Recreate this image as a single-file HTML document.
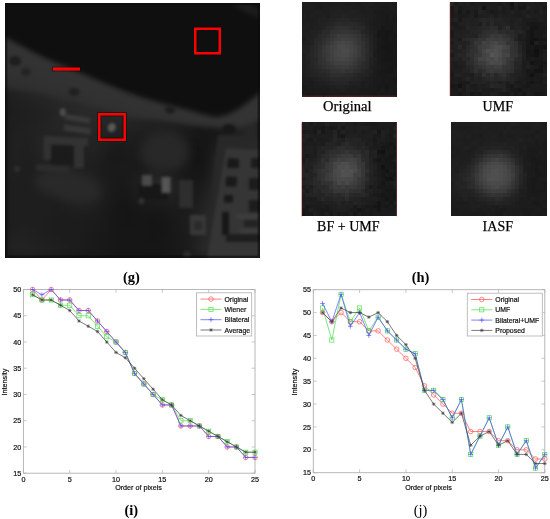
<!DOCTYPE html>
<html><head><meta charset="utf-8"><title>Figure</title>
<style>html,body{margin:0;padding:0;background:#fff;} svg{display:block;}</style></head>
<body><svg width="550" height="519" viewBox="0 0 550 519">
<rect width="550" height="519" fill="#fff"/>

<defs>
 <clipPath id="gclip"><rect x="5" y="3" width="255" height="255"/></clipPath>
 <filter id="gblur" color-interpolation-filters="sRGB" x="-10%" y="-10%" width="120%" height="120%"><feGaussianBlur stdDeviation="5"/></filter>
 <filter id="tankblur" color-interpolation-filters="sRGB" x="-50%" y="-50%" width="200%" height="200%"><feGaussianBlur stdDeviation="4"/></filter>
 <filter id="gblur3" color-interpolation-filters="sRGB" x="-20%" y="-20%" width="140%" height="140%"><feGaussianBlur stdDeviation="2.5"/></filter>
 <filter id="gblur2" color-interpolation-filters="sRGB" x="-20%" y="-20%" width="140%" height="140%"><feGaussianBlur stdDeviation="1.5"/></filter>
</defs>
<g clip-path="url(#gclip)">
 <rect x="5" y="3" width="255" height="255" fill="#141414"/>
 <g filter="url(#gblur)"><g transform="translate(5,3) scale(7.9688)"><rect x="0" y="0" width="1.1" height="1.1" fill="#111111"/><rect x="1" y="0" width="1.1" height="1.1" fill="#111111"/><rect x="2" y="0" width="1.1" height="1.1" fill="#111111"/><rect x="3" y="0" width="1.1" height="1.1" fill="#111111"/><rect x="4" y="0" width="1.1" height="1.1" fill="#111111"/><rect x="5" y="0" width="1.1" height="1.1" fill="#111111"/><rect x="6" y="0" width="1.1" height="1.1" fill="#111111"/><rect x="7" y="0" width="1.1" height="1.1" fill="#111111"/><rect x="8" y="0" width="1.1" height="1.1" fill="#111111"/><rect x="9" y="0" width="1.1" height="1.1" fill="#111111"/><rect x="10" y="0" width="1.1" height="1.1" fill="#111111"/><rect x="11" y="0" width="1.1" height="1.1" fill="#111111"/><rect x="12" y="0" width="1.1" height="1.1" fill="#111111"/><rect x="13" y="0" width="1.1" height="1.1" fill="#111111"/><rect x="14" y="0" width="1.1" height="1.1" fill="#111111"/><rect x="15" y="0" width="1.1" height="1.1" fill="#111111"/><rect x="16" y="0" width="1.1" height="1.1" fill="#111111"/><rect x="17" y="0" width="1.1" height="1.1" fill="#111111"/><rect x="18" y="0" width="1.1" height="1.1" fill="#111111"/><rect x="19" y="0" width="1.1" height="1.1" fill="#111111"/><rect x="20" y="0" width="1.1" height="1.1" fill="#111111"/><rect x="21" y="0" width="1.1" height="1.1" fill="#111111"/><rect x="22" y="0" width="1.1" height="1.1" fill="#111111"/><rect x="23" y="0" width="1.1" height="1.1" fill="#111111"/><rect x="24" y="0" width="1.1" height="1.1" fill="#111111"/><rect x="25" y="0" width="1.1" height="1.1" fill="#111111"/><rect x="26" y="0" width="1.1" height="1.1" fill="#121212"/><rect x="27" y="0" width="1.1" height="1.1" fill="#131313"/><rect x="28" y="0" width="1.1" height="1.1" fill="#141414"/><rect x="29" y="0" width="1.1" height="1.1" fill="#171717"/><rect x="30" y="0" width="1.1" height="1.1" fill="#1a1a1a"/><rect x="31" y="0" width="1.1" height="1.1" fill="#1b1b1b"/><rect x="0" y="1" width="1.1" height="1.1" fill="#111111"/><rect x="1" y="1" width="1.1" height="1.1" fill="#111111"/><rect x="2" y="1" width="1.1" height="1.1" fill="#111111"/><rect x="3" y="1" width="1.1" height="1.1" fill="#111111"/><rect x="4" y="1" width="1.1" height="1.1" fill="#111111"/><rect x="5" y="1" width="1.1" height="1.1" fill="#111111"/><rect x="6" y="1" width="1.1" height="1.1" fill="#111111"/><rect x="7" y="1" width="1.1" height="1.1" fill="#111111"/><rect x="8" y="1" width="1.1" height="1.1" fill="#111111"/><rect x="9" y="1" width="1.1" height="1.1" fill="#111111"/><rect x="10" y="1" width="1.1" height="1.1" fill="#111111"/><rect x="11" y="1" width="1.1" height="1.1" fill="#111111"/><rect x="12" y="1" width="1.1" height="1.1" fill="#111111"/><rect x="13" y="1" width="1.1" height="1.1" fill="#111111"/><rect x="14" y="1" width="1.1" height="1.1" fill="#111111"/><rect x="15" y="1" width="1.1" height="1.1" fill="#111111"/><rect x="16" y="1" width="1.1" height="1.1" fill="#111111"/><rect x="17" y="1" width="1.1" height="1.1" fill="#111111"/><rect x="18" y="1" width="1.1" height="1.1" fill="#111111"/><rect x="19" y="1" width="1.1" height="1.1" fill="#111111"/><rect x="20" y="1" width="1.1" height="1.1" fill="#111111"/><rect x="21" y="1" width="1.1" height="1.1" fill="#111111"/><rect x="22" y="1" width="1.1" height="1.1" fill="#111111"/><rect x="23" y="1" width="1.1" height="1.1" fill="#111111"/><rect x="24" y="1" width="1.1" height="1.1" fill="#111111"/><rect x="25" y="1" width="1.1" height="1.1" fill="#111111"/><rect x="26" y="1" width="1.1" height="1.1" fill="#111111"/><rect x="27" y="1" width="1.1" height="1.1" fill="#121212"/><rect x="28" y="1" width="1.1" height="1.1" fill="#141414"/><rect x="29" y="1" width="1.1" height="1.1" fill="#161616"/><rect x="30" y="1" width="1.1" height="1.1" fill="#181818"/><rect x="31" y="1" width="1.1" height="1.1" fill="#191919"/><rect x="0" y="2" width="1.1" height="1.1" fill="#111111"/><rect x="1" y="2" width="1.1" height="1.1" fill="#111111"/><rect x="2" y="2" width="1.1" height="1.1" fill="#111111"/><rect x="3" y="2" width="1.1" height="1.1" fill="#101010"/><rect x="4" y="2" width="1.1" height="1.1" fill="#111111"/><rect x="5" y="2" width="1.1" height="1.1" fill="#111111"/><rect x="6" y="2" width="1.1" height="1.1" fill="#111111"/><rect x="7" y="2" width="1.1" height="1.1" fill="#111111"/><rect x="8" y="2" width="1.1" height="1.1" fill="#111111"/><rect x="9" y="2" width="1.1" height="1.1" fill="#111111"/><rect x="10" y="2" width="1.1" height="1.1" fill="#111111"/><rect x="11" y="2" width="1.1" height="1.1" fill="#111111"/><rect x="12" y="2" width="1.1" height="1.1" fill="#111111"/><rect x="13" y="2" width="1.1" height="1.1" fill="#111111"/><rect x="14" y="2" width="1.1" height="1.1" fill="#111111"/><rect x="15" y="2" width="1.1" height="1.1" fill="#111111"/><rect x="16" y="2" width="1.1" height="1.1" fill="#111111"/><rect x="17" y="2" width="1.1" height="1.1" fill="#111111"/><rect x="18" y="2" width="1.1" height="1.1" fill="#111111"/><rect x="19" y="2" width="1.1" height="1.1" fill="#111111"/><rect x="20" y="2" width="1.1" height="1.1" fill="#111111"/><rect x="21" y="2" width="1.1" height="1.1" fill="#111111"/><rect x="22" y="2" width="1.1" height="1.1" fill="#111111"/><rect x="23" y="2" width="1.1" height="1.1" fill="#111111"/><rect x="24" y="2" width="1.1" height="1.1" fill="#111111"/><rect x="25" y="2" width="1.1" height="1.1" fill="#111111"/><rect x="26" y="2" width="1.1" height="1.1" fill="#111111"/><rect x="27" y="2" width="1.1" height="1.1" fill="#111111"/><rect x="28" y="2" width="1.1" height="1.1" fill="#121212"/><rect x="29" y="2" width="1.1" height="1.1" fill="#131313"/><rect x="30" y="2" width="1.1" height="1.1" fill="#151515"/><rect x="31" y="2" width="1.1" height="1.1" fill="#161616"/><rect x="0" y="3" width="1.1" height="1.1" fill="#171717"/><rect x="1" y="3" width="1.1" height="1.1" fill="#161616"/><rect x="2" y="3" width="1.1" height="1.1" fill="#131313"/><rect x="3" y="3" width="1.1" height="1.1" fill="#121212"/><rect x="4" y="3" width="1.1" height="1.1" fill="#111111"/><rect x="5" y="3" width="1.1" height="1.1" fill="#111111"/><rect x="6" y="3" width="1.1" height="1.1" fill="#111111"/><rect x="7" y="3" width="1.1" height="1.1" fill="#111111"/><rect x="8" y="3" width="1.1" height="1.1" fill="#111111"/><rect x="9" y="3" width="1.1" height="1.1" fill="#111111"/><rect x="10" y="3" width="1.1" height="1.1" fill="#111111"/><rect x="11" y="3" width="1.1" height="1.1" fill="#111111"/><rect x="12" y="3" width="1.1" height="1.1" fill="#111111"/><rect x="13" y="3" width="1.1" height="1.1" fill="#111111"/><rect x="14" y="3" width="1.1" height="1.1" fill="#111111"/><rect x="15" y="3" width="1.1" height="1.1" fill="#111111"/><rect x="16" y="3" width="1.1" height="1.1" fill="#111111"/><rect x="17" y="3" width="1.1" height="1.1" fill="#111111"/><rect x="18" y="3" width="1.1" height="1.1" fill="#111111"/><rect x="19" y="3" width="1.1" height="1.1" fill="#111111"/><rect x="20" y="3" width="1.1" height="1.1" fill="#111111"/><rect x="21" y="3" width="1.1" height="1.1" fill="#111111"/><rect x="22" y="3" width="1.1" height="1.1" fill="#111111"/><rect x="23" y="3" width="1.1" height="1.1" fill="#111111"/><rect x="24" y="3" width="1.1" height="1.1" fill="#111111"/><rect x="25" y="3" width="1.1" height="1.1" fill="#111111"/><rect x="26" y="3" width="1.1" height="1.1" fill="#111111"/><rect x="27" y="3" width="1.1" height="1.1" fill="#111111"/><rect x="28" y="3" width="1.1" height="1.1" fill="#111111"/><rect x="29" y="3" width="1.1" height="1.1" fill="#121212"/><rect x="30" y="3" width="1.1" height="1.1" fill="#131313"/><rect x="31" y="3" width="1.1" height="1.1" fill="#131313"/><rect x="0" y="4" width="1.1" height="1.1" fill="#232323"/><rect x="1" y="4" width="1.1" height="1.1" fill="#202020"/><rect x="2" y="4" width="1.1" height="1.1" fill="#1a1a1a"/><rect x="3" y="4" width="1.1" height="1.1" fill="#151515"/><rect x="4" y="4" width="1.1" height="1.1" fill="#121212"/><rect x="5" y="4" width="1.1" height="1.1" fill="#111111"/><rect x="6" y="4" width="1.1" height="1.1" fill="#101010"/><rect x="7" y="4" width="1.1" height="1.1" fill="#101010"/><rect x="8" y="4" width="1.1" height="1.1" fill="#111111"/><rect x="9" y="4" width="1.1" height="1.1" fill="#111111"/><rect x="10" y="4" width="1.1" height="1.1" fill="#111111"/><rect x="11" y="4" width="1.1" height="1.1" fill="#111111"/><rect x="12" y="4" width="1.1" height="1.1" fill="#111111"/><rect x="13" y="4" width="1.1" height="1.1" fill="#111111"/><rect x="14" y="4" width="1.1" height="1.1" fill="#111111"/><rect x="15" y="4" width="1.1" height="1.1" fill="#111111"/><rect x="16" y="4" width="1.1" height="1.1" fill="#111111"/><rect x="17" y="4" width="1.1" height="1.1" fill="#111111"/><rect x="18" y="4" width="1.1" height="1.1" fill="#111111"/><rect x="19" y="4" width="1.1" height="1.1" fill="#111111"/><rect x="20" y="4" width="1.1" height="1.1" fill="#111111"/><rect x="21" y="4" width="1.1" height="1.1" fill="#111111"/><rect x="22" y="4" width="1.1" height="1.1" fill="#111111"/><rect x="23" y="4" width="1.1" height="1.1" fill="#111111"/><rect x="24" y="4" width="1.1" height="1.1" fill="#111111"/><rect x="25" y="4" width="1.1" height="1.1" fill="#111111"/><rect x="26" y="4" width="1.1" height="1.1" fill="#111111"/><rect x="27" y="4" width="1.1" height="1.1" fill="#111111"/><rect x="28" y="4" width="1.1" height="1.1" fill="#111111"/><rect x="29" y="4" width="1.1" height="1.1" fill="#111111"/><rect x="30" y="4" width="1.1" height="1.1" fill="#121212"/><rect x="31" y="4" width="1.1" height="1.1" fill="#121212"/><rect x="0" y="5" width="1.1" height="1.1" fill="#2a2a2a"/><rect x="1" y="5" width="1.1" height="1.1" fill="#272727"/><rect x="2" y="5" width="1.1" height="1.1" fill="#212121"/><rect x="3" y="5" width="1.1" height="1.1" fill="#1c1c1c"/><rect x="4" y="5" width="1.1" height="1.1" fill="#181818"/><rect x="5" y="5" width="1.1" height="1.1" fill="#151515"/><rect x="6" y="5" width="1.1" height="1.1" fill="#131313"/><rect x="7" y="5" width="1.1" height="1.1" fill="#121212"/><rect x="8" y="5" width="1.1" height="1.1" fill="#111111"/><rect x="9" y="5" width="1.1" height="1.1" fill="#111111"/><rect x="10" y="5" width="1.1" height="1.1" fill="#111111"/><rect x="11" y="5" width="1.1" height="1.1" fill="#111111"/><rect x="12" y="5" width="1.1" height="1.1" fill="#111111"/><rect x="13" y="5" width="1.1" height="1.1" fill="#111111"/><rect x="14" y="5" width="1.1" height="1.1" fill="#111111"/><rect x="15" y="5" width="1.1" height="1.1" fill="#111111"/><rect x="16" y="5" width="1.1" height="1.1" fill="#111111"/><rect x="17" y="5" width="1.1" height="1.1" fill="#111111"/><rect x="18" y="5" width="1.1" height="1.1" fill="#111111"/><rect x="19" y="5" width="1.1" height="1.1" fill="#111111"/><rect x="20" y="5" width="1.1" height="1.1" fill="#111111"/><rect x="21" y="5" width="1.1" height="1.1" fill="#111111"/><rect x="22" y="5" width="1.1" height="1.1" fill="#111111"/><rect x="23" y="5" width="1.1" height="1.1" fill="#111111"/><rect x="24" y="5" width="1.1" height="1.1" fill="#111111"/><rect x="25" y="5" width="1.1" height="1.1" fill="#111111"/><rect x="26" y="5" width="1.1" height="1.1" fill="#111111"/><rect x="27" y="5" width="1.1" height="1.1" fill="#111111"/><rect x="28" y="5" width="1.1" height="1.1" fill="#111111"/><rect x="29" y="5" width="1.1" height="1.1" fill="#111111"/><rect x="30" y="5" width="1.1" height="1.1" fill="#121212"/><rect x="31" y="5" width="1.1" height="1.1" fill="#121212"/><rect x="0" y="6" width="1.1" height="1.1" fill="#2d2d2d"/><rect x="1" y="6" width="1.1" height="1.1" fill="#2d2d2d"/><rect x="2" y="6" width="1.1" height="1.1" fill="#2b2b2b"/><rect x="3" y="6" width="1.1" height="1.1" fill="#282828"/><rect x="4" y="6" width="1.1" height="1.1" fill="#242424"/><rect x="5" y="6" width="1.1" height="1.1" fill="#1f1f1f"/><rect x="6" y="6" width="1.1" height="1.1" fill="#191919"/><rect x="7" y="6" width="1.1" height="1.1" fill="#151515"/><rect x="8" y="6" width="1.1" height="1.1" fill="#121212"/><rect x="9" y="6" width="1.1" height="1.1" fill="#101010"/><rect x="10" y="6" width="1.1" height="1.1" fill="#101010"/><rect x="11" y="6" width="1.1" height="1.1" fill="#101010"/><rect x="12" y="6" width="1.1" height="1.1" fill="#101010"/><rect x="13" y="6" width="1.1" height="1.1" fill="#111111"/><rect x="14" y="6" width="1.1" height="1.1" fill="#111111"/><rect x="15" y="6" width="1.1" height="1.1" fill="#111111"/><rect x="16" y="6" width="1.1" height="1.1" fill="#111111"/><rect x="17" y="6" width="1.1" height="1.1" fill="#111111"/><rect x="18" y="6" width="1.1" height="1.1" fill="#111111"/><rect x="19" y="6" width="1.1" height="1.1" fill="#111111"/><rect x="20" y="6" width="1.1" height="1.1" fill="#111111"/><rect x="21" y="6" width="1.1" height="1.1" fill="#111111"/><rect x="22" y="6" width="1.1" height="1.1" fill="#111111"/><rect x="23" y="6" width="1.1" height="1.1" fill="#111111"/><rect x="24" y="6" width="1.1" height="1.1" fill="#111111"/><rect x="25" y="6" width="1.1" height="1.1" fill="#111111"/><rect x="26" y="6" width="1.1" height="1.1" fill="#111111"/><rect x="27" y="6" width="1.1" height="1.1" fill="#111111"/><rect x="28" y="6" width="1.1" height="1.1" fill="#111111"/><rect x="29" y="6" width="1.1" height="1.1" fill="#111111"/><rect x="30" y="6" width="1.1" height="1.1" fill="#121212"/><rect x="31" y="6" width="1.1" height="1.1" fill="#121212"/><rect x="0" y="7" width="1.1" height="1.1" fill="#2e2e2e"/><rect x="1" y="7" width="1.1" height="1.1" fill="#2f2f2f"/><rect x="2" y="7" width="1.1" height="1.1" fill="#303030"/><rect x="3" y="7" width="1.1" height="1.1" fill="#2f2f2f"/><rect x="4" y="7" width="1.1" height="1.1" fill="#2c2c2c"/><rect x="5" y="7" width="1.1" height="1.1" fill="#282828"/><rect x="6" y="7" width="1.1" height="1.1" fill="#222222"/><rect x="7" y="7" width="1.1" height="1.1" fill="#1e1e1e"/><rect x="8" y="7" width="1.1" height="1.1" fill="#1a1a1a"/><rect x="9" y="7" width="1.1" height="1.1" fill="#171717"/><rect x="10" y="7" width="1.1" height="1.1" fill="#151515"/><rect x="11" y="7" width="1.1" height="1.1" fill="#131313"/><rect x="12" y="7" width="1.1" height="1.1" fill="#121212"/><rect x="13" y="7" width="1.1" height="1.1" fill="#121212"/><rect x="14" y="7" width="1.1" height="1.1" fill="#111111"/><rect x="15" y="7" width="1.1" height="1.1" fill="#111111"/><rect x="16" y="7" width="1.1" height="1.1" fill="#111111"/><rect x="17" y="7" width="1.1" height="1.1" fill="#111111"/><rect x="18" y="7" width="1.1" height="1.1" fill="#111111"/><rect x="19" y="7" width="1.1" height="1.1" fill="#111111"/><rect x="20" y="7" width="1.1" height="1.1" fill="#111111"/><rect x="21" y="7" width="1.1" height="1.1" fill="#111111"/><rect x="22" y="7" width="1.1" height="1.1" fill="#111111"/><rect x="23" y="7" width="1.1" height="1.1" fill="#111111"/><rect x="24" y="7" width="1.1" height="1.1" fill="#111111"/><rect x="25" y="7" width="1.1" height="1.1" fill="#111111"/><rect x="26" y="7" width="1.1" height="1.1" fill="#111111"/><rect x="27" y="7" width="1.1" height="1.1" fill="#111111"/><rect x="28" y="7" width="1.1" height="1.1" fill="#111111"/><rect x="29" y="7" width="1.1" height="1.1" fill="#111111"/><rect x="30" y="7" width="1.1" height="1.1" fill="#121212"/><rect x="31" y="7" width="1.1" height="1.1" fill="#121212"/><rect x="0" y="8" width="1.1" height="1.1" fill="#2d2d2d"/><rect x="1" y="8" width="1.1" height="1.1" fill="#2e2e2e"/><rect x="2" y="8" width="1.1" height="1.1" fill="#303030"/><rect x="3" y="8" width="1.1" height="1.1" fill="#313131"/><rect x="4" y="8" width="1.1" height="1.1" fill="#313131"/><rect x="5" y="8" width="1.1" height="1.1" fill="#303030"/><rect x="6" y="8" width="1.1" height="1.1" fill="#2f2f2f"/><rect x="7" y="8" width="1.1" height="1.1" fill="#2d2d2d"/><rect x="8" y="8" width="1.1" height="1.1" fill="#2b2b2b"/><rect x="9" y="8" width="1.1" height="1.1" fill="#262626"/><rect x="10" y="8" width="1.1" height="1.1" fill="#202020"/><rect x="11" y="8" width="1.1" height="1.1" fill="#1b1b1b"/><rect x="12" y="8" width="1.1" height="1.1" fill="#171717"/><rect x="13" y="8" width="1.1" height="1.1" fill="#141414"/><rect x="14" y="8" width="1.1" height="1.1" fill="#121212"/><rect x="15" y="8" width="1.1" height="1.1" fill="#111111"/><rect x="16" y="8" width="1.1" height="1.1" fill="#101010"/><rect x="17" y="8" width="1.1" height="1.1" fill="#101010"/><rect x="18" y="8" width="1.1" height="1.1" fill="#101010"/><rect x="19" y="8" width="1.1" height="1.1" fill="#111111"/><rect x="20" y="8" width="1.1" height="1.1" fill="#111111"/><rect x="21" y="8" width="1.1" height="1.1" fill="#111111"/><rect x="22" y="8" width="1.1" height="1.1" fill="#111111"/><rect x="23" y="8" width="1.1" height="1.1" fill="#111111"/><rect x="24" y="8" width="1.1" height="1.1" fill="#111111"/><rect x="25" y="8" width="1.1" height="1.1" fill="#111111"/><rect x="26" y="8" width="1.1" height="1.1" fill="#111111"/><rect x="27" y="8" width="1.1" height="1.1" fill="#111111"/><rect x="28" y="8" width="1.1" height="1.1" fill="#111111"/><rect x="29" y="8" width="1.1" height="1.1" fill="#111111"/><rect x="30" y="8" width="1.1" height="1.1" fill="#121212"/><rect x="31" y="8" width="1.1" height="1.1" fill="#121212"/><rect x="0" y="9" width="1.1" height="1.1" fill="#2a2a2a"/><rect x="1" y="9" width="1.1" height="1.1" fill="#2b2b2b"/><rect x="2" y="9" width="1.1" height="1.1" fill="#2d2d2d"/><rect x="3" y="9" width="1.1" height="1.1" fill="#2f2f2f"/><rect x="4" y="9" width="1.1" height="1.1" fill="#313131"/><rect x="5" y="9" width="1.1" height="1.1" fill="#323232"/><rect x="6" y="9" width="1.1" height="1.1" fill="#343434"/><rect x="7" y="9" width="1.1" height="1.1" fill="#343434"/><rect x="8" y="9" width="1.1" height="1.1" fill="#323232"/><rect x="9" y="9" width="1.1" height="1.1" fill="#2e2e2e"/><rect x="10" y="9" width="1.1" height="1.1" fill="#292929"/><rect x="11" y="9" width="1.1" height="1.1" fill="#242424"/><rect x="12" y="9" width="1.1" height="1.1" fill="#202020"/><rect x="13" y="9" width="1.1" height="1.1" fill="#1c1c1c"/><rect x="14" y="9" width="1.1" height="1.1" fill="#191919"/><rect x="15" y="9" width="1.1" height="1.1" fill="#161616"/><rect x="16" y="9" width="1.1" height="1.1" fill="#141414"/><rect x="17" y="9" width="1.1" height="1.1" fill="#131313"/><rect x="18" y="9" width="1.1" height="1.1" fill="#121212"/><rect x="19" y="9" width="1.1" height="1.1" fill="#111111"/><rect x="20" y="9" width="1.1" height="1.1" fill="#111111"/><rect x="21" y="9" width="1.1" height="1.1" fill="#111111"/><rect x="22" y="9" width="1.1" height="1.1" fill="#111111"/><rect x="23" y="9" width="1.1" height="1.1" fill="#111111"/><rect x="24" y="9" width="1.1" height="1.1" fill="#111111"/><rect x="25" y="9" width="1.1" height="1.1" fill="#111111"/><rect x="26" y="9" width="1.1" height="1.1" fill="#111111"/><rect x="27" y="9" width="1.1" height="1.1" fill="#111111"/><rect x="28" y="9" width="1.1" height="1.1" fill="#111111"/><rect x="29" y="9" width="1.1" height="1.1" fill="#111111"/><rect x="30" y="9" width="1.1" height="1.1" fill="#121212"/><rect x="31" y="9" width="1.1" height="1.1" fill="#121212"/><rect x="0" y="10" width="1.1" height="1.1" fill="#262626"/><rect x="1" y="10" width="1.1" height="1.1" fill="#262626"/><rect x="2" y="10" width="1.1" height="1.1" fill="#282828"/><rect x="3" y="10" width="1.1" height="1.1" fill="#292929"/><rect x="4" y="10" width="1.1" height="1.1" fill="#2b2b2b"/><rect x="5" y="10" width="1.1" height="1.1" fill="#2e2e2e"/><rect x="6" y="10" width="1.1" height="1.1" fill="#303030"/><rect x="7" y="10" width="1.1" height="1.1" fill="#303030"/><rect x="8" y="10" width="1.1" height="1.1" fill="#2f2f2f"/><rect x="9" y="10" width="1.1" height="1.1" fill="#2f2f2f"/><rect x="10" y="10" width="1.1" height="1.1" fill="#313131"/><rect x="11" y="10" width="1.1" height="1.1" fill="#303030"/><rect x="12" y="10" width="1.1" height="1.1" fill="#2d2d2d"/><rect x="13" y="10" width="1.1" height="1.1" fill="#2a2a2a"/><rect x="14" y="10" width="1.1" height="1.1" fill="#262626"/><rect x="15" y="10" width="1.1" height="1.1" fill="#212121"/><rect x="16" y="10" width="1.1" height="1.1" fill="#1c1c1c"/><rect x="17" y="10" width="1.1" height="1.1" fill="#181818"/><rect x="18" y="10" width="1.1" height="1.1" fill="#151515"/><rect x="19" y="10" width="1.1" height="1.1" fill="#131313"/><rect x="20" y="10" width="1.1" height="1.1" fill="#111111"/><rect x="21" y="10" width="1.1" height="1.1" fill="#101010"/><rect x="22" y="10" width="1.1" height="1.1" fill="#101010"/><rect x="23" y="10" width="1.1" height="1.1" fill="#111111"/><rect x="24" y="10" width="1.1" height="1.1" fill="#111111"/><rect x="25" y="10" width="1.1" height="1.1" fill="#111111"/><rect x="26" y="10" width="1.1" height="1.1" fill="#111111"/><rect x="27" y="10" width="1.1" height="1.1" fill="#111111"/><rect x="28" y="10" width="1.1" height="1.1" fill="#101010"/><rect x="29" y="10" width="1.1" height="1.1" fill="#111111"/><rect x="30" y="10" width="1.1" height="1.1" fill="#121212"/><rect x="31" y="10" width="1.1" height="1.1" fill="#131313"/><rect x="0" y="11" width="1.1" height="1.1" fill="#222222"/><rect x="1" y="11" width="1.1" height="1.1" fill="#222222"/><rect x="2" y="11" width="1.1" height="1.1" fill="#232323"/><rect x="3" y="11" width="1.1" height="1.1" fill="#252525"/><rect x="4" y="11" width="1.1" height="1.1" fill="#272727"/><rect x="5" y="11" width="1.1" height="1.1" fill="#292929"/><rect x="6" y="11" width="1.1" height="1.1" fill="#2b2b2b"/><rect x="7" y="11" width="1.1" height="1.1" fill="#2c2c2c"/><rect x="8" y="11" width="1.1" height="1.1" fill="#2c2c2c"/><rect x="9" y="11" width="1.1" height="1.1" fill="#2e2e2e"/><rect x="10" y="11" width="1.1" height="1.1" fill="#313131"/><rect x="11" y="11" width="1.1" height="1.1" fill="#333333"/><rect x="12" y="11" width="1.1" height="1.1" fill="#323232"/><rect x="13" y="11" width="1.1" height="1.1" fill="#303030"/><rect x="14" y="11" width="1.1" height="1.1" fill="#2d2d2d"/><rect x="15" y="11" width="1.1" height="1.1" fill="#292929"/><rect x="16" y="11" width="1.1" height="1.1" fill="#242424"/><rect x="17" y="11" width="1.1" height="1.1" fill="#202020"/><rect x="18" y="11" width="1.1" height="1.1" fill="#1c1c1c"/><rect x="19" y="11" width="1.1" height="1.1" fill="#191919"/><rect x="20" y="11" width="1.1" height="1.1" fill="#161616"/><rect x="21" y="11" width="1.1" height="1.1" fill="#141414"/><rect x="22" y="11" width="1.1" height="1.1" fill="#131313"/><rect x="23" y="11" width="1.1" height="1.1" fill="#121212"/><rect x="24" y="11" width="1.1" height="1.1" fill="#111111"/><rect x="25" y="11" width="1.1" height="1.1" fill="#111111"/><rect x="26" y="11" width="1.1" height="1.1" fill="#111111"/><rect x="27" y="11" width="1.1" height="1.1" fill="#121212"/><rect x="28" y="11" width="1.1" height="1.1" fill="#121212"/><rect x="29" y="11" width="1.1" height="1.1" fill="#141414"/><rect x="30" y="11" width="1.1" height="1.1" fill="#161616"/><rect x="31" y="11" width="1.1" height="1.1" fill="#171717"/><rect x="0" y="12" width="1.1" height="1.1" fill="#1f1f1f"/><rect x="1" y="12" width="1.1" height="1.1" fill="#1f1f1f"/><rect x="2" y="12" width="1.1" height="1.1" fill="#202020"/><rect x="3" y="12" width="1.1" height="1.1" fill="#222222"/><rect x="4" y="12" width="1.1" height="1.1" fill="#232323"/><rect x="5" y="12" width="1.1" height="1.1" fill="#242424"/><rect x="6" y="12" width="1.1" height="1.1" fill="#272727"/><rect x="7" y="12" width="1.1" height="1.1" fill="#282828"/><rect x="8" y="12" width="1.1" height="1.1" fill="#292929"/><rect x="9" y="12" width="1.1" height="1.1" fill="#2a2a2a"/><rect x="10" y="12" width="1.1" height="1.1" fill="#2c2c2c"/><rect x="11" y="12" width="1.1" height="1.1" fill="#2d2d2d"/><rect x="12" y="12" width="1.1" height="1.1" fill="#2e2e2e"/><rect x="13" y="12" width="1.1" height="1.1" fill="#2e2e2e"/><rect x="14" y="12" width="1.1" height="1.1" fill="#2e2e2e"/><rect x="15" y="12" width="1.1" height="1.1" fill="#2d2d2d"/><rect x="16" y="12" width="1.1" height="1.1" fill="#2b2b2b"/><rect x="17" y="12" width="1.1" height="1.1" fill="#292929"/><rect x="18" y="12" width="1.1" height="1.1" fill="#262626"/><rect x="19" y="12" width="1.1" height="1.1" fill="#242424"/><rect x="20" y="12" width="1.1" height="1.1" fill="#212121"/><rect x="21" y="12" width="1.1" height="1.1" fill="#1d1d1d"/><rect x="22" y="12" width="1.1" height="1.1" fill="#181818"/><rect x="23" y="12" width="1.1" height="1.1" fill="#151515"/><rect x="24" y="12" width="1.1" height="1.1" fill="#131313"/><rect x="25" y="12" width="1.1" height="1.1" fill="#121212"/><rect x="26" y="12" width="1.1" height="1.1" fill="#121212"/><rect x="27" y="12" width="1.1" height="1.1" fill="#141414"/><rect x="28" y="12" width="1.1" height="1.1" fill="#161616"/><rect x="29" y="12" width="1.1" height="1.1" fill="#1a1a1a"/><rect x="30" y="12" width="1.1" height="1.1" fill="#1e1e1e"/><rect x="31" y="12" width="1.1" height="1.1" fill="#1f1f1f"/><rect x="0" y="13" width="1.1" height="1.1" fill="#1d1d1d"/><rect x="1" y="13" width="1.1" height="1.1" fill="#1e1e1e"/><rect x="2" y="13" width="1.1" height="1.1" fill="#1f1f1f"/><rect x="3" y="13" width="1.1" height="1.1" fill="#202020"/><rect x="4" y="13" width="1.1" height="1.1" fill="#212121"/><rect x="5" y="13" width="1.1" height="1.1" fill="#222222"/><rect x="6" y="13" width="1.1" height="1.1" fill="#252525"/><rect x="7" y="13" width="1.1" height="1.1" fill="#262626"/><rect x="8" y="13" width="1.1" height="1.1" fill="#272727"/><rect x="9" y="13" width="1.1" height="1.1" fill="#282828"/><rect x="10" y="13" width="1.1" height="1.1" fill="#292929"/><rect x="11" y="13" width="1.1" height="1.1" fill="#292929"/><rect x="12" y="13" width="1.1" height="1.1" fill="#2a2a2a"/><rect x="13" y="13" width="1.1" height="1.1" fill="#2b2b2b"/><rect x="14" y="13" width="1.1" height="1.1" fill="#2c2c2c"/><rect x="15" y="13" width="1.1" height="1.1" fill="#2c2c2c"/><rect x="16" y="13" width="1.1" height="1.1" fill="#2c2c2c"/><rect x="17" y="13" width="1.1" height="1.1" fill="#2a2a2a"/><rect x="18" y="13" width="1.1" height="1.1" fill="#292929"/><rect x="19" y="13" width="1.1" height="1.1" fill="#272727"/><rect x="20" y="13" width="1.1" height="1.1" fill="#242424"/><rect x="21" y="13" width="1.1" height="1.1" fill="#212121"/><rect x="22" y="13" width="1.1" height="1.1" fill="#1c1c1c"/><rect x="23" y="13" width="1.1" height="1.1" fill="#181818"/><rect x="24" y="13" width="1.1" height="1.1" fill="#151515"/><rect x="25" y="13" width="1.1" height="1.1" fill="#141414"/><rect x="26" y="13" width="1.1" height="1.1" fill="#151515"/><rect x="27" y="13" width="1.1" height="1.1" fill="#171717"/><rect x="28" y="13" width="1.1" height="1.1" fill="#1a1a1a"/><rect x="29" y="13" width="1.1" height="1.1" fill="#1e1e1e"/><rect x="30" y="13" width="1.1" height="1.1" fill="#232323"/><rect x="31" y="13" width="1.1" height="1.1" fill="#252525"/><rect x="0" y="14" width="1.1" height="1.1" fill="#1e1e1e"/><rect x="1" y="14" width="1.1" height="1.1" fill="#1e1e1e"/><rect x="2" y="14" width="1.1" height="1.1" fill="#1f1f1f"/><rect x="3" y="14" width="1.1" height="1.1" fill="#202020"/><rect x="4" y="14" width="1.1" height="1.1" fill="#212121"/><rect x="5" y="14" width="1.1" height="1.1" fill="#232323"/><rect x="6" y="14" width="1.1" height="1.1" fill="#252525"/><rect x="7" y="14" width="1.1" height="1.1" fill="#272727"/><rect x="8" y="14" width="1.1" height="1.1" fill="#282828"/><rect x="9" y="14" width="1.1" height="1.1" fill="#282828"/><rect x="10" y="14" width="1.1" height="1.1" fill="#292929"/><rect x="11" y="14" width="1.1" height="1.1" fill="#282828"/><rect x="12" y="14" width="1.1" height="1.1" fill="#262626"/><rect x="13" y="14" width="1.1" height="1.1" fill="#262626"/><rect x="14" y="14" width="1.1" height="1.1" fill="#272727"/><rect x="15" y="14" width="1.1" height="1.1" fill="#262626"/><rect x="16" y="14" width="1.1" height="1.1" fill="#252525"/><rect x="17" y="14" width="1.1" height="1.1" fill="#242424"/><rect x="18" y="14" width="1.1" height="1.1" fill="#222222"/><rect x="19" y="14" width="1.1" height="1.1" fill="#222222"/><rect x="20" y="14" width="1.1" height="1.1" fill="#212121"/><rect x="21" y="14" width="1.1" height="1.1" fill="#202020"/><rect x="22" y="14" width="1.1" height="1.1" fill="#1d1d1d"/><rect x="23" y="14" width="1.1" height="1.1" fill="#1a1a1a"/><rect x="24" y="14" width="1.1" height="1.1" fill="#181818"/><rect x="25" y="14" width="1.1" height="1.1" fill="#171717"/><rect x="26" y="14" width="1.1" height="1.1" fill="#181818"/><rect x="27" y="14" width="1.1" height="1.1" fill="#1a1a1a"/><rect x="28" y="14" width="1.1" height="1.1" fill="#1f1f1f"/><rect x="29" y="14" width="1.1" height="1.1" fill="#232323"/><rect x="30" y="14" width="1.1" height="1.1" fill="#262626"/><rect x="31" y="14" width="1.1" height="1.1" fill="#282828"/><rect x="0" y="15" width="1.1" height="1.1" fill="#1e1e1e"/><rect x="1" y="15" width="1.1" height="1.1" fill="#1f1f1f"/><rect x="2" y="15" width="1.1" height="1.1" fill="#202020"/><rect x="3" y="15" width="1.1" height="1.1" fill="#212121"/><rect x="4" y="15" width="1.1" height="1.1" fill="#222222"/><rect x="5" y="15" width="1.1" height="1.1" fill="#232323"/><rect x="6" y="15" width="1.1" height="1.1" fill="#252525"/><rect x="7" y="15" width="1.1" height="1.1" fill="#262626"/><rect x="8" y="15" width="1.1" height="1.1" fill="#272727"/><rect x="9" y="15" width="1.1" height="1.1" fill="#282828"/><rect x="10" y="15" width="1.1" height="1.1" fill="#282828"/><rect x="11" y="15" width="1.1" height="1.1" fill="#262626"/><rect x="12" y="15" width="1.1" height="1.1" fill="#242424"/><rect x="13" y="15" width="1.1" height="1.1" fill="#222222"/><rect x="14" y="15" width="1.1" height="1.1" fill="#222222"/><rect x="15" y="15" width="1.1" height="1.1" fill="#222222"/><rect x="16" y="15" width="1.1" height="1.1" fill="#212121"/><rect x="17" y="15" width="1.1" height="1.1" fill="#202020"/><rect x="18" y="15" width="1.1" height="1.1" fill="#202020"/><rect x="19" y="15" width="1.1" height="1.1" fill="#202020"/><rect x="20" y="15" width="1.1" height="1.1" fill="#202020"/><rect x="21" y="15" width="1.1" height="1.1" fill="#1f1f1f"/><rect x="22" y="15" width="1.1" height="1.1" fill="#1d1d1d"/><rect x="23" y="15" width="1.1" height="1.1" fill="#1b1b1b"/><rect x="24" y="15" width="1.1" height="1.1" fill="#181818"/><rect x="25" y="15" width="1.1" height="1.1" fill="#181818"/><rect x="26" y="15" width="1.1" height="1.1" fill="#191919"/><rect x="27" y="15" width="1.1" height="1.1" fill="#1c1c1c"/><rect x="28" y="15" width="1.1" height="1.1" fill="#202020"/><rect x="29" y="15" width="1.1" height="1.1" fill="#242424"/><rect x="30" y="15" width="1.1" height="1.1" fill="#272727"/><rect x="31" y="15" width="1.1" height="1.1" fill="#292929"/><rect x="0" y="16" width="1.1" height="1.1" fill="#202020"/><rect x="1" y="16" width="1.1" height="1.1" fill="#202020"/><rect x="2" y="16" width="1.1" height="1.1" fill="#202020"/><rect x="3" y="16" width="1.1" height="1.1" fill="#212121"/><rect x="4" y="16" width="1.1" height="1.1" fill="#232323"/><rect x="5" y="16" width="1.1" height="1.1" fill="#242424"/><rect x="6" y="16" width="1.1" height="1.1" fill="#232323"/><rect x="7" y="16" width="1.1" height="1.1" fill="#242424"/><rect x="8" y="16" width="1.1" height="1.1" fill="#252525"/><rect x="9" y="16" width="1.1" height="1.1" fill="#262626"/><rect x="10" y="16" width="1.1" height="1.1" fill="#252525"/><rect x="11" y="16" width="1.1" height="1.1" fill="#242424"/><rect x="12" y="16" width="1.1" height="1.1" fill="#222222"/><rect x="13" y="16" width="1.1" height="1.1" fill="#202020"/><rect x="14" y="16" width="1.1" height="1.1" fill="#202020"/><rect x="15" y="16" width="1.1" height="1.1" fill="#1f1f1f"/><rect x="16" y="16" width="1.1" height="1.1" fill="#1f1f1f"/><rect x="17" y="16" width="1.1" height="1.1" fill="#1f1f1f"/><rect x="18" y="16" width="1.1" height="1.1" fill="#212121"/><rect x="19" y="16" width="1.1" height="1.1" fill="#212121"/><rect x="20" y="16" width="1.1" height="1.1" fill="#212121"/><rect x="21" y="16" width="1.1" height="1.1" fill="#1f1f1f"/><rect x="22" y="16" width="1.1" height="1.1" fill="#1c1c1c"/><rect x="23" y="16" width="1.1" height="1.1" fill="#191919"/><rect x="24" y="16" width="1.1" height="1.1" fill="#161616"/><rect x="25" y="16" width="1.1" height="1.1" fill="#161616"/><rect x="26" y="16" width="1.1" height="1.1" fill="#181818"/><rect x="27" y="16" width="1.1" height="1.1" fill="#1b1b1b"/><rect x="28" y="16" width="1.1" height="1.1" fill="#1f1f1f"/><rect x="29" y="16" width="1.1" height="1.1" fill="#232323"/><rect x="30" y="16" width="1.1" height="1.1" fill="#272727"/><rect x="31" y="16" width="1.1" height="1.1" fill="#292929"/><rect x="0" y="17" width="1.1" height="1.1" fill="#202020"/><rect x="1" y="17" width="1.1" height="1.1" fill="#202020"/><rect x="2" y="17" width="1.1" height="1.1" fill="#1f1f1f"/><rect x="3" y="17" width="1.1" height="1.1" fill="#212121"/><rect x="4" y="17" width="1.1" height="1.1" fill="#242424"/><rect x="5" y="17" width="1.1" height="1.1" fill="#242424"/><rect x="6" y="17" width="1.1" height="1.1" fill="#212121"/><rect x="7" y="17" width="1.1" height="1.1" fill="#202020"/><rect x="8" y="17" width="1.1" height="1.1" fill="#212121"/><rect x="9" y="17" width="1.1" height="1.1" fill="#232323"/><rect x="10" y="17" width="1.1" height="1.1" fill="#242424"/><rect x="11" y="17" width="1.1" height="1.1" fill="#232323"/><rect x="12" y="17" width="1.1" height="1.1" fill="#202020"/><rect x="13" y="17" width="1.1" height="1.1" fill="#1e1e1e"/><rect x="14" y="17" width="1.1" height="1.1" fill="#1d1d1d"/><rect x="15" y="17" width="1.1" height="1.1" fill="#1d1d1d"/><rect x="16" y="17" width="1.1" height="1.1" fill="#1d1d1d"/><rect x="17" y="17" width="1.1" height="1.1" fill="#1e1e1e"/><rect x="18" y="17" width="1.1" height="1.1" fill="#212121"/><rect x="19" y="17" width="1.1" height="1.1" fill="#222222"/><rect x="20" y="17" width="1.1" height="1.1" fill="#212121"/><rect x="21" y="17" width="1.1" height="1.1" fill="#1f1f1f"/><rect x="22" y="17" width="1.1" height="1.1" fill="#1b1b1b"/><rect x="23" y="17" width="1.1" height="1.1" fill="#181818"/><rect x="24" y="17" width="1.1" height="1.1" fill="#151515"/><rect x="25" y="17" width="1.1" height="1.1" fill="#161616"/><rect x="26" y="17" width="1.1" height="1.1" fill="#1a1a1a"/><rect x="27" y="17" width="1.1" height="1.1" fill="#1e1e1e"/><rect x="28" y="17" width="1.1" height="1.1" fill="#222222"/><rect x="29" y="17" width="1.1" height="1.1" fill="#262626"/><rect x="30" y="17" width="1.1" height="1.1" fill="#282828"/><rect x="31" y="17" width="1.1" height="1.1" fill="#292929"/><rect x="0" y="18" width="1.1" height="1.1" fill="#202020"/><rect x="1" y="18" width="1.1" height="1.1" fill="#202020"/><rect x="2" y="18" width="1.1" height="1.1" fill="#1e1e1e"/><rect x="3" y="18" width="1.1" height="1.1" fill="#202020"/><rect x="4" y="18" width="1.1" height="1.1" fill="#242424"/><rect x="5" y="18" width="1.1" height="1.1" fill="#232323"/><rect x="6" y="18" width="1.1" height="1.1" fill="#1d1d1d"/><rect x="7" y="18" width="1.1" height="1.1" fill="#1b1b1b"/><rect x="8" y="18" width="1.1" height="1.1" fill="#1c1c1c"/><rect x="9" y="18" width="1.1" height="1.1" fill="#1f1f1f"/><rect x="10" y="18" width="1.1" height="1.1" fill="#222222"/><rect x="11" y="18" width="1.1" height="1.1" fill="#212121"/><rect x="12" y="18" width="1.1" height="1.1" fill="#1d1d1d"/><rect x="13" y="18" width="1.1" height="1.1" fill="#1a1a1a"/><rect x="14" y="18" width="1.1" height="1.1" fill="#1a1a1a"/><rect x="15" y="18" width="1.1" height="1.1" fill="#1b1b1b"/><rect x="16" y="18" width="1.1" height="1.1" fill="#1c1c1c"/><rect x="17" y="18" width="1.1" height="1.1" fill="#1e1e1e"/><rect x="18" y="18" width="1.1" height="1.1" fill="#212121"/><rect x="19" y="18" width="1.1" height="1.1" fill="#232323"/><rect x="20" y="18" width="1.1" height="1.1" fill="#212121"/><rect x="21" y="18" width="1.1" height="1.1" fill="#1f1f1f"/><rect x="22" y="18" width="1.1" height="1.1" fill="#1a1a1a"/><rect x="23" y="18" width="1.1" height="1.1" fill="#171717"/><rect x="24" y="18" width="1.1" height="1.1" fill="#141414"/><rect x="25" y="18" width="1.1" height="1.1" fill="#171717"/><rect x="26" y="18" width="1.1" height="1.1" fill="#202020"/><rect x="27" y="18" width="1.1" height="1.1" fill="#262626"/><rect x="28" y="18" width="1.1" height="1.1" fill="#292929"/><rect x="29" y="18" width="1.1" height="1.1" fill="#2b2b2b"/><rect x="30" y="18" width="1.1" height="1.1" fill="#2a2a2a"/><rect x="31" y="18" width="1.1" height="1.1" fill="#2a2a2a"/><rect x="0" y="19" width="1.1" height="1.1" fill="#202020"/><rect x="1" y="19" width="1.1" height="1.1" fill="#202020"/><rect x="2" y="19" width="1.1" height="1.1" fill="#1e1e1e"/><rect x="3" y="19" width="1.1" height="1.1" fill="#1f1f1f"/><rect x="4" y="19" width="1.1" height="1.1" fill="#232323"/><rect x="5" y="19" width="1.1" height="1.1" fill="#222222"/><rect x="6" y="19" width="1.1" height="1.1" fill="#1d1d1d"/><rect x="7" y="19" width="1.1" height="1.1" fill="#1b1b1b"/><rect x="8" y="19" width="1.1" height="1.1" fill="#1c1c1c"/><rect x="9" y="19" width="1.1" height="1.1" fill="#1e1e1e"/><rect x="10" y="19" width="1.1" height="1.1" fill="#212121"/><rect x="11" y="19" width="1.1" height="1.1" fill="#202020"/><rect x="12" y="19" width="1.1" height="1.1" fill="#1b1b1b"/><rect x="13" y="19" width="1.1" height="1.1" fill="#191919"/><rect x="14" y="19" width="1.1" height="1.1" fill="#191919"/><rect x="15" y="19" width="1.1" height="1.1" fill="#1a1a1a"/><rect x="16" y="19" width="1.1" height="1.1" fill="#1b1b1b"/><rect x="17" y="19" width="1.1" height="1.1" fill="#1d1d1d"/><rect x="18" y="19" width="1.1" height="1.1" fill="#202020"/><rect x="19" y="19" width="1.1" height="1.1" fill="#212121"/><rect x="20" y="19" width="1.1" height="1.1" fill="#202020"/><rect x="21" y="19" width="1.1" height="1.1" fill="#1e1e1e"/><rect x="22" y="19" width="1.1" height="1.1" fill="#1a1a1a"/><rect x="23" y="19" width="1.1" height="1.1" fill="#161616"/><rect x="24" y="19" width="1.1" height="1.1" fill="#131313"/><rect x="25" y="19" width="1.1" height="1.1" fill="#181818"/><rect x="26" y="19" width="1.1" height="1.1" fill="#232323"/><rect x="27" y="19" width="1.1" height="1.1" fill="#2a2a2a"/><rect x="28" y="19" width="1.1" height="1.1" fill="#2c2c2c"/><rect x="29" y="19" width="1.1" height="1.1" fill="#2c2c2c"/><rect x="30" y="19" width="1.1" height="1.1" fill="#2a2a2a"/><rect x="31" y="19" width="1.1" height="1.1" fill="#2a2a2a"/><rect x="0" y="20" width="1.1" height="1.1" fill="#202020"/><rect x="1" y="20" width="1.1" height="1.1" fill="#202020"/><rect x="2" y="20" width="1.1" height="1.1" fill="#1e1e1e"/><rect x="3" y="20" width="1.1" height="1.1" fill="#1e1e1e"/><rect x="4" y="20" width="1.1" height="1.1" fill="#202020"/><rect x="5" y="20" width="1.1" height="1.1" fill="#212121"/><rect x="6" y="20" width="1.1" height="1.1" fill="#202020"/><rect x="7" y="20" width="1.1" height="1.1" fill="#202020"/><rect x="8" y="20" width="1.1" height="1.1" fill="#212121"/><rect x="9" y="20" width="1.1" height="1.1" fill="#202020"/><rect x="10" y="20" width="1.1" height="1.1" fill="#1f1f1f"/><rect x="11" y="20" width="1.1" height="1.1" fill="#1d1d1d"/><rect x="12" y="20" width="1.1" height="1.1" fill="#1b1b1b"/><rect x="13" y="20" width="1.1" height="1.1" fill="#191919"/><rect x="14" y="20" width="1.1" height="1.1" fill="#1a1a1a"/><rect x="15" y="20" width="1.1" height="1.1" fill="#1a1a1a"/><rect x="16" y="20" width="1.1" height="1.1" fill="#1a1a1a"/><rect x="17" y="20" width="1.1" height="1.1" fill="#1b1b1b"/><rect x="18" y="20" width="1.1" height="1.1" fill="#1d1d1d"/><rect x="19" y="20" width="1.1" height="1.1" fill="#1e1e1e"/><rect x="20" y="20" width="1.1" height="1.1" fill="#1d1d1d"/><rect x="21" y="20" width="1.1" height="1.1" fill="#1b1b1b"/><rect x="22" y="20" width="1.1" height="1.1" fill="#191919"/><rect x="23" y="20" width="1.1" height="1.1" fill="#171717"/><rect x="24" y="20" width="1.1" height="1.1" fill="#141414"/><rect x="25" y="20" width="1.1" height="1.1" fill="#191919"/><rect x="26" y="20" width="1.1" height="1.1" fill="#252525"/><rect x="27" y="20" width="1.1" height="1.1" fill="#2b2b2b"/><rect x="28" y="20" width="1.1" height="1.1" fill="#292929"/><rect x="29" y="20" width="1.1" height="1.1" fill="#292929"/><rect x="30" y="20" width="1.1" height="1.1" fill="#2a2a2a"/><rect x="31" y="20" width="1.1" height="1.1" fill="#2a2a2a"/><rect x="0" y="21" width="1.1" height="1.1" fill="#202020"/><rect x="1" y="21" width="1.1" height="1.1" fill="#1f1f1f"/><rect x="2" y="21" width="1.1" height="1.1" fill="#1e1e1e"/><rect x="3" y="21" width="1.1" height="1.1" fill="#1e1e1e"/><rect x="4" y="21" width="1.1" height="1.1" fill="#1f1f1f"/><rect x="5" y="21" width="1.1" height="1.1" fill="#202020"/><rect x="6" y="21" width="1.1" height="1.1" fill="#222222"/><rect x="7" y="21" width="1.1" height="1.1" fill="#232323"/><rect x="8" y="21" width="1.1" height="1.1" fill="#232323"/><rect x="9" y="21" width="1.1" height="1.1" fill="#222222"/><rect x="10" y="21" width="1.1" height="1.1" fill="#202020"/><rect x="11" y="21" width="1.1" height="1.1" fill="#1d1d1d"/><rect x="12" y="21" width="1.1" height="1.1" fill="#1b1b1b"/><rect x="13" y="21" width="1.1" height="1.1" fill="#1a1a1a"/><rect x="14" y="21" width="1.1" height="1.1" fill="#1a1a1a"/><rect x="15" y="21" width="1.1" height="1.1" fill="#1a1a1a"/><rect x="16" y="21" width="1.1" height="1.1" fill="#1b1b1b"/><rect x="17" y="21" width="1.1" height="1.1" fill="#1d1d1d"/><rect x="18" y="21" width="1.1" height="1.1" fill="#202020"/><rect x="19" y="21" width="1.1" height="1.1" fill="#202020"/><rect x="20" y="21" width="1.1" height="1.1" fill="#1f1f1f"/><rect x="21" y="21" width="1.1" height="1.1" fill="#1c1c1c"/><rect x="22" y="21" width="1.1" height="1.1" fill="#191919"/><rect x="23" y="21" width="1.1" height="1.1" fill="#171717"/><rect x="24" y="21" width="1.1" height="1.1" fill="#161616"/><rect x="25" y="21" width="1.1" height="1.1" fill="#1b1b1b"/><rect x="26" y="21" width="1.1" height="1.1" fill="#272727"/><rect x="27" y="21" width="1.1" height="1.1" fill="#2b2b2b"/><rect x="28" y="21" width="1.1" height="1.1" fill="#292929"/><rect x="29" y="21" width="1.1" height="1.1" fill="#282828"/><rect x="30" y="21" width="1.1" height="1.1" fill="#2a2a2a"/><rect x="31" y="21" width="1.1" height="1.1" fill="#2b2b2b"/><rect x="0" y="22" width="1.1" height="1.1" fill="#1e1e1e"/><rect x="1" y="22" width="1.1" height="1.1" fill="#1e1e1e"/><rect x="2" y="22" width="1.1" height="1.1" fill="#1e1e1e"/><rect x="3" y="22" width="1.1" height="1.1" fill="#1e1e1e"/><rect x="4" y="22" width="1.1" height="1.1" fill="#1e1e1e"/><rect x="5" y="22" width="1.1" height="1.1" fill="#1f1f1f"/><rect x="6" y="22" width="1.1" height="1.1" fill="#222222"/><rect x="7" y="22" width="1.1" height="1.1" fill="#232323"/><rect x="8" y="22" width="1.1" height="1.1" fill="#242424"/><rect x="9" y="22" width="1.1" height="1.1" fill="#242424"/><rect x="10" y="22" width="1.1" height="1.1" fill="#222222"/><rect x="11" y="22" width="1.1" height="1.1" fill="#202020"/><rect x="12" y="22" width="1.1" height="1.1" fill="#1d1d1d"/><rect x="13" y="22" width="1.1" height="1.1" fill="#1b1b1b"/><rect x="14" y="22" width="1.1" height="1.1" fill="#181818"/><rect x="15" y="22" width="1.1" height="1.1" fill="#1a1a1a"/><rect x="16" y="22" width="1.1" height="1.1" fill="#1f1f1f"/><rect x="17" y="22" width="1.1" height="1.1" fill="#232323"/><rect x="18" y="22" width="1.1" height="1.1" fill="#282828"/><rect x="19" y="22" width="1.1" height="1.1" fill="#282828"/><rect x="20" y="22" width="1.1" height="1.1" fill="#252525"/><rect x="21" y="22" width="1.1" height="1.1" fill="#202020"/><rect x="22" y="22" width="1.1" height="1.1" fill="#1a1a1a"/><rect x="23" y="22" width="1.1" height="1.1" fill="#171717"/><rect x="24" y="22" width="1.1" height="1.1" fill="#181818"/><rect x="25" y="22" width="1.1" height="1.1" fill="#1e1e1e"/><rect x="26" y="22" width="1.1" height="1.1" fill="#282828"/><rect x="27" y="22" width="1.1" height="1.1" fill="#2c2c2c"/><rect x="28" y="22" width="1.1" height="1.1" fill="#2a2a2a"/><rect x="29" y="22" width="1.1" height="1.1" fill="#2a2a2a"/><rect x="30" y="22" width="1.1" height="1.1" fill="#2d2d2d"/><rect x="31" y="22" width="1.1" height="1.1" fill="#2e2e2e"/><rect x="0" y="23" width="1.1" height="1.1" fill="#1e1e1e"/><rect x="1" y="23" width="1.1" height="1.1" fill="#1e1e1e"/><rect x="2" y="23" width="1.1" height="1.1" fill="#1e1e1e"/><rect x="3" y="23" width="1.1" height="1.1" fill="#1e1e1e"/><rect x="4" y="23" width="1.1" height="1.1" fill="#1e1e1e"/><rect x="5" y="23" width="1.1" height="1.1" fill="#1e1e1e"/><rect x="6" y="23" width="1.1" height="1.1" fill="#202020"/><rect x="7" y="23" width="1.1" height="1.1" fill="#222222"/><rect x="8" y="23" width="1.1" height="1.1" fill="#242424"/><rect x="9" y="23" width="1.1" height="1.1" fill="#242424"/><rect x="10" y="23" width="1.1" height="1.1" fill="#232323"/><rect x="11" y="23" width="1.1" height="1.1" fill="#212121"/><rect x="12" y="23" width="1.1" height="1.1" fill="#1d1d1d"/><rect x="13" y="23" width="1.1" height="1.1" fill="#1a1a1a"/><rect x="14" y="23" width="1.1" height="1.1" fill="#181818"/><rect x="15" y="23" width="1.1" height="1.1" fill="#191919"/><rect x="16" y="23" width="1.1" height="1.1" fill="#1e1e1e"/><rect x="17" y="23" width="1.1" height="1.1" fill="#232323"/><rect x="18" y="23" width="1.1" height="1.1" fill="#272727"/><rect x="19" y="23" width="1.1" height="1.1" fill="#282828"/><rect x="20" y="23" width="1.1" height="1.1" fill="#252525"/><rect x="21" y="23" width="1.1" height="1.1" fill="#212121"/><rect x="22" y="23" width="1.1" height="1.1" fill="#1a1a1a"/><rect x="23" y="23" width="1.1" height="1.1" fill="#181818"/><rect x="24" y="23" width="1.1" height="1.1" fill="#1b1b1b"/><rect x="25" y="23" width="1.1" height="1.1" fill="#212121"/><rect x="26" y="23" width="1.1" height="1.1" fill="#292929"/><rect x="27" y="23" width="1.1" height="1.1" fill="#2d2d2d"/><rect x="28" y="23" width="1.1" height="1.1" fill="#2b2b2b"/><rect x="29" y="23" width="1.1" height="1.1" fill="#2b2b2b"/><rect x="30" y="23" width="1.1" height="1.1" fill="#2d2d2d"/><rect x="31" y="23" width="1.1" height="1.1" fill="#2e2e2e"/><rect x="0" y="24" width="1.1" height="1.1" fill="#1e1e1e"/><rect x="1" y="24" width="1.1" height="1.1" fill="#1e1e1e"/><rect x="2" y="24" width="1.1" height="1.1" fill="#1e1e1e"/><rect x="3" y="24" width="1.1" height="1.1" fill="#1e1e1e"/><rect x="4" y="24" width="1.1" height="1.1" fill="#1e1e1e"/><rect x="5" y="24" width="1.1" height="1.1" fill="#1e1e1e"/><rect x="6" y="24" width="1.1" height="1.1" fill="#1e1e1e"/><rect x="7" y="24" width="1.1" height="1.1" fill="#202020"/><rect x="8" y="24" width="1.1" height="1.1" fill="#222222"/><rect x="9" y="24" width="1.1" height="1.1" fill="#232323"/><rect x="10" y="24" width="1.1" height="1.1" fill="#232323"/><rect x="11" y="24" width="1.1" height="1.1" fill="#212121"/><rect x="12" y="24" width="1.1" height="1.1" fill="#1c1c1c"/><rect x="13" y="24" width="1.1" height="1.1" fill="#191919"/><rect x="14" y="24" width="1.1" height="1.1" fill="#171717"/><rect x="15" y="24" width="1.1" height="1.1" fill="#171717"/><rect x="16" y="24" width="1.1" height="1.1" fill="#1b1b1b"/><rect x="17" y="24" width="1.1" height="1.1" fill="#1d1d1d"/><rect x="18" y="24" width="1.1" height="1.1" fill="#1f1f1f"/><rect x="19" y="24" width="1.1" height="1.1" fill="#202020"/><rect x="20" y="24" width="1.1" height="1.1" fill="#202020"/><rect x="21" y="24" width="1.1" height="1.1" fill="#1e1e1e"/><rect x="22" y="24" width="1.1" height="1.1" fill="#191919"/><rect x="23" y="24" width="1.1" height="1.1" fill="#191919"/><rect x="24" y="24" width="1.1" height="1.1" fill="#1e1e1e"/><rect x="25" y="24" width="1.1" height="1.1" fill="#242424"/><rect x="26" y="24" width="1.1" height="1.1" fill="#2a2a2a"/><rect x="27" y="24" width="1.1" height="1.1" fill="#2d2d2d"/><rect x="28" y="24" width="1.1" height="1.1" fill="#2e2e2e"/><rect x="29" y="24" width="1.1" height="1.1" fill="#2d2d2d"/><rect x="30" y="24" width="1.1" height="1.1" fill="#2b2b2b"/><rect x="31" y="24" width="1.1" height="1.1" fill="#2a2a2a"/><rect x="0" y="25" width="1.1" height="1.1" fill="#1e1e1e"/><rect x="1" y="25" width="1.1" height="1.1" fill="#1e1e1e"/><rect x="2" y="25" width="1.1" height="1.1" fill="#1e1e1e"/><rect x="3" y="25" width="1.1" height="1.1" fill="#1e1e1e"/><rect x="4" y="25" width="1.1" height="1.1" fill="#1e1e1e"/><rect x="5" y="25" width="1.1" height="1.1" fill="#1e1e1e"/><rect x="6" y="25" width="1.1" height="1.1" fill="#1d1d1d"/><rect x="7" y="25" width="1.1" height="1.1" fill="#1e1e1e"/><rect x="8" y="25" width="1.1" height="1.1" fill="#202020"/><rect x="9" y="25" width="1.1" height="1.1" fill="#212121"/><rect x="10" y="25" width="1.1" height="1.1" fill="#212121"/><rect x="11" y="25" width="1.1" height="1.1" fill="#1f1f1f"/><rect x="12" y="25" width="1.1" height="1.1" fill="#1b1b1b"/><rect x="13" y="25" width="1.1" height="1.1" fill="#181818"/><rect x="14" y="25" width="1.1" height="1.1" fill="#161616"/><rect x="15" y="25" width="1.1" height="1.1" fill="#161616"/><rect x="16" y="25" width="1.1" height="1.1" fill="#181818"/><rect x="17" y="25" width="1.1" height="1.1" fill="#191919"/><rect x="18" y="25" width="1.1" height="1.1" fill="#191919"/><rect x="19" y="25" width="1.1" height="1.1" fill="#1a1a1a"/><rect x="20" y="25" width="1.1" height="1.1" fill="#1c1c1c"/><rect x="21" y="25" width="1.1" height="1.1" fill="#1c1c1c"/><rect x="22" y="25" width="1.1" height="1.1" fill="#191919"/><rect x="23" y="25" width="1.1" height="1.1" fill="#1b1b1b"/><rect x="24" y="25" width="1.1" height="1.1" fill="#212121"/><rect x="25" y="25" width="1.1" height="1.1" fill="#262626"/><rect x="26" y="25" width="1.1" height="1.1" fill="#2a2a2a"/><rect x="27" y="25" width="1.1" height="1.1" fill="#2d2d2d"/><rect x="28" y="25" width="1.1" height="1.1" fill="#2e2e2e"/><rect x="29" y="25" width="1.1" height="1.1" fill="#2d2d2d"/><rect x="30" y="25" width="1.1" height="1.1" fill="#2b2b2b"/><rect x="31" y="25" width="1.1" height="1.1" fill="#2a2a2a"/><rect x="0" y="26" width="1.1" height="1.1" fill="#1e1e1e"/><rect x="1" y="26" width="1.1" height="1.1" fill="#1e1e1e"/><rect x="2" y="26" width="1.1" height="1.1" fill="#1e1e1e"/><rect x="3" y="26" width="1.1" height="1.1" fill="#1e1e1e"/><rect x="4" y="26" width="1.1" height="1.1" fill="#1e1e1e"/><rect x="5" y="26" width="1.1" height="1.1" fill="#1e1e1e"/><rect x="6" y="26" width="1.1" height="1.1" fill="#1d1d1d"/><rect x="7" y="26" width="1.1" height="1.1" fill="#1c1c1c"/><rect x="8" y="26" width="1.1" height="1.1" fill="#1d1d1d"/><rect x="9" y="26" width="1.1" height="1.1" fill="#1d1d1d"/><rect x="10" y="26" width="1.1" height="1.1" fill="#1e1e1e"/><rect x="11" y="26" width="1.1" height="1.1" fill="#1c1c1c"/><rect x="12" y="26" width="1.1" height="1.1" fill="#1a1a1a"/><rect x="13" y="26" width="1.1" height="1.1" fill="#171717"/><rect x="14" y="26" width="1.1" height="1.1" fill="#161616"/><rect x="15" y="26" width="1.1" height="1.1" fill="#151515"/><rect x="16" y="26" width="1.1" height="1.1" fill="#161616"/><rect x="17" y="26" width="1.1" height="1.1" fill="#171717"/><rect x="18" y="26" width="1.1" height="1.1" fill="#171717"/><rect x="19" y="26" width="1.1" height="1.1" fill="#171717"/><rect x="20" y="26" width="1.1" height="1.1" fill="#181818"/><rect x="21" y="26" width="1.1" height="1.1" fill="#1a1a1a"/><rect x="22" y="26" width="1.1" height="1.1" fill="#1c1c1c"/><rect x="23" y="26" width="1.1" height="1.1" fill="#1f1f1f"/><rect x="24" y="26" width="1.1" height="1.1" fill="#232323"/><rect x="25" y="26" width="1.1" height="1.1" fill="#272727"/><rect x="26" y="26" width="1.1" height="1.1" fill="#2b2b2b"/><rect x="27" y="26" width="1.1" height="1.1" fill="#2d2d2d"/><rect x="28" y="26" width="1.1" height="1.1" fill="#2c2c2c"/><rect x="29" y="26" width="1.1" height="1.1" fill="#2d2d2d"/><rect x="30" y="26" width="1.1" height="1.1" fill="#2d2d2d"/><rect x="31" y="26" width="1.1" height="1.1" fill="#2d2d2d"/><rect x="0" y="27" width="1.1" height="1.1" fill="#1e1e1e"/><rect x="1" y="27" width="1.1" height="1.1" fill="#1e1e1e"/><rect x="2" y="27" width="1.1" height="1.1" fill="#1e1e1e"/><rect x="3" y="27" width="1.1" height="1.1" fill="#1e1e1e"/><rect x="4" y="27" width="1.1" height="1.1" fill="#1e1e1e"/><rect x="5" y="27" width="1.1" height="1.1" fill="#1d1d1d"/><rect x="6" y="27" width="1.1" height="1.1" fill="#1c1c1c"/><rect x="7" y="27" width="1.1" height="1.1" fill="#1c1c1c"/><rect x="8" y="27" width="1.1" height="1.1" fill="#1c1c1c"/><rect x="9" y="27" width="1.1" height="1.1" fill="#1c1c1c"/><rect x="10" y="27" width="1.1" height="1.1" fill="#1b1b1b"/><rect x="11" y="27" width="1.1" height="1.1" fill="#1b1b1b"/><rect x="12" y="27" width="1.1" height="1.1" fill="#191919"/><rect x="13" y="27" width="1.1" height="1.1" fill="#171717"/><rect x="14" y="27" width="1.1" height="1.1" fill="#161616"/><rect x="15" y="27" width="1.1" height="1.1" fill="#151515"/><rect x="16" y="27" width="1.1" height="1.1" fill="#161616"/><rect x="17" y="27" width="1.1" height="1.1" fill="#161616"/><rect x="18" y="27" width="1.1" height="1.1" fill="#151515"/><rect x="19" y="27" width="1.1" height="1.1" fill="#161616"/><rect x="20" y="27" width="1.1" height="1.1" fill="#171717"/><rect x="21" y="27" width="1.1" height="1.1" fill="#191919"/><rect x="22" y="27" width="1.1" height="1.1" fill="#1c1c1c"/><rect x="23" y="27" width="1.1" height="1.1" fill="#202020"/><rect x="24" y="27" width="1.1" height="1.1" fill="#242424"/><rect x="25" y="27" width="1.1" height="1.1" fill="#282828"/><rect x="26" y="27" width="1.1" height="1.1" fill="#2b2b2b"/><rect x="27" y="27" width="1.1" height="1.1" fill="#2c2c2c"/><rect x="28" y="27" width="1.1" height="1.1" fill="#2c2c2c"/><rect x="29" y="27" width="1.1" height="1.1" fill="#2d2d2d"/><rect x="30" y="27" width="1.1" height="1.1" fill="#2e2e2e"/><rect x="31" y="27" width="1.1" height="1.1" fill="#2e2e2e"/><rect x="0" y="28" width="1.1" height="1.1" fill="#1f1f1f"/><rect x="1" y="28" width="1.1" height="1.1" fill="#1f1f1f"/><rect x="2" y="28" width="1.1" height="1.1" fill="#202020"/><rect x="3" y="28" width="1.1" height="1.1" fill="#1f1f1f"/><rect x="4" y="28" width="1.1" height="1.1" fill="#1e1e1e"/><rect x="5" y="28" width="1.1" height="1.1" fill="#1d1d1d"/><rect x="6" y="28" width="1.1" height="1.1" fill="#1c1c1c"/><rect x="7" y="28" width="1.1" height="1.1" fill="#1c1c1c"/><rect x="8" y="28" width="1.1" height="1.1" fill="#1c1c1c"/><rect x="9" y="28" width="1.1" height="1.1" fill="#1c1c1c"/><rect x="10" y="28" width="1.1" height="1.1" fill="#1b1b1b"/><rect x="11" y="28" width="1.1" height="1.1" fill="#1a1a1a"/><rect x="12" y="28" width="1.1" height="1.1" fill="#191919"/><rect x="13" y="28" width="1.1" height="1.1" fill="#171717"/><rect x="14" y="28" width="1.1" height="1.1" fill="#161616"/><rect x="15" y="28" width="1.1" height="1.1" fill="#161616"/><rect x="16" y="28" width="1.1" height="1.1" fill="#161616"/><rect x="17" y="28" width="1.1" height="1.1" fill="#161616"/><rect x="18" y="28" width="1.1" height="1.1" fill="#151515"/><rect x="19" y="28" width="1.1" height="1.1" fill="#151515"/><rect x="20" y="28" width="1.1" height="1.1" fill="#171717"/><rect x="21" y="28" width="1.1" height="1.1" fill="#191919"/><rect x="22" y="28" width="1.1" height="1.1" fill="#1b1b1b"/><rect x="23" y="28" width="1.1" height="1.1" fill="#1f1f1f"/><rect x="24" y="28" width="1.1" height="1.1" fill="#242424"/><rect x="25" y="28" width="1.1" height="1.1" fill="#282828"/><rect x="26" y="28" width="1.1" height="1.1" fill="#2b2b2b"/><rect x="27" y="28" width="1.1" height="1.1" fill="#2d2d2d"/><rect x="28" y="28" width="1.1" height="1.1" fill="#2d2d2d"/><rect x="29" y="28" width="1.1" height="1.1" fill="#2d2d2d"/><rect x="30" y="28" width="1.1" height="1.1" fill="#2d2d2d"/><rect x="31" y="28" width="1.1" height="1.1" fill="#2d2d2d"/><rect x="0" y="29" width="1.1" height="1.1" fill="#212121"/><rect x="1" y="29" width="1.1" height="1.1" fill="#212121"/><rect x="2" y="29" width="1.1" height="1.1" fill="#212121"/><rect x="3" y="29" width="1.1" height="1.1" fill="#202020"/><rect x="4" y="29" width="1.1" height="1.1" fill="#1f1f1f"/><rect x="5" y="29" width="1.1" height="1.1" fill="#1e1e1e"/><rect x="6" y="29" width="1.1" height="1.1" fill="#1d1d1d"/><rect x="7" y="29" width="1.1" height="1.1" fill="#1c1c1c"/><rect x="8" y="29" width="1.1" height="1.1" fill="#1c1c1c"/><rect x="9" y="29" width="1.1" height="1.1" fill="#1c1c1c"/><rect x="10" y="29" width="1.1" height="1.1" fill="#1a1a1a"/><rect x="11" y="29" width="1.1" height="1.1" fill="#191919"/><rect x="12" y="29" width="1.1" height="1.1" fill="#181818"/><rect x="13" y="29" width="1.1" height="1.1" fill="#171717"/><rect x="14" y="29" width="1.1" height="1.1" fill="#161616"/><rect x="15" y="29" width="1.1" height="1.1" fill="#161616"/><rect x="16" y="29" width="1.1" height="1.1" fill="#161616"/><rect x="17" y="29" width="1.1" height="1.1" fill="#161616"/><rect x="18" y="29" width="1.1" height="1.1" fill="#151515"/><rect x="19" y="29" width="1.1" height="1.1" fill="#161616"/><rect x="20" y="29" width="1.1" height="1.1" fill="#171717"/><rect x="21" y="29" width="1.1" height="1.1" fill="#191919"/><rect x="22" y="29" width="1.1" height="1.1" fill="#1a1a1a"/><rect x="23" y="29" width="1.1" height="1.1" fill="#1e1e1e"/><rect x="24" y="29" width="1.1" height="1.1" fill="#242424"/><rect x="25" y="29" width="1.1" height="1.1" fill="#282828"/><rect x="26" y="29" width="1.1" height="1.1" fill="#2b2b2b"/><rect x="27" y="29" width="1.1" height="1.1" fill="#2d2d2d"/><rect x="28" y="29" width="1.1" height="1.1" fill="#2e2e2e"/><rect x="29" y="29" width="1.1" height="1.1" fill="#2e2e2e"/><rect x="30" y="29" width="1.1" height="1.1" fill="#2c2c2c"/><rect x="31" y="29" width="1.1" height="1.1" fill="#2b2b2b"/><rect x="0" y="30" width="1.1" height="1.1" fill="#222222"/><rect x="1" y="30" width="1.1" height="1.1" fill="#222222"/><rect x="2" y="30" width="1.1" height="1.1" fill="#222222"/><rect x="3" y="30" width="1.1" height="1.1" fill="#212121"/><rect x="4" y="30" width="1.1" height="1.1" fill="#202020"/><rect x="5" y="30" width="1.1" height="1.1" fill="#1f1f1f"/><rect x="6" y="30" width="1.1" height="1.1" fill="#1e1e1e"/><rect x="7" y="30" width="1.1" height="1.1" fill="#1d1d1d"/><rect x="8" y="30" width="1.1" height="1.1" fill="#1c1c1c"/><rect x="9" y="30" width="1.1" height="1.1" fill="#1c1c1c"/><rect x="10" y="30" width="1.1" height="1.1" fill="#1a1a1a"/><rect x="11" y="30" width="1.1" height="1.1" fill="#191919"/><rect x="12" y="30" width="1.1" height="1.1" fill="#181818"/><rect x="13" y="30" width="1.1" height="1.1" fill="#171717"/><rect x="14" y="30" width="1.1" height="1.1" fill="#161616"/><rect x="15" y="30" width="1.1" height="1.1" fill="#161616"/><rect x="16" y="30" width="1.1" height="1.1" fill="#161616"/><rect x="17" y="30" width="1.1" height="1.1" fill="#161616"/><rect x="18" y="30" width="1.1" height="1.1" fill="#161616"/><rect x="19" y="30" width="1.1" height="1.1" fill="#161616"/><rect x="20" y="30" width="1.1" height="1.1" fill="#171717"/><rect x="21" y="30" width="1.1" height="1.1" fill="#191919"/><rect x="22" y="30" width="1.1" height="1.1" fill="#1a1a1a"/><rect x="23" y="30" width="1.1" height="1.1" fill="#1e1e1e"/><rect x="24" y="30" width="1.1" height="1.1" fill="#252525"/><rect x="25" y="30" width="1.1" height="1.1" fill="#2a2a2a"/><rect x="26" y="30" width="1.1" height="1.1" fill="#2d2d2d"/><rect x="27" y="30" width="1.1" height="1.1" fill="#2e2e2e"/><rect x="28" y="30" width="1.1" height="1.1" fill="#2e2e2e"/><rect x="29" y="30" width="1.1" height="1.1" fill="#2d2d2d"/><rect x="30" y="30" width="1.1" height="1.1" fill="#2b2b2b"/><rect x="31" y="30" width="1.1" height="1.1" fill="#2a2a2a"/><rect x="0" y="31" width="1.1" height="1.1" fill="#222222"/><rect x="1" y="31" width="1.1" height="1.1" fill="#222222"/><rect x="2" y="31" width="1.1" height="1.1" fill="#222222"/><rect x="3" y="31" width="1.1" height="1.1" fill="#222222"/><rect x="4" y="31" width="1.1" height="1.1" fill="#212121"/><rect x="5" y="31" width="1.1" height="1.1" fill="#202020"/><rect x="6" y="31" width="1.1" height="1.1" fill="#1f1f1f"/><rect x="7" y="31" width="1.1" height="1.1" fill="#1e1e1e"/><rect x="8" y="31" width="1.1" height="1.1" fill="#1d1d1d"/><rect x="9" y="31" width="1.1" height="1.1" fill="#1b1b1b"/><rect x="10" y="31" width="1.1" height="1.1" fill="#1a1a1a"/><rect x="11" y="31" width="1.1" height="1.1" fill="#1a1a1a"/><rect x="12" y="31" width="1.1" height="1.1" fill="#181818"/><rect x="13" y="31" width="1.1" height="1.1" fill="#171717"/><rect x="14" y="31" width="1.1" height="1.1" fill="#161616"/><rect x="15" y="31" width="1.1" height="1.1" fill="#161616"/><rect x="16" y="31" width="1.1" height="1.1" fill="#161616"/><rect x="17" y="31" width="1.1" height="1.1" fill="#161616"/><rect x="18" y="31" width="1.1" height="1.1" fill="#161616"/><rect x="19" y="31" width="1.1" height="1.1" fill="#161616"/><rect x="20" y="31" width="1.1" height="1.1" fill="#171717"/><rect x="21" y="31" width="1.1" height="1.1" fill="#191919"/><rect x="22" y="31" width="1.1" height="1.1" fill="#1a1a1a"/><rect x="23" y="31" width="1.1" height="1.1" fill="#1f1f1f"/><rect x="24" y="31" width="1.1" height="1.1" fill="#252525"/><rect x="25" y="31" width="1.1" height="1.1" fill="#2a2a2a"/><rect x="26" y="31" width="1.1" height="1.1" fill="#2d2d2d"/><rect x="27" y="31" width="1.1" height="1.1" fill="#2f2f2f"/><rect x="28" y="31" width="1.1" height="1.1" fill="#2e2e2e"/><rect x="29" y="31" width="1.1" height="1.1" fill="#2d2d2d"/><rect x="30" y="31" width="1.1" height="1.1" fill="#2b2b2b"/><rect x="31" y="31" width="1.1" height="1.1" fill="#292929"/></g></g>
 <g filter="url(#gblur3)"><defs>
<linearGradient id="bandg" gradientUnits="userSpaceOnUse" x1="120" y1="86" x2="108" y2="125">
<stop offset="0" stop-color="#333"/><stop offset="0.5" stop-color="#313131"/><stop offset="1" stop-color="#2b2b2b"/>
</linearGradient>
</defs>
<path d="M0 34 C0.8 34.5 1.2 34.9 5.0 37.0 C8.8 39.1 17.0 43.3 23.0 46.5 C29.0 49.7 34.8 53.1 41.0 56.0 C47.2 58.9 53.5 61.2 60.0 64.0 C66.5 66.8 74.2 70.0 80.0 72.5 C85.8 75.0 90.2 76.9 95.0 79.0 C99.8 81.1 104.2 83.0 109.0 85.0 C113.8 87.0 119.2 89.2 124.0 91.0 C128.8 92.8 133.2 94.4 138.0 96.0 C142.8 97.6 147.7 99.0 153.0 100.5 C158.3 102.0 164.2 103.5 170.0 105.0 C175.8 106.5 182.5 108.0 188.0 109.5 C193.5 111.0 197.8 112.8 203.0 114.0 C208.2 115.2 213.5 117.2 219.0 116.5 C224.5 115.8 230.3 113.1 236.0 110.0 C241.7 106.9 248.0 101.8 253.0 98.0 C258.0 94.2 263.8 88.8 266.0 87.0 L266 118 C263.3 119.0 255.2 122.3 250.0 124.0 C244.8 125.7 240.2 127.3 235.0 128.0 C229.8 128.7 226.5 128.5 219.0 128.0 C211.5 127.5 199.8 126.3 190.0 125.0 C180.2 123.7 169.5 121.3 160.0 120.0 C150.5 118.7 143.0 119.0 133.0 117.0 C123.0 115.0 110.5 110.8 100.0 108.0 C89.5 105.2 80.0 102.5 70.0 100.0 C60.0 97.5 50.8 95.0 40.0 93.0 C29.2 91.0 11.7 89.0 5.0 88.0 C-1.7 87.0 0.8 87.2 0.0 87.0 Z" fill="url(#bandg)"/>
<path d="M0 34 C0.8 34.5 1.2 34.9 5.0 37.0 C8.8 39.1 17.0 43.3 23.0 46.5 C29.0 49.7 34.8 53.1 41.0 56.0 C47.2 58.9 53.5 61.2 60.0 64.0 C66.5 66.8 74.2 70.0 80.0 72.5 C85.8 75.0 90.2 76.9 95.0 79.0 C99.8 81.1 104.2 83.0 109.0 85.0 C113.8 87.0 119.2 89.2 124.0 91.0 C128.8 92.8 133.2 94.4 138.0 96.0 C142.8 97.6 147.7 99.0 153.0 100.5 C158.3 102.0 164.2 103.5 170.0 105.0 C175.8 106.5 182.5 108.0 188.0 109.5 C193.5 111.0 197.8 112.8 203.0 114.0 C208.2 115.2 213.5 117.2 219.0 116.5 C224.5 115.8 230.3 113.1 236.0 110.0 C241.7 106.9 248.0 101.8 253.0 98.0 C258.0 94.2 263.8 88.8 266.0 87.0 L266 0 L0 0 Z" fill="#0f0f0f"/>
<ellipse cx="250" cy="9" rx="20" ry="5" fill="#1c1c1c" transform="rotate(25 250 9)"/>
</g>
 <ellipse cx="165" cy="152" rx="24" ry="19" fill="#282828" filter="url(#tankblur)"/>
 <ellipse cx="68" cy="186" rx="34" ry="14" fill="#292929" transform="rotate(12 68 186)" filter="url(#tankblur)"/>
 <g filter="url(#gblur2)"><ellipse cx="15" cy="61" rx="6" ry="5" fill="#1e1e1e"/>
<ellipse cx="26" cy="72" rx="5" ry="4" fill="#242424"/>
<ellipse cx="74" cy="92" rx="5.5" ry="4" fill="#202020"/>
<ellipse cx="170" cy="110" rx="5" ry="4" fill="#1e1e1e"/>
<ellipse cx="229" cy="129" rx="7" ry="5" fill="#181818"/>
<polygon points="65,114 90,118 90,123.5 65,119.5" fill="#3a3a3a"/>
<polygon points="64,124.5 91,128.5 91,134.5 64,130.5" fill="#383838"/>
<polygon points="44,136 88,138 88,146 44,144" fill="#333"/>
<rect x="43.5" y="136" width="7.5" height="24" fill="#323232"/>
<rect x="74" y="145" width="10" height="23" fill="#323232"/>
<polygon points="36,164 69,166 69,173 36,171" fill="#2c2c2c"/>
<rect x="51" y="146" width="23" height="19" fill="#1b1b1b"/>
<circle cx="17" cy="169" r="3" fill="#2e2e2e"/>
<ellipse cx="62.8" cy="112.3" rx="3" ry="4" fill="#4e4e4e"/>
<ellipse cx="111.7" cy="127.5" rx="4" ry="4.5" fill="#5a5a5a" transform="rotate(30 111.7 127.5)"/>
<rect x="138" y="184" width="30" height="16" fill="#171717"/>
<rect x="142" y="175" width="10" height="11" fill="#4a4a4a"/>
<rect x="161.5" y="177" width="9" height="16" fill="#555"/>
<rect x="179" y="180" width="14" height="28" fill="#2e2e2e"/>
<circle cx="141.5" cy="201" r="3" fill="#333"/>
<polygon points="218,135 258,137 261,150 261,196 212,196 214,170" fill="#282828"/>
<polygon points="226,148 261,150 261,259 207,259" fill="#353535"/>
<polygon points="228,158 239,159 239,168 227,168" fill="#191919"/>
<polygon points="226,176.5 237,177 236.5,186.5 225.5,186.5" fill="#191919"/>
<polygon points="224,195 233,195 233,202.5 224,202.5" fill="#191919"/>
<rect x="222" y="212" width="7" height="23" fill="#171717"/>
<rect x="251" y="158" width="10" height="10" fill="#1c1c1c"/>
<rect x="249" y="178" width="12" height="12" fill="#1c1c1c"/>
<rect x="249" y="200" width="12" height="12" fill="#1c1c1c"/>
<rect x="236" y="214" width="25" height="5" fill="#3c3c3c"/>
<rect x="240" y="229" width="21" height="5" fill="#3c3c3c"/>
<rect x="244" y="220" width="14" height="7" fill="#222"/>
<rect x="226" y="234" width="35" height="8" fill="#1e1e1e"/>
<circle cx="187" cy="255" r="4" fill="#2c2c2c"/>
<rect x="190" y="215" width="16" height="20" fill="#383838"/>
<rect x="194" y="221" width="8" height="9" fill="#2a2a2a"/>
</g>
</g>
<rect x="6.2" y="4.2" width="252.6" height="252.6" fill="none" stroke="#0c0c0c" stroke-width="2.4" opacity="0.6"/>
<rect x="52.5" y="67" width="28" height="4" fill="none" stroke="#0a0a0a" stroke-width="1.2" opacity="0.5"/>
<rect x="99.25" y="114.25" width="25.5" height="25.5" fill="none" stroke="#0a0a0a" stroke-width="4.5" opacity="0.5"/>
<rect x="195.25" y="28.75" width="24.5" height="24.5" fill="none" stroke="#0a0a0a" stroke-width="4.5" opacity="0.5"/>
<rect x="53" y="67.5" width="27" height="3" fill="#ff0000"/>
<rect x="99.25" y="114.25" width="25.5" height="25.5" fill="none" stroke="#ff0000" stroke-width="2.5"/>
<rect x="195.25" y="28.75" width="24.5" height="24.5" fill="none" stroke="#ff0000" stroke-width="2.5"/>
<g transform="translate(302,2.2) scale(3.9375,3.9250)" shape-rendering="crispEdges"><rect width="24" height="24" fill="#1b1b1b"/><rect x="0" y="0" width="1.05" height="1.05" fill="#1e1e1e"/><rect x="1" y="0" width="1.05" height="1.05" fill="#1e1e1e"/><rect x="2" y="0" width="1.05" height="1.05" fill="#1d1d1d"/><rect x="3" y="0" width="1.05" height="1.05" fill="#1c1c1c"/><rect x="4" y="0" width="1.05" height="1.05" fill="#1c1c1c"/><rect x="5" y="0" width="1.05" height="1.05" fill="#1e1e1e"/><rect x="6" y="0" width="1.05" height="1.05" fill="#1d1d1d"/><rect x="7" y="0" width="1.05" height="1.05" fill="#1d1d1d"/><rect x="8" y="0" width="1.05" height="1.05" fill="#1e1e1e"/><rect x="9" y="0" width="1.05" height="1.05" fill="#1e1e1e"/><rect x="10" y="0" width="1.05" height="1.05" fill="#1f1f1f"/><rect x="11" y="0" width="1.05" height="1.05" fill="#1d1d1d"/><rect x="12" y="0" width="1.05" height="1.05" fill="#1e1e1e"/><rect x="13" y="0" width="1.05" height="1.05" fill="#1e1e1e"/><rect x="14" y="0" width="1.05" height="1.05" fill="#1c1c1c"/><rect x="15" y="0" width="1.05" height="1.05" fill="#1e1e1e"/><rect x="16" y="0" width="1.05" height="1.05" fill="#1e1e1e"/><rect x="17" y="0" width="1.05" height="1.05" fill="#1f1f1f"/><rect x="18" y="0" width="1.05" height="1.05" fill="#1d1d1d"/><rect x="19" y="0" width="1.05" height="1.05" fill="#1c1c1c"/><rect x="20" y="0" width="1.05" height="1.05" fill="#1d1d1d"/><rect x="21" y="0" width="1.05" height="1.05" fill="#1c1c1c"/><rect x="22" y="0" width="1.05" height="1.05" fill="#1d1d1d"/><rect x="23" y="0" width="1.05" height="1.05" fill="#1c1c1c"/><rect x="0" y="1" width="1.05" height="1.05" fill="#1d1d1d"/><rect x="1" y="1" width="1.05" height="1.05" fill="#1e1e1e"/><rect x="2" y="1" width="1.05" height="1.05" fill="#1e1e1e"/><rect x="3" y="1" width="1.05" height="1.05" fill="#1d1d1d"/><rect x="4" y="1" width="1.05" height="1.05" fill="#1c1c1c"/><rect x="5" y="1" width="1.05" height="1.05" fill="#1e1e1e"/><rect x="6" y="1" width="1.05" height="1.05" fill="#1e1e1e"/><rect x="7" y="1" width="1.05" height="1.05" fill="#1f1f1f"/><rect x="8" y="1" width="1.05" height="1.05" fill="#1f1f1f"/><rect x="9" y="1" width="1.05" height="1.05" fill="#202020"/><rect x="10" y="1" width="1.05" height="1.05" fill="#1f1f1f"/><rect x="11" y="1" width="1.05" height="1.05" fill="#1f1f1f"/><rect x="12" y="1" width="1.05" height="1.05" fill="#202020"/><rect x="13" y="1" width="1.05" height="1.05" fill="#1e1e1e"/><rect x="14" y="1" width="1.05" height="1.05" fill="#1e1e1e"/><rect x="15" y="1" width="1.05" height="1.05" fill="#1d1d1d"/><rect x="16" y="1" width="1.05" height="1.05" fill="#1f1f1f"/><rect x="17" y="1" width="1.05" height="1.05" fill="#1d1d1d"/><rect x="18" y="1" width="1.05" height="1.05" fill="#1d1d1d"/><rect x="19" y="1" width="1.05" height="1.05" fill="#1c1c1c"/><rect x="20" y="1" width="1.05" height="1.05" fill="#1b1b1b"/><rect x="21" y="1" width="1.05" height="1.05" fill="#1a1a1a"/><rect x="22" y="1" width="1.05" height="1.05" fill="#1d1d1d"/><rect x="23" y="1" width="1.05" height="1.05" fill="#1c1c1c"/><rect x="0" y="2" width="1.05" height="1.05" fill="#1d1d1d"/><rect x="1" y="2" width="1.05" height="1.05" fill="#1c1c1c"/><rect x="2" y="2" width="1.05" height="1.05" fill="#1d1d1d"/><rect x="3" y="2" width="1.05" height="1.05" fill="#1f1f1f"/><rect x="4" y="2" width="1.05" height="1.05" fill="#1f1f1f"/><rect x="5" y="2" width="1.05" height="1.05" fill="#1d1d1d"/><rect x="6" y="2" width="1.05" height="1.05" fill="#1e1e1e"/><rect x="7" y="2" width="1.05" height="1.05" fill="#202020"/><rect x="8" y="2" width="1.05" height="1.05" fill="#212121"/><rect x="9" y="2" width="1.05" height="1.05" fill="#212121"/><rect x="10" y="2" width="1.05" height="1.05" fill="#212121"/><rect x="11" y="2" width="1.05" height="1.05" fill="#202020"/><rect x="12" y="2" width="1.05" height="1.05" fill="#212121"/><rect x="13" y="2" width="1.05" height="1.05" fill="#212121"/><rect x="14" y="2" width="1.05" height="1.05" fill="#1f1f1f"/><rect x="15" y="2" width="1.05" height="1.05" fill="#1d1d1d"/><rect x="16" y="2" width="1.05" height="1.05" fill="#1d1d1d"/><rect x="17" y="2" width="1.05" height="1.05" fill="#1e1e1e"/><rect x="18" y="2" width="1.05" height="1.05" fill="#1a1a1a"/><rect x="19" y="2" width="1.05" height="1.05" fill="#1b1b1b"/><rect x="20" y="2" width="1.05" height="1.05" fill="#1a1a1a"/><rect x="21" y="2" width="1.05" height="1.05" fill="#1b1b1b"/><rect x="22" y="2" width="1.05" height="1.05" fill="#1b1b1b"/><rect x="23" y="2" width="1.05" height="1.05" fill="#1c1c1c"/><rect x="0" y="3" width="1.05" height="1.05" fill="#1e1e1e"/><rect x="1" y="3" width="1.05" height="1.05" fill="#1d1d1d"/><rect x="2" y="3" width="1.05" height="1.05" fill="#1f1f1f"/><rect x="3" y="3" width="1.05" height="1.05" fill="#1e1e1e"/><rect x="4" y="3" width="1.05" height="1.05" fill="#1e1e1e"/><rect x="5" y="3" width="1.05" height="1.05" fill="#202020"/><rect x="6" y="3" width="1.05" height="1.05" fill="#1d1d1d"/><rect x="7" y="3" width="1.05" height="1.05" fill="#212121"/><rect x="8" y="3" width="1.05" height="1.05" fill="#222222"/><rect x="9" y="3" width="1.05" height="1.05" fill="#212121"/><rect x="10" y="3" width="1.05" height="1.05" fill="#232323"/><rect x="11" y="3" width="1.05" height="1.05" fill="#222222"/><rect x="12" y="3" width="1.05" height="1.05" fill="#202020"/><rect x="13" y="3" width="1.05" height="1.05" fill="#212121"/><rect x="14" y="3" width="1.05" height="1.05" fill="#202020"/><rect x="15" y="3" width="1.05" height="1.05" fill="#1f1f1f"/><rect x="16" y="3" width="1.05" height="1.05" fill="#1e1e1e"/><rect x="17" y="3" width="1.05" height="1.05" fill="#1e1e1e"/><rect x="18" y="3" width="1.05" height="1.05" fill="#1c1c1c"/><rect x="19" y="3" width="1.05" height="1.05" fill="#1b1b1b"/><rect x="20" y="3" width="1.05" height="1.05" fill="#1b1b1b"/><rect x="21" y="3" width="1.05" height="1.05" fill="#181818"/><rect x="22" y="3" width="1.05" height="1.05" fill="#1c1c1c"/><rect x="23" y="3" width="1.05" height="1.05" fill="#1a1a1a"/><rect x="0" y="4" width="1.05" height="1.05" fill="#1d1d1d"/><rect x="1" y="4" width="1.05" height="1.05" fill="#1c1c1c"/><rect x="2" y="4" width="1.05" height="1.05" fill="#1d1d1d"/><rect x="3" y="4" width="1.05" height="1.05" fill="#1e1e1e"/><rect x="4" y="4" width="1.05" height="1.05" fill="#212121"/><rect x="5" y="4" width="1.05" height="1.05" fill="#212121"/><rect x="6" y="4" width="1.05" height="1.05" fill="#212121"/><rect x="7" y="4" width="1.05" height="1.05" fill="#232323"/><rect x="8" y="4" width="1.05" height="1.05" fill="#242424"/><rect x="9" y="4" width="1.05" height="1.05" fill="#262626"/><rect x="10" y="4" width="1.05" height="1.05" fill="#262626"/><rect x="11" y="4" width="1.05" height="1.05" fill="#272727"/><rect x="12" y="4" width="1.05" height="1.05" fill="#242424"/><rect x="13" y="4" width="1.05" height="1.05" fill="#242424"/><rect x="14" y="4" width="1.05" height="1.05" fill="#222222"/><rect x="15" y="4" width="1.05" height="1.05" fill="#202020"/><rect x="16" y="4" width="1.05" height="1.05" fill="#202020"/><rect x="17" y="4" width="1.05" height="1.05" fill="#1d1d1d"/><rect x="18" y="4" width="1.05" height="1.05" fill="#1c1c1c"/><rect x="19" y="4" width="1.05" height="1.05" fill="#1b1b1b"/><rect x="20" y="4" width="1.05" height="1.05" fill="#1b1b1b"/><rect x="21" y="4" width="1.05" height="1.05" fill="#181818"/><rect x="22" y="4" width="1.05" height="1.05" fill="#1a1a1a"/><rect x="23" y="4" width="1.05" height="1.05" fill="#191919"/><rect x="0" y="5" width="1.05" height="1.05" fill="#1d1d1d"/><rect x="1" y="5" width="1.05" height="1.05" fill="#1f1f1f"/><rect x="2" y="5" width="1.05" height="1.05" fill="#1e1e1e"/><rect x="3" y="5" width="1.05" height="1.05" fill="#1f1f1f"/><rect x="4" y="5" width="1.05" height="1.05" fill="#212121"/><rect x="5" y="5" width="1.05" height="1.05" fill="#222222"/><rect x="6" y="5" width="1.05" height="1.05" fill="#242424"/><rect x="7" y="5" width="1.05" height="1.05" fill="#262626"/><rect x="8" y="5" width="1.05" height="1.05" fill="#292929"/><rect x="9" y="5" width="1.05" height="1.05" fill="#2b2b2b"/><rect x="10" y="5" width="1.05" height="1.05" fill="#2a2a2a"/><rect x="11" y="5" width="1.05" height="1.05" fill="#2a2a2a"/><rect x="12" y="5" width="1.05" height="1.05" fill="#2a2a2a"/><rect x="13" y="5" width="1.05" height="1.05" fill="#292929"/><rect x="14" y="5" width="1.05" height="1.05" fill="#262626"/><rect x="15" y="5" width="1.05" height="1.05" fill="#242424"/><rect x="16" y="5" width="1.05" height="1.05" fill="#202020"/><rect x="17" y="5" width="1.05" height="1.05" fill="#1d1d1d"/><rect x="18" y="5" width="1.05" height="1.05" fill="#1b1b1b"/><rect x="19" y="5" width="1.05" height="1.05" fill="#1b1b1b"/><rect x="20" y="5" width="1.05" height="1.05" fill="#1a1a1a"/><rect x="21" y="5" width="1.05" height="1.05" fill="#191919"/><rect x="22" y="5" width="1.05" height="1.05" fill="#191919"/><rect x="23" y="5" width="1.05" height="1.05" fill="#1a1a1a"/><rect x="0" y="6" width="1.05" height="1.05" fill="#1f1f1f"/><rect x="1" y="6" width="1.05" height="1.05" fill="#1f1f1f"/><rect x="2" y="6" width="1.05" height="1.05" fill="#1e1e1e"/><rect x="3" y="6" width="1.05" height="1.05" fill="#202020"/><rect x="4" y="6" width="1.05" height="1.05" fill="#212121"/><rect x="5" y="6" width="1.05" height="1.05" fill="#232323"/><rect x="6" y="6" width="1.05" height="1.05" fill="#282828"/><rect x="7" y="6" width="1.05" height="1.05" fill="#2a2a2a"/><rect x="8" y="6" width="1.05" height="1.05" fill="#2e2e2e"/><rect x="9" y="6" width="1.05" height="1.05" fill="#303030"/><rect x="10" y="6" width="1.05" height="1.05" fill="#303030"/><rect x="11" y="6" width="1.05" height="1.05" fill="#303030"/><rect x="12" y="6" width="1.05" height="1.05" fill="#2d2d2d"/><rect x="13" y="6" width="1.05" height="1.05" fill="#2a2a2a"/><rect x="14" y="6" width="1.05" height="1.05" fill="#292929"/><rect x="15" y="6" width="1.05" height="1.05" fill="#282828"/><rect x="16" y="6" width="1.05" height="1.05" fill="#222222"/><rect x="17" y="6" width="1.05" height="1.05" fill="#1e1e1e"/><rect x="18" y="6" width="1.05" height="1.05" fill="#1c1c1c"/><rect x="19" y="6" width="1.05" height="1.05" fill="#1b1b1b"/><rect x="20" y="6" width="1.05" height="1.05" fill="#171717"/><rect x="21" y="6" width="1.05" height="1.05" fill="#191919"/><rect x="22" y="6" width="1.05" height="1.05" fill="#181818"/><rect x="23" y="6" width="1.05" height="1.05" fill="#1b1b1b"/><rect x="0" y="7" width="1.05" height="1.05" fill="#1e1e1e"/><rect x="1" y="7" width="1.05" height="1.05" fill="#1e1e1e"/><rect x="2" y="7" width="1.05" height="1.05" fill="#212121"/><rect x="3" y="7" width="1.05" height="1.05" fill="#212121"/><rect x="4" y="7" width="1.05" height="1.05" fill="#232323"/><rect x="5" y="7" width="1.05" height="1.05" fill="#292929"/><rect x="6" y="7" width="1.05" height="1.05" fill="#2a2a2a"/><rect x="7" y="7" width="1.05" height="1.05" fill="#313131"/><rect x="8" y="7" width="1.05" height="1.05" fill="#323232"/><rect x="9" y="7" width="1.05" height="1.05" fill="#333333"/><rect x="10" y="7" width="1.05" height="1.05" fill="#353535"/><rect x="11" y="7" width="1.05" height="1.05" fill="#353535"/><rect x="12" y="7" width="1.05" height="1.05" fill="#333333"/><rect x="13" y="7" width="1.05" height="1.05" fill="#303030"/><rect x="14" y="7" width="1.05" height="1.05" fill="#2d2d2d"/><rect x="15" y="7" width="1.05" height="1.05" fill="#262626"/><rect x="16" y="7" width="1.05" height="1.05" fill="#232323"/><rect x="17" y="7" width="1.05" height="1.05" fill="#202020"/><rect x="18" y="7" width="1.05" height="1.05" fill="#1e1e1e"/><rect x="19" y="7" width="1.05" height="1.05" fill="#171717"/><rect x="20" y="7" width="1.05" height="1.05" fill="#171717"/><rect x="21" y="7" width="1.05" height="1.05" fill="#161616"/><rect x="22" y="7" width="1.05" height="1.05" fill="#171717"/><rect x="23" y="7" width="1.05" height="1.05" fill="#1a1a1a"/><rect x="0" y="8" width="1.05" height="1.05" fill="#1e1e1e"/><rect x="1" y="8" width="1.05" height="1.05" fill="#202020"/><rect x="2" y="8" width="1.05" height="1.05" fill="#202020"/><rect x="3" y="8" width="1.05" height="1.05" fill="#232323"/><rect x="4" y="8" width="1.05" height="1.05" fill="#282828"/><rect x="5" y="8" width="1.05" height="1.05" fill="#2b2b2b"/><rect x="6" y="8" width="1.05" height="1.05" fill="#2e2e2e"/><rect x="7" y="8" width="1.05" height="1.05" fill="#343434"/><rect x="8" y="8" width="1.05" height="1.05" fill="#363636"/><rect x="9" y="8" width="1.05" height="1.05" fill="#3c3c3c"/><rect x="10" y="8" width="1.05" height="1.05" fill="#3b3b3b"/><rect x="11" y="8" width="1.05" height="1.05" fill="#3b3b3b"/><rect x="12" y="8" width="1.05" height="1.05" fill="#393939"/><rect x="13" y="8" width="1.05" height="1.05" fill="#363636"/><rect x="14" y="8" width="1.05" height="1.05" fill="#323232"/><rect x="15" y="8" width="1.05" height="1.05" fill="#2b2b2b"/><rect x="16" y="8" width="1.05" height="1.05" fill="#262626"/><rect x="17" y="8" width="1.05" height="1.05" fill="#222222"/><rect x="18" y="8" width="1.05" height="1.05" fill="#1c1c1c"/><rect x="19" y="8" width="1.05" height="1.05" fill="#171717"/><rect x="20" y="8" width="1.05" height="1.05" fill="#181818"/><rect x="21" y="8" width="1.05" height="1.05" fill="#161616"/><rect x="22" y="8" width="1.05" height="1.05" fill="#191919"/><rect x="23" y="8" width="1.05" height="1.05" fill="#181818"/><rect x="0" y="9" width="1.05" height="1.05" fill="#1b1b1b"/><rect x="1" y="9" width="1.05" height="1.05" fill="#202020"/><rect x="2" y="9" width="1.05" height="1.05" fill="#222222"/><rect x="3" y="9" width="1.05" height="1.05" fill="#272727"/><rect x="4" y="9" width="1.05" height="1.05" fill="#292929"/><rect x="5" y="9" width="1.05" height="1.05" fill="#2e2e2e"/><rect x="6" y="9" width="1.05" height="1.05" fill="#333333"/><rect x="7" y="9" width="1.05" height="1.05" fill="#373737"/><rect x="8" y="9" width="1.05" height="1.05" fill="#3c3c3c"/><rect x="9" y="9" width="1.05" height="1.05" fill="#3e3e3e"/><rect x="10" y="9" width="1.05" height="1.05" fill="#414141"/><rect x="11" y="9" width="1.05" height="1.05" fill="#3f3f3f"/><rect x="12" y="9" width="1.05" height="1.05" fill="#3d3d3d"/><rect x="13" y="9" width="1.05" height="1.05" fill="#3a3a3a"/><rect x="14" y="9" width="1.05" height="1.05" fill="#353535"/><rect x="15" y="9" width="1.05" height="1.05" fill="#2d2d2d"/><rect x="16" y="9" width="1.05" height="1.05" fill="#2a2a2a"/><rect x="17" y="9" width="1.05" height="1.05" fill="#222222"/><rect x="18" y="9" width="1.05" height="1.05" fill="#1e1e1e"/><rect x="19" y="9" width="1.05" height="1.05" fill="#1a1a1a"/><rect x="20" y="9" width="1.05" height="1.05" fill="#171717"/><rect x="21" y="9" width="1.05" height="1.05" fill="#161616"/><rect x="22" y="9" width="1.05" height="1.05" fill="#191919"/><rect x="23" y="9" width="1.05" height="1.05" fill="#191919"/><rect x="0" y="10" width="1.05" height="1.05" fill="#1f1f1f"/><rect x="1" y="10" width="1.05" height="1.05" fill="#1f1f1f"/><rect x="2" y="10" width="1.05" height="1.05" fill="#222222"/><rect x="3" y="10" width="1.05" height="1.05" fill="#282828"/><rect x="4" y="10" width="1.05" height="1.05" fill="#2c2c2c"/><rect x="5" y="10" width="1.05" height="1.05" fill="#303030"/><rect x="6" y="10" width="1.05" height="1.05" fill="#363636"/><rect x="7" y="10" width="1.05" height="1.05" fill="#3c3c3c"/><rect x="8" y="10" width="1.05" height="1.05" fill="#414141"/><rect x="9" y="10" width="1.05" height="1.05" fill="#454545"/><rect x="10" y="10" width="1.05" height="1.05" fill="#474747"/><rect x="11" y="10" width="1.05" height="1.05" fill="#444444"/><rect x="12" y="10" width="1.05" height="1.05" fill="#434343"/><rect x="13" y="10" width="1.05" height="1.05" fill="#3c3c3c"/><rect x="14" y="10" width="1.05" height="1.05" fill="#363636"/><rect x="15" y="10" width="1.05" height="1.05" fill="#323232"/><rect x="16" y="10" width="1.05" height="1.05" fill="#2a2a2a"/><rect x="17" y="10" width="1.05" height="1.05" fill="#232323"/><rect x="18" y="10" width="1.05" height="1.05" fill="#1d1d1d"/><rect x="19" y="10" width="1.05" height="1.05" fill="#191919"/><rect x="20" y="10" width="1.05" height="1.05" fill="#181818"/><rect x="21" y="10" width="1.05" height="1.05" fill="#171717"/><rect x="22" y="10" width="1.05" height="1.05" fill="#171717"/><rect x="23" y="10" width="1.05" height="1.05" fill="#181818"/><rect x="0" y="11" width="1.05" height="1.05" fill="#202020"/><rect x="1" y="11" width="1.05" height="1.05" fill="#212121"/><rect x="2" y="11" width="1.05" height="1.05" fill="#252525"/><rect x="3" y="11" width="1.05" height="1.05" fill="#292929"/><rect x="4" y="11" width="1.05" height="1.05" fill="#2e2e2e"/><rect x="5" y="11" width="1.05" height="1.05" fill="#353535"/><rect x="6" y="11" width="1.05" height="1.05" fill="#3b3b3b"/><rect x="7" y="11" width="1.05" height="1.05" fill="#404040"/><rect x="8" y="11" width="1.05" height="1.05" fill="#424242"/><rect x="9" y="11" width="1.05" height="1.05" fill="#494949"/><rect x="10" y="11" width="1.05" height="1.05" fill="#4a4a4a"/><rect x="11" y="11" width="1.05" height="1.05" fill="#474747"/><rect x="12" y="11" width="1.05" height="1.05" fill="#444444"/><rect x="13" y="11" width="1.05" height="1.05" fill="#404040"/><rect x="14" y="11" width="1.05" height="1.05" fill="#3a3a3a"/><rect x="15" y="11" width="1.05" height="1.05" fill="#323232"/><rect x="16" y="11" width="1.05" height="1.05" fill="#2b2b2b"/><rect x="17" y="11" width="1.05" height="1.05" fill="#242424"/><rect x="18" y="11" width="1.05" height="1.05" fill="#1f1f1f"/><rect x="19" y="11" width="1.05" height="1.05" fill="#191919"/><rect x="20" y="11" width="1.05" height="1.05" fill="#161616"/><rect x="21" y="11" width="1.05" height="1.05" fill="#151515"/><rect x="22" y="11" width="1.05" height="1.05" fill="#171717"/><rect x="23" y="11" width="1.05" height="1.05" fill="#181818"/><rect x="0" y="12" width="1.05" height="1.05" fill="#222222"/><rect x="1" y="12" width="1.05" height="1.05" fill="#212121"/><rect x="2" y="12" width="1.05" height="1.05" fill="#262626"/><rect x="3" y="12" width="1.05" height="1.05" fill="#2a2a2a"/><rect x="4" y="12" width="1.05" height="1.05" fill="#303030"/><rect x="5" y="12" width="1.05" height="1.05" fill="#373737"/><rect x="6" y="12" width="1.05" height="1.05" fill="#3c3c3c"/><rect x="7" y="12" width="1.05" height="1.05" fill="#404040"/><rect x="8" y="12" width="1.05" height="1.05" fill="#454545"/><rect x="9" y="12" width="1.05" height="1.05" fill="#474747"/><rect x="10" y="12" width="1.05" height="1.05" fill="#4a4a4a"/><rect x="11" y="12" width="1.05" height="1.05" fill="#4a4a4a"/><rect x="12" y="12" width="1.05" height="1.05" fill="#454545"/><rect x="13" y="12" width="1.05" height="1.05" fill="#414141"/><rect x="14" y="12" width="1.05" height="1.05" fill="#3a3a3a"/><rect x="15" y="12" width="1.05" height="1.05" fill="#323232"/><rect x="16" y="12" width="1.05" height="1.05" fill="#2c2c2c"/><rect x="17" y="12" width="1.05" height="1.05" fill="#242424"/><rect x="18" y="12" width="1.05" height="1.05" fill="#1d1d1d"/><rect x="19" y="12" width="1.05" height="1.05" fill="#191919"/><rect x="20" y="12" width="1.05" height="1.05" fill="#181818"/><rect x="21" y="12" width="1.05" height="1.05" fill="#161616"/><rect x="22" y="12" width="1.05" height="1.05" fill="#161616"/><rect x="23" y="12" width="1.05" height="1.05" fill="#191919"/><rect x="0" y="13" width="1.05" height="1.05" fill="#1f1f1f"/><rect x="1" y="13" width="1.05" height="1.05" fill="#242424"/><rect x="2" y="13" width="1.05" height="1.05" fill="#272727"/><rect x="3" y="13" width="1.05" height="1.05" fill="#2b2b2b"/><rect x="4" y="13" width="1.05" height="1.05" fill="#303030"/><rect x="5" y="13" width="1.05" height="1.05" fill="#373737"/><rect x="6" y="13" width="1.05" height="1.05" fill="#3a3a3a"/><rect x="7" y="13" width="1.05" height="1.05" fill="#404040"/><rect x="8" y="13" width="1.05" height="1.05" fill="#454545"/><rect x="9" y="13" width="1.05" height="1.05" fill="#484848"/><rect x="10" y="13" width="1.05" height="1.05" fill="#494949"/><rect x="11" y="13" width="1.05" height="1.05" fill="#484848"/><rect x="12" y="13" width="1.05" height="1.05" fill="#444444"/><rect x="13" y="13" width="1.05" height="1.05" fill="#3f3f3f"/><rect x="14" y="13" width="1.05" height="1.05" fill="#3a3a3a"/><rect x="15" y="13" width="1.05" height="1.05" fill="#323232"/><rect x="16" y="13" width="1.05" height="1.05" fill="#2a2a2a"/><rect x="17" y="13" width="1.05" height="1.05" fill="#262626"/><rect x="18" y="13" width="1.05" height="1.05" fill="#1c1c1c"/><rect x="19" y="13" width="1.05" height="1.05" fill="#1a1a1a"/><rect x="20" y="13" width="1.05" height="1.05" fill="#181818"/><rect x="21" y="13" width="1.05" height="1.05" fill="#171717"/><rect x="22" y="13" width="1.05" height="1.05" fill="#171717"/><rect x="23" y="13" width="1.05" height="1.05" fill="#181818"/><rect x="0" y="14" width="1.05" height="1.05" fill="#202020"/><rect x="1" y="14" width="1.05" height="1.05" fill="#232323"/><rect x="2" y="14" width="1.05" height="1.05" fill="#272727"/><rect x="3" y="14" width="1.05" height="1.05" fill="#282828"/><rect x="4" y="14" width="1.05" height="1.05" fill="#303030"/><rect x="5" y="14" width="1.05" height="1.05" fill="#343434"/><rect x="6" y="14" width="1.05" height="1.05" fill="#3b3b3b"/><rect x="7" y="14" width="1.05" height="1.05" fill="#3f3f3f"/><rect x="8" y="14" width="1.05" height="1.05" fill="#434343"/><rect x="9" y="14" width="1.05" height="1.05" fill="#454545"/><rect x="10" y="14" width="1.05" height="1.05" fill="#464646"/><rect x="11" y="14" width="1.05" height="1.05" fill="#444444"/><rect x="12" y="14" width="1.05" height="1.05" fill="#414141"/><rect x="13" y="14" width="1.05" height="1.05" fill="#3c3c3c"/><rect x="14" y="14" width="1.05" height="1.05" fill="#353535"/><rect x="15" y="14" width="1.05" height="1.05" fill="#323232"/><rect x="16" y="14" width="1.05" height="1.05" fill="#2a2a2a"/><rect x="17" y="14" width="1.05" height="1.05" fill="#212121"/><rect x="18" y="14" width="1.05" height="1.05" fill="#1f1f1f"/><rect x="19" y="14" width="1.05" height="1.05" fill="#191919"/><rect x="20" y="14" width="1.05" height="1.05" fill="#171717"/><rect x="21" y="14" width="1.05" height="1.05" fill="#161616"/><rect x="22" y="14" width="1.05" height="1.05" fill="#171717"/><rect x="23" y="14" width="1.05" height="1.05" fill="#181818"/><rect x="0" y="15" width="1.05" height="1.05" fill="#1f1f1f"/><rect x="1" y="15" width="1.05" height="1.05" fill="#212121"/><rect x="2" y="15" width="1.05" height="1.05" fill="#262626"/><rect x="3" y="15" width="1.05" height="1.05" fill="#2a2a2a"/><rect x="4" y="15" width="1.05" height="1.05" fill="#303030"/><rect x="5" y="15" width="1.05" height="1.05" fill="#333333"/><rect x="6" y="15" width="1.05" height="1.05" fill="#363636"/><rect x="7" y="15" width="1.05" height="1.05" fill="#3b3b3b"/><rect x="8" y="15" width="1.05" height="1.05" fill="#3f3f3f"/><rect x="9" y="15" width="1.05" height="1.05" fill="#404040"/><rect x="10" y="15" width="1.05" height="1.05" fill="#404040"/><rect x="11" y="15" width="1.05" height="1.05" fill="#404040"/><rect x="12" y="15" width="1.05" height="1.05" fill="#3d3d3d"/><rect x="13" y="15" width="1.05" height="1.05" fill="#383838"/><rect x="14" y="15" width="1.05" height="1.05" fill="#323232"/><rect x="15" y="15" width="1.05" height="1.05" fill="#2c2c2c"/><rect x="16" y="15" width="1.05" height="1.05" fill="#272727"/><rect x="17" y="15" width="1.05" height="1.05" fill="#222222"/><rect x="18" y="15" width="1.05" height="1.05" fill="#1d1d1d"/><rect x="19" y="15" width="1.05" height="1.05" fill="#1a1a1a"/><rect x="20" y="15" width="1.05" height="1.05" fill="#181818"/><rect x="21" y="15" width="1.05" height="1.05" fill="#181818"/><rect x="22" y="15" width="1.05" height="1.05" fill="#181818"/><rect x="23" y="15" width="1.05" height="1.05" fill="#181818"/><rect x="0" y="16" width="1.05" height="1.05" fill="#1e1e1e"/><rect x="1" y="16" width="1.05" height="1.05" fill="#222222"/><rect x="2" y="16" width="1.05" height="1.05" fill="#252525"/><rect x="3" y="16" width="1.05" height="1.05" fill="#282828"/><rect x="4" y="16" width="1.05" height="1.05" fill="#2b2b2b"/><rect x="5" y="16" width="1.05" height="1.05" fill="#303030"/><rect x="6" y="16" width="1.05" height="1.05" fill="#333333"/><rect x="7" y="16" width="1.05" height="1.05" fill="#363636"/><rect x="8" y="16" width="1.05" height="1.05" fill="#383838"/><rect x="9" y="16" width="1.05" height="1.05" fill="#393939"/><rect x="10" y="16" width="1.05" height="1.05" fill="#3b3b3b"/><rect x="11" y="16" width="1.05" height="1.05" fill="#3b3b3b"/><rect x="12" y="16" width="1.05" height="1.05" fill="#373737"/><rect x="13" y="16" width="1.05" height="1.05" fill="#343434"/><rect x="14" y="16" width="1.05" height="1.05" fill="#2e2e2e"/><rect x="15" y="16" width="1.05" height="1.05" fill="#2b2b2b"/><rect x="16" y="16" width="1.05" height="1.05" fill="#272727"/><rect x="17" y="16" width="1.05" height="1.05" fill="#1f1f1f"/><rect x="18" y="16" width="1.05" height="1.05" fill="#1d1d1d"/><rect x="19" y="16" width="1.05" height="1.05" fill="#1b1b1b"/><rect x="20" y="16" width="1.05" height="1.05" fill="#191919"/><rect x="21" y="16" width="1.05" height="1.05" fill="#181818"/><rect x="22" y="16" width="1.05" height="1.05" fill="#161616"/><rect x="23" y="16" width="1.05" height="1.05" fill="#181818"/><rect x="0" y="17" width="1.05" height="1.05" fill="#1f1f1f"/><rect x="1" y="17" width="1.05" height="1.05" fill="#212121"/><rect x="2" y="17" width="1.05" height="1.05" fill="#232323"/><rect x="3" y="17" width="1.05" height="1.05" fill="#252525"/><rect x="4" y="17" width="1.05" height="1.05" fill="#282828"/><rect x="5" y="17" width="1.05" height="1.05" fill="#2a2a2a"/><rect x="6" y="17" width="1.05" height="1.05" fill="#2d2d2d"/><rect x="7" y="17" width="1.05" height="1.05" fill="#323232"/><rect x="8" y="17" width="1.05" height="1.05" fill="#333333"/><rect x="9" y="17" width="1.05" height="1.05" fill="#333333"/><rect x="10" y="17" width="1.05" height="1.05" fill="#363636"/><rect x="11" y="17" width="1.05" height="1.05" fill="#323232"/><rect x="12" y="17" width="1.05" height="1.05" fill="#333333"/><rect x="13" y="17" width="1.05" height="1.05" fill="#2e2e2e"/><rect x="14" y="17" width="1.05" height="1.05" fill="#2b2b2b"/><rect x="15" y="17" width="1.05" height="1.05" fill="#272727"/><rect x="16" y="17" width="1.05" height="1.05" fill="#232323"/><rect x="17" y="17" width="1.05" height="1.05" fill="#212121"/><rect x="18" y="17" width="1.05" height="1.05" fill="#1c1c1c"/><rect x="19" y="17" width="1.05" height="1.05" fill="#1a1a1a"/><rect x="20" y="17" width="1.05" height="1.05" fill="#181818"/><rect x="21" y="17" width="1.05" height="1.05" fill="#171717"/><rect x="22" y="17" width="1.05" height="1.05" fill="#171717"/><rect x="23" y="17" width="1.05" height="1.05" fill="#1a1a1a"/><rect x="0" y="18" width="1.05" height="1.05" fill="#1e1e1e"/><rect x="1" y="18" width="1.05" height="1.05" fill="#202020"/><rect x="2" y="18" width="1.05" height="1.05" fill="#232323"/><rect x="3" y="18" width="1.05" height="1.05" fill="#232323"/><rect x="4" y="18" width="1.05" height="1.05" fill="#262626"/><rect x="5" y="18" width="1.05" height="1.05" fill="#262626"/><rect x="6" y="18" width="1.05" height="1.05" fill="#292929"/><rect x="7" y="18" width="1.05" height="1.05" fill="#2e2e2e"/><rect x="8" y="18" width="1.05" height="1.05" fill="#2e2e2e"/><rect x="9" y="18" width="1.05" height="1.05" fill="#2e2e2e"/><rect x="10" y="18" width="1.05" height="1.05" fill="#2e2e2e"/><rect x="11" y="18" width="1.05" height="1.05" fill="#2c2c2c"/><rect x="12" y="18" width="1.05" height="1.05" fill="#2b2b2b"/><rect x="13" y="18" width="1.05" height="1.05" fill="#282828"/><rect x="14" y="18" width="1.05" height="1.05" fill="#242424"/><rect x="15" y="18" width="1.05" height="1.05" fill="#242424"/><rect x="16" y="18" width="1.05" height="1.05" fill="#222222"/><rect x="17" y="18" width="1.05" height="1.05" fill="#1e1e1e"/><rect x="18" y="18" width="1.05" height="1.05" fill="#1c1c1c"/><rect x="19" y="18" width="1.05" height="1.05" fill="#191919"/><rect x="20" y="18" width="1.05" height="1.05" fill="#191919"/><rect x="21" y="18" width="1.05" height="1.05" fill="#191919"/><rect x="22" y="18" width="1.05" height="1.05" fill="#1a1a1a"/><rect x="23" y="18" width="1.05" height="1.05" fill="#1a1a1a"/><rect x="0" y="19" width="1.05" height="1.05" fill="#1c1c1c"/><rect x="1" y="19" width="1.05" height="1.05" fill="#1d1d1d"/><rect x="2" y="19" width="1.05" height="1.05" fill="#1e1e1e"/><rect x="3" y="19" width="1.05" height="1.05" fill="#202020"/><rect x="4" y="19" width="1.05" height="1.05" fill="#222222"/><rect x="5" y="19" width="1.05" height="1.05" fill="#242424"/><rect x="6" y="19" width="1.05" height="1.05" fill="#252525"/><rect x="7" y="19" width="1.05" height="1.05" fill="#282828"/><rect x="8" y="19" width="1.05" height="1.05" fill="#282828"/><rect x="9" y="19" width="1.05" height="1.05" fill="#282828"/><rect x="10" y="19" width="1.05" height="1.05" fill="#282828"/><rect x="11" y="19" width="1.05" height="1.05" fill="#282828"/><rect x="12" y="19" width="1.05" height="1.05" fill="#262626"/><rect x="13" y="19" width="1.05" height="1.05" fill="#242424"/><rect x="14" y="19" width="1.05" height="1.05" fill="#232323"/><rect x="15" y="19" width="1.05" height="1.05" fill="#202020"/><rect x="16" y="19" width="1.05" height="1.05" fill="#1e1e1e"/><rect x="17" y="19" width="1.05" height="1.05" fill="#1e1e1e"/><rect x="18" y="19" width="1.05" height="1.05" fill="#1b1b1b"/><rect x="19" y="19" width="1.05" height="1.05" fill="#1b1b1b"/><rect x="20" y="19" width="1.05" height="1.05" fill="#191919"/><rect x="21" y="19" width="1.05" height="1.05" fill="#1a1a1a"/><rect x="22" y="19" width="1.05" height="1.05" fill="#191919"/><rect x="23" y="19" width="1.05" height="1.05" fill="#171717"/><rect x="0" y="20" width="1.05" height="1.05" fill="#1c1c1c"/><rect x="1" y="20" width="1.05" height="1.05" fill="#1c1c1c"/><rect x="2" y="20" width="1.05" height="1.05" fill="#1b1b1b"/><rect x="3" y="20" width="1.05" height="1.05" fill="#1e1e1e"/><rect x="4" y="20" width="1.05" height="1.05" fill="#1f1f1f"/><rect x="5" y="20" width="1.05" height="1.05" fill="#1f1f1f"/><rect x="6" y="20" width="1.05" height="1.05" fill="#212121"/><rect x="7" y="20" width="1.05" height="1.05" fill="#232323"/><rect x="8" y="20" width="1.05" height="1.05" fill="#252525"/><rect x="9" y="20" width="1.05" height="1.05" fill="#252525"/><rect x="10" y="20" width="1.05" height="1.05" fill="#252525"/><rect x="11" y="20" width="1.05" height="1.05" fill="#252525"/><rect x="12" y="20" width="1.05" height="1.05" fill="#202020"/><rect x="13" y="20" width="1.05" height="1.05" fill="#212121"/><rect x="14" y="20" width="1.05" height="1.05" fill="#202020"/><rect x="15" y="20" width="1.05" height="1.05" fill="#1c1c1c"/><rect x="16" y="20" width="1.05" height="1.05" fill="#1e1e1e"/><rect x="17" y="20" width="1.05" height="1.05" fill="#1c1c1c"/><rect x="18" y="20" width="1.05" height="1.05" fill="#1a1a1a"/><rect x="19" y="20" width="1.05" height="1.05" fill="#191919"/><rect x="20" y="20" width="1.05" height="1.05" fill="#181818"/><rect x="21" y="20" width="1.05" height="1.05" fill="#191919"/><rect x="22" y="20" width="1.05" height="1.05" fill="#191919"/><rect x="23" y="20" width="1.05" height="1.05" fill="#191919"/><rect x="0" y="21" width="1.05" height="1.05" fill="#191919"/><rect x="1" y="21" width="1.05" height="1.05" fill="#1b1b1b"/><rect x="2" y="21" width="1.05" height="1.05" fill="#1b1b1b"/><rect x="3" y="21" width="1.05" height="1.05" fill="#1d1d1d"/><rect x="4" y="21" width="1.05" height="1.05" fill="#1d1d1d"/><rect x="5" y="21" width="1.05" height="1.05" fill="#1c1c1c"/><rect x="6" y="21" width="1.05" height="1.05" fill="#1d1d1d"/><rect x="7" y="21" width="1.05" height="1.05" fill="#1f1f1f"/><rect x="8" y="21" width="1.05" height="1.05" fill="#1f1f1f"/><rect x="9" y="21" width="1.05" height="1.05" fill="#212121"/><rect x="10" y="21" width="1.05" height="1.05" fill="#212121"/><rect x="11" y="21" width="1.05" height="1.05" fill="#202020"/><rect x="12" y="21" width="1.05" height="1.05" fill="#1e1e1e"/><rect x="13" y="21" width="1.05" height="1.05" fill="#1d1d1d"/><rect x="14" y="21" width="1.05" height="1.05" fill="#1e1e1e"/><rect x="15" y="21" width="1.05" height="1.05" fill="#1c1c1c"/><rect x="16" y="21" width="1.05" height="1.05" fill="#1d1d1d"/><rect x="17" y="21" width="1.05" height="1.05" fill="#1b1b1b"/><rect x="18" y="21" width="1.05" height="1.05" fill="#1a1a1a"/><rect x="19" y="21" width="1.05" height="1.05" fill="#181818"/><rect x="20" y="21" width="1.05" height="1.05" fill="#191919"/><rect x="21" y="21" width="1.05" height="1.05" fill="#161616"/><rect x="22" y="21" width="1.05" height="1.05" fill="#191919"/><rect x="23" y="21" width="1.05" height="1.05" fill="#1a1a1a"/><rect x="0" y="22" width="1.05" height="1.05" fill="#191919"/><rect x="1" y="22" width="1.05" height="1.05" fill="#191919"/><rect x="2" y="22" width="1.05" height="1.05" fill="#1a1a1a"/><rect x="3" y="22" width="1.05" height="1.05" fill="#1b1b1b"/><rect x="4" y="22" width="1.05" height="1.05" fill="#1a1a1a"/><rect x="5" y="22" width="1.05" height="1.05" fill="#1c1c1c"/><rect x="6" y="22" width="1.05" height="1.05" fill="#1b1b1b"/><rect x="7" y="22" width="1.05" height="1.05" fill="#1e1e1e"/><rect x="8" y="22" width="1.05" height="1.05" fill="#1c1c1c"/><rect x="9" y="22" width="1.05" height="1.05" fill="#1d1d1d"/><rect x="10" y="22" width="1.05" height="1.05" fill="#1f1f1f"/><rect x="11" y="22" width="1.05" height="1.05" fill="#1c1c1c"/><rect x="12" y="22" width="1.05" height="1.05" fill="#1b1b1b"/><rect x="13" y="22" width="1.05" height="1.05" fill="#1d1d1d"/><rect x="14" y="22" width="1.05" height="1.05" fill="#1b1b1b"/><rect x="15" y="22" width="1.05" height="1.05" fill="#1a1a1a"/><rect x="16" y="22" width="1.05" height="1.05" fill="#1a1a1a"/><rect x="17" y="22" width="1.05" height="1.05" fill="#191919"/><rect x="18" y="22" width="1.05" height="1.05" fill="#191919"/><rect x="19" y="22" width="1.05" height="1.05" fill="#181818"/><rect x="20" y="22" width="1.05" height="1.05" fill="#1b1b1b"/><rect x="21" y="22" width="1.05" height="1.05" fill="#181818"/><rect x="22" y="22" width="1.05" height="1.05" fill="#1a1a1a"/><rect x="23" y="22" width="1.05" height="1.05" fill="#181818"/><rect x="0" y="23" width="1.05" height="1.05" fill="#1a1a1a"/><rect x="1" y="23" width="1.05" height="1.05" fill="#181818"/><rect x="2" y="23" width="1.05" height="1.05" fill="#191919"/><rect x="3" y="23" width="1.05" height="1.05" fill="#1b1b1b"/><rect x="4" y="23" width="1.05" height="1.05" fill="#1a1a1a"/><rect x="5" y="23" width="1.05" height="1.05" fill="#191919"/><rect x="6" y="23" width="1.05" height="1.05" fill="#1a1a1a"/><rect x="7" y="23" width="1.05" height="1.05" fill="#1b1b1b"/><rect x="8" y="23" width="1.05" height="1.05" fill="#1c1c1c"/><rect x="9" y="23" width="1.05" height="1.05" fill="#1b1b1b"/><rect x="10" y="23" width="1.05" height="1.05" fill="#1b1b1b"/><rect x="11" y="23" width="1.05" height="1.05" fill="#1c1c1c"/><rect x="12" y="23" width="1.05" height="1.05" fill="#1a1a1a"/><rect x="13" y="23" width="1.05" height="1.05" fill="#1b1b1b"/><rect x="14" y="23" width="1.05" height="1.05" fill="#1a1a1a"/><rect x="15" y="23" width="1.05" height="1.05" fill="#1b1b1b"/><rect x="16" y="23" width="1.05" height="1.05" fill="#1a1a1a"/><rect x="17" y="23" width="1.05" height="1.05" fill="#191919"/><rect x="18" y="23" width="1.05" height="1.05" fill="#171717"/><rect x="19" y="23" width="1.05" height="1.05" fill="#191919"/><rect x="20" y="23" width="1.05" height="1.05" fill="#181818"/><rect x="21" y="23" width="1.05" height="1.05" fill="#181818"/><rect x="22" y="23" width="1.05" height="1.05" fill="#181818"/><rect x="23" y="23" width="1.05" height="1.05" fill="#181818"/></g><g transform="translate(449.8,2.4) scale(4.0333,3.9083)" shape-rendering="crispEdges"><rect width="24" height="24" fill="#1c1c1c"/><rect x="0" y="0" width="1.05" height="1.05" fill="#252525"/><rect x="1" y="0" width="1.05" height="1.05" fill="#1c1c1c"/><rect x="2" y="0" width="1.05" height="1.05" fill="#1f1f1f"/><rect x="3" y="0" width="1.05" height="1.05" fill="#1e1e1e"/><rect x="4" y="0" width="1.05" height="1.05" fill="#202020"/><rect x="5" y="0" width="1.05" height="1.05" fill="#1a1a1a"/><rect x="6" y="0" width="1.05" height="1.05" fill="#1d1d1d"/><rect x="7" y="0" width="1.05" height="1.05" fill="#1c1c1c"/><rect x="8" y="0" width="1.05" height="1.05" fill="#1b1b1b"/><rect x="9" y="0" width="1.05" height="1.05" fill="#1c1c1c"/><rect x="10" y="0" width="1.05" height="1.05" fill="#1d1d1d"/><rect x="11" y="0" width="1.05" height="1.05" fill="#1d1d1d"/><rect x="12" y="0" width="1.05" height="1.05" fill="#1b1b1b"/><rect x="13" y="0" width="1.05" height="1.05" fill="#1f1f1f"/><rect x="14" y="0" width="1.05" height="1.05" fill="#1c1c1c"/><rect x="15" y="0" width="1.05" height="1.05" fill="#141414"/><rect x="16" y="0" width="1.05" height="1.05" fill="#212121"/><rect x="17" y="0" width="1.05" height="1.05" fill="#1c1c1c"/><rect x="18" y="0" width="1.05" height="1.05" fill="#1b1b1b"/><rect x="19" y="0" width="1.05" height="1.05" fill="#1e1e1e"/><rect x="20" y="0" width="1.05" height="1.05" fill="#1e1e1e"/><rect x="21" y="0" width="1.05" height="1.05" fill="#1d1d1d"/><rect x="22" y="0" width="1.05" height="1.05" fill="#1b1b1b"/><rect x="23" y="0" width="1.05" height="1.05" fill="#1e1e1e"/><rect x="0" y="1" width="1.05" height="1.05" fill="#191919"/><rect x="1" y="1" width="1.05" height="1.05" fill="#222222"/><rect x="2" y="1" width="1.05" height="1.05" fill="#1a1a1a"/><rect x="3" y="1" width="1.05" height="1.05" fill="#1d1d1d"/><rect x="4" y="1" width="1.05" height="1.05" fill="#1e1e1e"/><rect x="5" y="1" width="1.05" height="1.05" fill="#1f1f1f"/><rect x="6" y="1" width="1.05" height="1.05" fill="#1d1d1d"/><rect x="7" y="1" width="1.05" height="1.05" fill="#202020"/><rect x="8" y="1" width="1.05" height="1.05" fill="#131313"/><rect x="9" y="1" width="1.05" height="1.05" fill="#1e1e1e"/><rect x="10" y="1" width="1.05" height="1.05" fill="#1e1e1e"/><rect x="11" y="1" width="1.05" height="1.05" fill="#1d1d1d"/><rect x="12" y="1" width="1.05" height="1.05" fill="#232323"/><rect x="13" y="1" width="1.05" height="1.05" fill="#1b1b1b"/><rect x="14" y="1" width="1.05" height="1.05" fill="#1e1e1e"/><rect x="15" y="1" width="1.05" height="1.05" fill="#171717"/><rect x="16" y="1" width="1.05" height="1.05" fill="#1e1e1e"/><rect x="17" y="1" width="1.05" height="1.05" fill="#181818"/><rect x="18" y="1" width="1.05" height="1.05" fill="#181818"/><rect x="19" y="1" width="1.05" height="1.05" fill="#242424"/><rect x="20" y="1" width="1.05" height="1.05" fill="#1e1e1e"/><rect x="21" y="1" width="1.05" height="1.05" fill="#1c1c1c"/><rect x="22" y="1" width="1.05" height="1.05" fill="#1d1d1d"/><rect x="23" y="1" width="1.05" height="1.05" fill="#181818"/><rect x="0" y="2" width="1.05" height="1.05" fill="#1a1a1a"/><rect x="1" y="2" width="1.05" height="1.05" fill="#1f1f1f"/><rect x="2" y="2" width="1.05" height="1.05" fill="#171717"/><rect x="3" y="2" width="1.05" height="1.05" fill="#1e1e1e"/><rect x="4" y="2" width="1.05" height="1.05" fill="#181818"/><rect x="5" y="2" width="1.05" height="1.05" fill="#1e1e1e"/><rect x="6" y="2" width="1.05" height="1.05" fill="#1a1a1a"/><rect x="7" y="2" width="1.05" height="1.05" fill="#232323"/><rect x="8" y="2" width="1.05" height="1.05" fill="#212121"/><rect x="9" y="2" width="1.05" height="1.05" fill="#1d1d1d"/><rect x="10" y="2" width="1.05" height="1.05" fill="#191919"/><rect x="11" y="2" width="1.05" height="1.05" fill="#1c1c1c"/><rect x="12" y="2" width="1.05" height="1.05" fill="#1e1e1e"/><rect x="13" y="2" width="1.05" height="1.05" fill="#1b1b1b"/><rect x="14" y="2" width="1.05" height="1.05" fill="#1f1f1f"/><rect x="15" y="2" width="1.05" height="1.05" fill="#212121"/><rect x="16" y="2" width="1.05" height="1.05" fill="#1d1d1d"/><rect x="17" y="2" width="1.05" height="1.05" fill="#1c1c1c"/><rect x="18" y="2" width="1.05" height="1.05" fill="#1f1f1f"/><rect x="19" y="2" width="1.05" height="1.05" fill="#1b1b1b"/><rect x="20" y="2" width="1.05" height="1.05" fill="#1e1e1e"/><rect x="21" y="2" width="1.05" height="1.05" fill="#1b1b1b"/><rect x="22" y="2" width="1.05" height="1.05" fill="#212121"/><rect x="23" y="2" width="1.05" height="1.05" fill="#1c1c1c"/><rect x="0" y="3" width="1.05" height="1.05" fill="#1a1a1a"/><rect x="1" y="3" width="1.05" height="1.05" fill="#1d1d1d"/><rect x="2" y="3" width="1.05" height="1.05" fill="#1b1b1b"/><rect x="3" y="3" width="1.05" height="1.05" fill="#1b1b1b"/><rect x="4" y="3" width="1.05" height="1.05" fill="#1d1d1d"/><rect x="5" y="3" width="1.05" height="1.05" fill="#202020"/><rect x="6" y="3" width="1.05" height="1.05" fill="#181818"/><rect x="7" y="3" width="1.05" height="1.05" fill="#1e1e1e"/><rect x="8" y="3" width="1.05" height="1.05" fill="#1f1f1f"/><rect x="9" y="3" width="1.05" height="1.05" fill="#1f1f1f"/><rect x="10" y="3" width="1.05" height="1.05" fill="#222222"/><rect x="11" y="3" width="1.05" height="1.05" fill="#1c1c1c"/><rect x="12" y="3" width="1.05" height="1.05" fill="#212121"/><rect x="13" y="3" width="1.05" height="1.05" fill="#1e1e1e"/><rect x="14" y="3" width="1.05" height="1.05" fill="#1f1f1f"/><rect x="15" y="3" width="1.05" height="1.05" fill="#1e1e1e"/><rect x="16" y="3" width="1.05" height="1.05" fill="#1d1d1d"/><rect x="17" y="3" width="1.05" height="1.05" fill="#1b1b1b"/><rect x="18" y="3" width="1.05" height="1.05" fill="#1d1d1d"/><rect x="19" y="3" width="1.05" height="1.05" fill="#222222"/><rect x="20" y="3" width="1.05" height="1.05" fill="#1e1e1e"/><rect x="21" y="3" width="1.05" height="1.05" fill="#1e1e1e"/><rect x="22" y="3" width="1.05" height="1.05" fill="#1d1d1d"/><rect x="23" y="3" width="1.05" height="1.05" fill="#1b1b1b"/><rect x="0" y="4" width="1.05" height="1.05" fill="#1f1f1f"/><rect x="1" y="4" width="1.05" height="1.05" fill="#232323"/><rect x="2" y="4" width="1.05" height="1.05" fill="#191919"/><rect x="3" y="4" width="1.05" height="1.05" fill="#202020"/><rect x="4" y="4" width="1.05" height="1.05" fill="#212121"/><rect x="5" y="4" width="1.05" height="1.05" fill="#1f1f1f"/><rect x="6" y="4" width="1.05" height="1.05" fill="#212121"/><rect x="7" y="4" width="1.05" height="1.05" fill="#242424"/><rect x="8" y="4" width="1.05" height="1.05" fill="#272727"/><rect x="9" y="4" width="1.05" height="1.05" fill="#252525"/><rect x="10" y="4" width="1.05" height="1.05" fill="#272727"/><rect x="11" y="4" width="1.05" height="1.05" fill="#232323"/><rect x="12" y="4" width="1.05" height="1.05" fill="#242424"/><rect x="13" y="4" width="1.05" height="1.05" fill="#212121"/><rect x="14" y="4" width="1.05" height="1.05" fill="#212121"/><rect x="15" y="4" width="1.05" height="1.05" fill="#1e1e1e"/><rect x="16" y="4" width="1.05" height="1.05" fill="#202020"/><rect x="17" y="4" width="1.05" height="1.05" fill="#212121"/><rect x="18" y="4" width="1.05" height="1.05" fill="#1b1b1b"/><rect x="19" y="4" width="1.05" height="1.05" fill="#1c1c1c"/><rect x="20" y="4" width="1.05" height="1.05" fill="#1c1c1c"/><rect x="21" y="4" width="1.05" height="1.05" fill="#1b1b1b"/><rect x="22" y="4" width="1.05" height="1.05" fill="#1e1e1e"/><rect x="23" y="4" width="1.05" height="1.05" fill="#1c1c1c"/><rect x="0" y="5" width="1.05" height="1.05" fill="#1a1a1a"/><rect x="1" y="5" width="1.05" height="1.05" fill="#1a1a1a"/><rect x="2" y="5" width="1.05" height="1.05" fill="#202020"/><rect x="3" y="5" width="1.05" height="1.05" fill="#202020"/><rect x="4" y="5" width="1.05" height="1.05" fill="#222222"/><rect x="5" y="5" width="1.05" height="1.05" fill="#202020"/><rect x="6" y="5" width="1.05" height="1.05" fill="#212121"/><rect x="7" y="5" width="1.05" height="1.05" fill="#1d1d1d"/><rect x="8" y="5" width="1.05" height="1.05" fill="#272727"/><rect x="9" y="5" width="1.05" height="1.05" fill="#212121"/><rect x="10" y="5" width="1.05" height="1.05" fill="#282828"/><rect x="11" y="5" width="1.05" height="1.05" fill="#212121"/><rect x="12" y="5" width="1.05" height="1.05" fill="#222222"/><rect x="13" y="5" width="1.05" height="1.05" fill="#242424"/><rect x="14" y="5" width="1.05" height="1.05" fill="#212121"/><rect x="15" y="5" width="1.05" height="1.05" fill="#1f1f1f"/><rect x="16" y="5" width="1.05" height="1.05" fill="#222222"/><rect x="17" y="5" width="1.05" height="1.05" fill="#1f1f1f"/><rect x="18" y="5" width="1.05" height="1.05" fill="#1d1d1d"/><rect x="19" y="5" width="1.05" height="1.05" fill="#191919"/><rect x="20" y="5" width="1.05" height="1.05" fill="#171717"/><rect x="21" y="5" width="1.05" height="1.05" fill="#181818"/><rect x="22" y="5" width="1.05" height="1.05" fill="#191919"/><rect x="23" y="5" width="1.05" height="1.05" fill="#1b1b1b"/><rect x="0" y="6" width="1.05" height="1.05" fill="#202020"/><rect x="1" y="6" width="1.05" height="1.05" fill="#1d1d1d"/><rect x="2" y="6" width="1.05" height="1.05" fill="#1c1c1c"/><rect x="3" y="6" width="1.05" height="1.05" fill="#1d1d1d"/><rect x="4" y="6" width="1.05" height="1.05" fill="#242424"/><rect x="5" y="6" width="1.05" height="1.05" fill="#222222"/><rect x="6" y="6" width="1.05" height="1.05" fill="#232323"/><rect x="7" y="6" width="1.05" height="1.05" fill="#252525"/><rect x="8" y="6" width="1.05" height="1.05" fill="#282828"/><rect x="9" y="6" width="1.05" height="1.05" fill="#282828"/><rect x="10" y="6" width="1.05" height="1.05" fill="#2d2d2d"/><rect x="11" y="6" width="1.05" height="1.05" fill="#2c2c2c"/><rect x="12" y="6" width="1.05" height="1.05" fill="#202020"/><rect x="13" y="6" width="1.05" height="1.05" fill="#272727"/><rect x="14" y="6" width="1.05" height="1.05" fill="#2e2e2e"/><rect x="15" y="6" width="1.05" height="1.05" fill="#1f1f1f"/><rect x="16" y="6" width="1.05" height="1.05" fill="#212121"/><rect x="17" y="6" width="1.05" height="1.05" fill="#212121"/><rect x="18" y="6" width="1.05" height="1.05" fill="#1c1c1c"/><rect x="19" y="6" width="1.05" height="1.05" fill="#1e1e1e"/><rect x="20" y="6" width="1.05" height="1.05" fill="#151515"/><rect x="21" y="6" width="1.05" height="1.05" fill="#151515"/><rect x="22" y="6" width="1.05" height="1.05" fill="#191919"/><rect x="23" y="6" width="1.05" height="1.05" fill="#181818"/><rect x="0" y="7" width="1.05" height="1.05" fill="#1a1a1a"/><rect x="1" y="7" width="1.05" height="1.05" fill="#1f1f1f"/><rect x="2" y="7" width="1.05" height="1.05" fill="#1f1f1f"/><rect x="3" y="7" width="1.05" height="1.05" fill="#202020"/><rect x="4" y="7" width="1.05" height="1.05" fill="#202020"/><rect x="5" y="7" width="1.05" height="1.05" fill="#242424"/><rect x="6" y="7" width="1.05" height="1.05" fill="#252525"/><rect x="7" y="7" width="1.05" height="1.05" fill="#262626"/><rect x="8" y="7" width="1.05" height="1.05" fill="#2d2d2d"/><rect x="9" y="7" width="1.05" height="1.05" fill="#2f2f2f"/><rect x="10" y="7" width="1.05" height="1.05" fill="#2f2f2f"/><rect x="11" y="7" width="1.05" height="1.05" fill="#313131"/><rect x="12" y="7" width="1.05" height="1.05" fill="#2b2b2b"/><rect x="13" y="7" width="1.05" height="1.05" fill="#2c2c2c"/><rect x="14" y="7" width="1.05" height="1.05" fill="#282828"/><rect x="15" y="7" width="1.05" height="1.05" fill="#2a2a2a"/><rect x="16" y="7" width="1.05" height="1.05" fill="#242424"/><rect x="17" y="7" width="1.05" height="1.05" fill="#252525"/><rect x="18" y="7" width="1.05" height="1.05" fill="#212121"/><rect x="19" y="7" width="1.05" height="1.05" fill="#181818"/><rect x="20" y="7" width="1.05" height="1.05" fill="#151515"/><rect x="21" y="7" width="1.05" height="1.05" fill="#191919"/><rect x="22" y="7" width="1.05" height="1.05" fill="#181818"/><rect x="23" y="7" width="1.05" height="1.05" fill="#1a1a1a"/><rect x="0" y="8" width="1.05" height="1.05" fill="#1a1a1a"/><rect x="1" y="8" width="1.05" height="1.05" fill="#202020"/><rect x="2" y="8" width="1.05" height="1.05" fill="#202020"/><rect x="3" y="8" width="1.05" height="1.05" fill="#222222"/><rect x="4" y="8" width="1.05" height="1.05" fill="#242424"/><rect x="5" y="8" width="1.05" height="1.05" fill="#232323"/><rect x="6" y="8" width="1.05" height="1.05" fill="#222222"/><rect x="7" y="8" width="1.05" height="1.05" fill="#2c2c2c"/><rect x="8" y="8" width="1.05" height="1.05" fill="#2f2f2f"/><rect x="9" y="8" width="1.05" height="1.05" fill="#323232"/><rect x="10" y="8" width="1.05" height="1.05" fill="#393939"/><rect x="11" y="8" width="1.05" height="1.05" fill="#363636"/><rect x="12" y="8" width="1.05" height="1.05" fill="#393939"/><rect x="13" y="8" width="1.05" height="1.05" fill="#333333"/><rect x="14" y="8" width="1.05" height="1.05" fill="#303030"/><rect x="15" y="8" width="1.05" height="1.05" fill="#2b2b2b"/><rect x="16" y="8" width="1.05" height="1.05" fill="#272727"/><rect x="17" y="8" width="1.05" height="1.05" fill="#1c1c1c"/><rect x="18" y="8" width="1.05" height="1.05" fill="#1f1f1f"/><rect x="19" y="8" width="1.05" height="1.05" fill="#191919"/><rect x="20" y="8" width="1.05" height="1.05" fill="#141414"/><rect x="21" y="8" width="1.05" height="1.05" fill="#191919"/><rect x="22" y="8" width="1.05" height="1.05" fill="#191919"/><rect x="23" y="8" width="1.05" height="1.05" fill="#1d1d1d"/><rect x="0" y="9" width="1.05" height="1.05" fill="#202020"/><rect x="1" y="9" width="1.05" height="1.05" fill="#202020"/><rect x="2" y="9" width="1.05" height="1.05" fill="#1b1b1b"/><rect x="3" y="9" width="1.05" height="1.05" fill="#272727"/><rect x="4" y="9" width="1.05" height="1.05" fill="#292929"/><rect x="5" y="9" width="1.05" height="1.05" fill="#2b2b2b"/><rect x="6" y="9" width="1.05" height="1.05" fill="#2e2e2e"/><rect x="7" y="9" width="1.05" height="1.05" fill="#353535"/><rect x="8" y="9" width="1.05" height="1.05" fill="#343434"/><rect x="9" y="9" width="1.05" height="1.05" fill="#3d3d3d"/><rect x="10" y="9" width="1.05" height="1.05" fill="#3e3e3e"/><rect x="11" y="9" width="1.05" height="1.05" fill="#3b3b3b"/><rect x="12" y="9" width="1.05" height="1.05" fill="#3d3d3d"/><rect x="13" y="9" width="1.05" height="1.05" fill="#3a3a3a"/><rect x="14" y="9" width="1.05" height="1.05" fill="#383838"/><rect x="15" y="9" width="1.05" height="1.05" fill="#303030"/><rect x="16" y="9" width="1.05" height="1.05" fill="#232323"/><rect x="17" y="9" width="1.05" height="1.05" fill="#1c1c1c"/><rect x="18" y="9" width="1.05" height="1.05" fill="#1c1c1c"/><rect x="19" y="9" width="1.05" height="1.05" fill="#181818"/><rect x="20" y="9" width="1.05" height="1.05" fill="#141414"/><rect x="21" y="9" width="1.05" height="1.05" fill="#121212"/><rect x="22" y="9" width="1.05" height="1.05" fill="#171717"/><rect x="23" y="9" width="1.05" height="1.05" fill="#161616"/><rect x="0" y="10" width="1.05" height="1.05" fill="#1c1c1c"/><rect x="1" y="10" width="1.05" height="1.05" fill="#222222"/><rect x="2" y="10" width="1.05" height="1.05" fill="#222222"/><rect x="3" y="10" width="1.05" height="1.05" fill="#212121"/><rect x="4" y="10" width="1.05" height="1.05" fill="#232323"/><rect x="5" y="10" width="1.05" height="1.05" fill="#2b2b2b"/><rect x="6" y="10" width="1.05" height="1.05" fill="#363636"/><rect x="7" y="10" width="1.05" height="1.05" fill="#353535"/><rect x="8" y="10" width="1.05" height="1.05" fill="#424242"/><rect x="9" y="10" width="1.05" height="1.05" fill="#3f3f3f"/><rect x="10" y="10" width="1.05" height="1.05" fill="#444444"/><rect x="11" y="10" width="1.05" height="1.05" fill="#484848"/><rect x="12" y="10" width="1.05" height="1.05" fill="#414141"/><rect x="13" y="10" width="1.05" height="1.05" fill="#3f3f3f"/><rect x="14" y="10" width="1.05" height="1.05" fill="#343434"/><rect x="15" y="10" width="1.05" height="1.05" fill="#333333"/><rect x="16" y="10" width="1.05" height="1.05" fill="#2d2d2d"/><rect x="17" y="10" width="1.05" height="1.05" fill="#212121"/><rect x="18" y="10" width="1.05" height="1.05" fill="#1e1e1e"/><rect x="19" y="10" width="1.05" height="1.05" fill="#181818"/><rect x="20" y="10" width="1.05" height="1.05" fill="#101010"/><rect x="21" y="10" width="1.05" height="1.05" fill="#1e1e1e"/><rect x="22" y="10" width="1.05" height="1.05" fill="#191919"/><rect x="23" y="10" width="1.05" height="1.05" fill="#1b1b1b"/><rect x="0" y="11" width="1.05" height="1.05" fill="#1f1f1f"/><rect x="1" y="11" width="1.05" height="1.05" fill="#202020"/><rect x="2" y="11" width="1.05" height="1.05" fill="#292929"/><rect x="3" y="11" width="1.05" height="1.05" fill="#1f1f1f"/><rect x="4" y="11" width="1.05" height="1.05" fill="#282828"/><rect x="5" y="11" width="1.05" height="1.05" fill="#2d2d2d"/><rect x="6" y="11" width="1.05" height="1.05" fill="#333333"/><rect x="7" y="11" width="1.05" height="1.05" fill="#3d3d3d"/><rect x="8" y="11" width="1.05" height="1.05" fill="#3f3f3f"/><rect x="9" y="11" width="1.05" height="1.05" fill="#434343"/><rect x="10" y="11" width="1.05" height="1.05" fill="#484848"/><rect x="11" y="11" width="1.05" height="1.05" fill="#4d4d4d"/><rect x="12" y="11" width="1.05" height="1.05" fill="#4c4c4c"/><rect x="13" y="11" width="1.05" height="1.05" fill="#464646"/><rect x="14" y="11" width="1.05" height="1.05" fill="#414141"/><rect x="15" y="11" width="1.05" height="1.05" fill="#333333"/><rect x="16" y="11" width="1.05" height="1.05" fill="#2f2f2f"/><rect x="17" y="11" width="1.05" height="1.05" fill="#262626"/><rect x="18" y="11" width="1.05" height="1.05" fill="#1d1d1d"/><rect x="19" y="11" width="1.05" height="1.05" fill="#171717"/><rect x="20" y="11" width="1.05" height="1.05" fill="#191919"/><rect x="21" y="11" width="1.05" height="1.05" fill="#141414"/><rect x="22" y="11" width="1.05" height="1.05" fill="#161616"/><rect x="23" y="11" width="1.05" height="1.05" fill="#151515"/><rect x="0" y="12" width="1.05" height="1.05" fill="#232323"/><rect x="1" y="12" width="1.05" height="1.05" fill="#202020"/><rect x="2" y="12" width="1.05" height="1.05" fill="#212121"/><rect x="3" y="12" width="1.05" height="1.05" fill="#252525"/><rect x="4" y="12" width="1.05" height="1.05" fill="#292929"/><rect x="5" y="12" width="1.05" height="1.05" fill="#303030"/><rect x="6" y="12" width="1.05" height="1.05" fill="#313131"/><rect x="7" y="12" width="1.05" height="1.05" fill="#3a3a3a"/><rect x="8" y="12" width="1.05" height="1.05" fill="#464646"/><rect x="9" y="12" width="1.05" height="1.05" fill="#4e4e4e"/><rect x="10" y="12" width="1.05" height="1.05" fill="#4c4c4c"/><rect x="11" y="12" width="1.05" height="1.05" fill="#505050"/><rect x="12" y="12" width="1.05" height="1.05" fill="#4b4b4b"/><rect x="13" y="12" width="1.05" height="1.05" fill="#404040"/><rect x="14" y="12" width="1.05" height="1.05" fill="#3e3e3e"/><rect x="15" y="12" width="1.05" height="1.05" fill="#333333"/><rect x="16" y="12" width="1.05" height="1.05" fill="#303030"/><rect x="17" y="12" width="1.05" height="1.05" fill="#252525"/><rect x="18" y="12" width="1.05" height="1.05" fill="#1e1e1e"/><rect x="19" y="12" width="1.05" height="1.05" fill="#151515"/><rect x="20" y="12" width="1.05" height="1.05" fill="#171717"/><rect x="21" y="12" width="1.05" height="1.05" fill="#101010"/><rect x="22" y="12" width="1.05" height="1.05" fill="#171717"/><rect x="23" y="12" width="1.05" height="1.05" fill="#1c1c1c"/><rect x="0" y="13" width="1.05" height="1.05" fill="#1a1a1a"/><rect x="1" y="13" width="1.05" height="1.05" fill="#222222"/><rect x="2" y="13" width="1.05" height="1.05" fill="#272727"/><rect x="3" y="13" width="1.05" height="1.05" fill="#252525"/><rect x="4" y="13" width="1.05" height="1.05" fill="#2e2e2e"/><rect x="5" y="13" width="1.05" height="1.05" fill="#303030"/><rect x="6" y="13" width="1.05" height="1.05" fill="#353535"/><rect x="7" y="13" width="1.05" height="1.05" fill="#383838"/><rect x="8" y="13" width="1.05" height="1.05" fill="#424242"/><rect x="9" y="13" width="1.05" height="1.05" fill="#474747"/><rect x="10" y="13" width="1.05" height="1.05" fill="#565656"/><rect x="11" y="13" width="1.05" height="1.05" fill="#515151"/><rect x="12" y="13" width="1.05" height="1.05" fill="#4c4c4c"/><rect x="13" y="13" width="1.05" height="1.05" fill="#434343"/><rect x="14" y="13" width="1.05" height="1.05" fill="#444444"/><rect x="15" y="13" width="1.05" height="1.05" fill="#333333"/><rect x="16" y="13" width="1.05" height="1.05" fill="#323232"/><rect x="17" y="13" width="1.05" height="1.05" fill="#292929"/><rect x="18" y="13" width="1.05" height="1.05" fill="#1f1f1f"/><rect x="19" y="13" width="1.05" height="1.05" fill="#171717"/><rect x="20" y="13" width="1.05" height="1.05" fill="#161616"/><rect x="21" y="13" width="1.05" height="1.05" fill="#121212"/><rect x="22" y="13" width="1.05" height="1.05" fill="#191919"/><rect x="23" y="13" width="1.05" height="1.05" fill="#1d1d1d"/><rect x="0" y="14" width="1.05" height="1.05" fill="#212121"/><rect x="1" y="14" width="1.05" height="1.05" fill="#232323"/><rect x="2" y="14" width="1.05" height="1.05" fill="#202020"/><rect x="3" y="14" width="1.05" height="1.05" fill="#272727"/><rect x="4" y="14" width="1.05" height="1.05" fill="#272727"/><rect x="5" y="14" width="1.05" height="1.05" fill="#2e2e2e"/><rect x="6" y="14" width="1.05" height="1.05" fill="#383838"/><rect x="7" y="14" width="1.05" height="1.05" fill="#444444"/><rect x="8" y="14" width="1.05" height="1.05" fill="#434343"/><rect x="9" y="14" width="1.05" height="1.05" fill="#494949"/><rect x="10" y="14" width="1.05" height="1.05" fill="#474747"/><rect x="11" y="14" width="1.05" height="1.05" fill="#4e4e4e"/><rect x="12" y="14" width="1.05" height="1.05" fill="#484848"/><rect x="13" y="14" width="1.05" height="1.05" fill="#414141"/><rect x="14" y="14" width="1.05" height="1.05" fill="#393939"/><rect x="15" y="14" width="1.05" height="1.05" fill="#353535"/><rect x="16" y="14" width="1.05" height="1.05" fill="#2b2b2b"/><rect x="17" y="14" width="1.05" height="1.05" fill="#272727"/><rect x="18" y="14" width="1.05" height="1.05" fill="#1e1e1e"/><rect x="19" y="14" width="1.05" height="1.05" fill="#191919"/><rect x="20" y="14" width="1.05" height="1.05" fill="#1b1b1b"/><rect x="21" y="14" width="1.05" height="1.05" fill="#181818"/><rect x="22" y="14" width="1.05" height="1.05" fill="#191919"/><rect x="23" y="14" width="1.05" height="1.05" fill="#1d1d1d"/><rect x="0" y="15" width="1.05" height="1.05" fill="#1e1e1e"/><rect x="1" y="15" width="1.05" height="1.05" fill="#1c1c1c"/><rect x="2" y="15" width="1.05" height="1.05" fill="#1f1f1f"/><rect x="3" y="15" width="1.05" height="1.05" fill="#202020"/><rect x="4" y="15" width="1.05" height="1.05" fill="#2a2a2a"/><rect x="5" y="15" width="1.05" height="1.05" fill="#2c2c2c"/><rect x="6" y="15" width="1.05" height="1.05" fill="#343434"/><rect x="7" y="15" width="1.05" height="1.05" fill="#3b3b3b"/><rect x="8" y="15" width="1.05" height="1.05" fill="#3c3c3c"/><rect x="9" y="15" width="1.05" height="1.05" fill="#444444"/><rect x="10" y="15" width="1.05" height="1.05" fill="#4b4b4b"/><rect x="11" y="15" width="1.05" height="1.05" fill="#484848"/><rect x="12" y="15" width="1.05" height="1.05" fill="#484848"/><rect x="13" y="15" width="1.05" height="1.05" fill="#404040"/><rect x="14" y="15" width="1.05" height="1.05" fill="#373737"/><rect x="15" y="15" width="1.05" height="1.05" fill="#313131"/><rect x="16" y="15" width="1.05" height="1.05" fill="#252525"/><rect x="17" y="15" width="1.05" height="1.05" fill="#262626"/><rect x="18" y="15" width="1.05" height="1.05" fill="#1c1c1c"/><rect x="19" y="15" width="1.05" height="1.05" fill="#1e1e1e"/><rect x="20" y="15" width="1.05" height="1.05" fill="#131313"/><rect x="21" y="15" width="1.05" height="1.05" fill="#171717"/><rect x="22" y="15" width="1.05" height="1.05" fill="#181818"/><rect x="23" y="15" width="1.05" height="1.05" fill="#181818"/><rect x="0" y="16" width="1.05" height="1.05" fill="#1e1e1e"/><rect x="1" y="16" width="1.05" height="1.05" fill="#1c1c1c"/><rect x="2" y="16" width="1.05" height="1.05" fill="#1d1d1d"/><rect x="3" y="16" width="1.05" height="1.05" fill="#1f1f1f"/><rect x="4" y="16" width="1.05" height="1.05" fill="#252525"/><rect x="5" y="16" width="1.05" height="1.05" fill="#282828"/><rect x="6" y="16" width="1.05" height="1.05" fill="#303030"/><rect x="7" y="16" width="1.05" height="1.05" fill="#333333"/><rect x="8" y="16" width="1.05" height="1.05" fill="#373737"/><rect x="9" y="16" width="1.05" height="1.05" fill="#3b3b3b"/><rect x="10" y="16" width="1.05" height="1.05" fill="#3a3a3a"/><rect x="11" y="16" width="1.05" height="1.05" fill="#3f3f3f"/><rect x="12" y="16" width="1.05" height="1.05" fill="#3f3f3f"/><rect x="13" y="16" width="1.05" height="1.05" fill="#363636"/><rect x="14" y="16" width="1.05" height="1.05" fill="#343434"/><rect x="15" y="16" width="1.05" height="1.05" fill="#303030"/><rect x="16" y="16" width="1.05" height="1.05" fill="#262626"/><rect x="17" y="16" width="1.05" height="1.05" fill="#232323"/><rect x="18" y="16" width="1.05" height="1.05" fill="#1c1c1c"/><rect x="19" y="16" width="1.05" height="1.05" fill="#212121"/><rect x="20" y="16" width="1.05" height="1.05" fill="#1c1c1c"/><rect x="21" y="16" width="1.05" height="1.05" fill="#1a1a1a"/><rect x="22" y="16" width="1.05" height="1.05" fill="#151515"/><rect x="23" y="16" width="1.05" height="1.05" fill="#1b1b1b"/><rect x="0" y="17" width="1.05" height="1.05" fill="#1c1c1c"/><rect x="1" y="17" width="1.05" height="1.05" fill="#1f1f1f"/><rect x="2" y="17" width="1.05" height="1.05" fill="#1e1e1e"/><rect x="3" y="17" width="1.05" height="1.05" fill="#222222"/><rect x="4" y="17" width="1.05" height="1.05" fill="#222222"/><rect x="5" y="17" width="1.05" height="1.05" fill="#282828"/><rect x="6" y="17" width="1.05" height="1.05" fill="#303030"/><rect x="7" y="17" width="1.05" height="1.05" fill="#2a2a2a"/><rect x="8" y="17" width="1.05" height="1.05" fill="#2e2e2e"/><rect x="9" y="17" width="1.05" height="1.05" fill="#373737"/><rect x="10" y="17" width="1.05" height="1.05" fill="#3a3a3a"/><rect x="11" y="17" width="1.05" height="1.05" fill="#373737"/><rect x="12" y="17" width="1.05" height="1.05" fill="#383838"/><rect x="13" y="17" width="1.05" height="1.05" fill="#343434"/><rect x="14" y="17" width="1.05" height="1.05" fill="#303030"/><rect x="15" y="17" width="1.05" height="1.05" fill="#2e2e2e"/><rect x="16" y="17" width="1.05" height="1.05" fill="#232323"/><rect x="17" y="17" width="1.05" height="1.05" fill="#222222"/><rect x="18" y="17" width="1.05" height="1.05" fill="#1d1d1d"/><rect x="19" y="17" width="1.05" height="1.05" fill="#171717"/><rect x="20" y="17" width="1.05" height="1.05" fill="#191919"/><rect x="21" y="17" width="1.05" height="1.05" fill="#131313"/><rect x="22" y="17" width="1.05" height="1.05" fill="#131313"/><rect x="23" y="17" width="1.05" height="1.05" fill="#1c1c1c"/><rect x="0" y="18" width="1.05" height="1.05" fill="#191919"/><rect x="1" y="18" width="1.05" height="1.05" fill="#222222"/><rect x="2" y="18" width="1.05" height="1.05" fill="#212121"/><rect x="3" y="18" width="1.05" height="1.05" fill="#1e1e1e"/><rect x="4" y="18" width="1.05" height="1.05" fill="#1f1f1f"/><rect x="5" y="18" width="1.05" height="1.05" fill="#1d1d1d"/><rect x="6" y="18" width="1.05" height="1.05" fill="#262626"/><rect x="7" y="18" width="1.05" height="1.05" fill="#242424"/><rect x="8" y="18" width="1.05" height="1.05" fill="#313131"/><rect x="9" y="18" width="1.05" height="1.05" fill="#292929"/><rect x="10" y="18" width="1.05" height="1.05" fill="#303030"/><rect x="11" y="18" width="1.05" height="1.05" fill="#282828"/><rect x="12" y="18" width="1.05" height="1.05" fill="#2e2e2e"/><rect x="13" y="18" width="1.05" height="1.05" fill="#313131"/><rect x="14" y="18" width="1.05" height="1.05" fill="#282828"/><rect x="15" y="18" width="1.05" height="1.05" fill="#232323"/><rect x="16" y="18" width="1.05" height="1.05" fill="#212121"/><rect x="17" y="18" width="1.05" height="1.05" fill="#202020"/><rect x="18" y="18" width="1.05" height="1.05" fill="#1e1e1e"/><rect x="19" y="18" width="1.05" height="1.05" fill="#191919"/><rect x="20" y="18" width="1.05" height="1.05" fill="#121212"/><rect x="21" y="18" width="1.05" height="1.05" fill="#191919"/><rect x="22" y="18" width="1.05" height="1.05" fill="#1b1b1b"/><rect x="23" y="18" width="1.05" height="1.05" fill="#202020"/><rect x="0" y="19" width="1.05" height="1.05" fill="#1c1c1c"/><rect x="1" y="19" width="1.05" height="1.05" fill="#1d1d1d"/><rect x="2" y="19" width="1.05" height="1.05" fill="#1b1b1b"/><rect x="3" y="19" width="1.05" height="1.05" fill="#202020"/><rect x="4" y="19" width="1.05" height="1.05" fill="#252525"/><rect x="5" y="19" width="1.05" height="1.05" fill="#1e1e1e"/><rect x="6" y="19" width="1.05" height="1.05" fill="#232323"/><rect x="7" y="19" width="1.05" height="1.05" fill="#212121"/><rect x="8" y="19" width="1.05" height="1.05" fill="#252525"/><rect x="9" y="19" width="1.05" height="1.05" fill="#282828"/><rect x="10" y="19" width="1.05" height="1.05" fill="#2b2b2b"/><rect x="11" y="19" width="1.05" height="1.05" fill="#272727"/><rect x="12" y="19" width="1.05" height="1.05" fill="#282828"/><rect x="13" y="19" width="1.05" height="1.05" fill="#2b2b2b"/><rect x="14" y="19" width="1.05" height="1.05" fill="#262626"/><rect x="15" y="19" width="1.05" height="1.05" fill="#242424"/><rect x="16" y="19" width="1.05" height="1.05" fill="#212121"/><rect x="17" y="19" width="1.05" height="1.05" fill="#1d1d1d"/><rect x="18" y="19" width="1.05" height="1.05" fill="#1c1c1c"/><rect x="19" y="19" width="1.05" height="1.05" fill="#1b1b1b"/><rect x="20" y="19" width="1.05" height="1.05" fill="#181818"/><rect x="21" y="19" width="1.05" height="1.05" fill="#1b1b1b"/><rect x="22" y="19" width="1.05" height="1.05" fill="#191919"/><rect x="23" y="19" width="1.05" height="1.05" fill="#1c1c1c"/><rect x="0" y="20" width="1.05" height="1.05" fill="#1b1b1b"/><rect x="1" y="20" width="1.05" height="1.05" fill="#1e1e1e"/><rect x="2" y="20" width="1.05" height="1.05" fill="#1a1a1a"/><rect x="3" y="20" width="1.05" height="1.05" fill="#1b1b1b"/><rect x="4" y="20" width="1.05" height="1.05" fill="#1a1a1a"/><rect x="5" y="20" width="1.05" height="1.05" fill="#222222"/><rect x="6" y="20" width="1.05" height="1.05" fill="#212121"/><rect x="7" y="20" width="1.05" height="1.05" fill="#222222"/><rect x="8" y="20" width="1.05" height="1.05" fill="#242424"/><rect x="9" y="20" width="1.05" height="1.05" fill="#212121"/><rect x="10" y="20" width="1.05" height="1.05" fill="#242424"/><rect x="11" y="20" width="1.05" height="1.05" fill="#232323"/><rect x="12" y="20" width="1.05" height="1.05" fill="#1e1e1e"/><rect x="13" y="20" width="1.05" height="1.05" fill="#222222"/><rect x="14" y="20" width="1.05" height="1.05" fill="#1e1e1e"/><rect x="15" y="20" width="1.05" height="1.05" fill="#242424"/><rect x="16" y="20" width="1.05" height="1.05" fill="#1b1b1b"/><rect x="17" y="20" width="1.05" height="1.05" fill="#1a1a1a"/><rect x="18" y="20" width="1.05" height="1.05" fill="#1e1e1e"/><rect x="19" y="20" width="1.05" height="1.05" fill="#191919"/><rect x="20" y="20" width="1.05" height="1.05" fill="#151515"/><rect x="21" y="20" width="1.05" height="1.05" fill="#191919"/><rect x="22" y="20" width="1.05" height="1.05" fill="#171717"/><rect x="23" y="20" width="1.05" height="1.05" fill="#1f1f1f"/><rect x="0" y="21" width="1.05" height="1.05" fill="#171717"/><rect x="1" y="21" width="1.05" height="1.05" fill="#191919"/><rect x="2" y="21" width="1.05" height="1.05" fill="#131313"/><rect x="3" y="21" width="1.05" height="1.05" fill="#1a1a1a"/><rect x="4" y="21" width="1.05" height="1.05" fill="#222222"/><rect x="5" y="21" width="1.05" height="1.05" fill="#1c1c1c"/><rect x="6" y="21" width="1.05" height="1.05" fill="#1b1b1b"/><rect x="7" y="21" width="1.05" height="1.05" fill="#1f1f1f"/><rect x="8" y="21" width="1.05" height="1.05" fill="#1e1e1e"/><rect x="9" y="21" width="1.05" height="1.05" fill="#202020"/><rect x="10" y="21" width="1.05" height="1.05" fill="#282828"/><rect x="11" y="21" width="1.05" height="1.05" fill="#262626"/><rect x="12" y="21" width="1.05" height="1.05" fill="#252525"/><rect x="13" y="21" width="1.05" height="1.05" fill="#242424"/><rect x="14" y="21" width="1.05" height="1.05" fill="#1b1b1b"/><rect x="15" y="21" width="1.05" height="1.05" fill="#171717"/><rect x="16" y="21" width="1.05" height="1.05" fill="#1e1e1e"/><rect x="17" y="21" width="1.05" height="1.05" fill="#1c1c1c"/><rect x="18" y="21" width="1.05" height="1.05" fill="#1a1a1a"/><rect x="19" y="21" width="1.05" height="1.05" fill="#191919"/><rect x="20" y="21" width="1.05" height="1.05" fill="#1b1b1b"/><rect x="21" y="21" width="1.05" height="1.05" fill="#1b1b1b"/><rect x="22" y="21" width="1.05" height="1.05" fill="#1a1a1a"/><rect x="23" y="21" width="1.05" height="1.05" fill="#1b1b1b"/><rect x="0" y="22" width="1.05" height="1.05" fill="#1a1a1a"/><rect x="1" y="22" width="1.05" height="1.05" fill="#191919"/><rect x="2" y="22" width="1.05" height="1.05" fill="#1f1f1f"/><rect x="3" y="22" width="1.05" height="1.05" fill="#1a1a1a"/><rect x="4" y="22" width="1.05" height="1.05" fill="#212121"/><rect x="5" y="22" width="1.05" height="1.05" fill="#1e1e1e"/><rect x="6" y="22" width="1.05" height="1.05" fill="#1c1c1c"/><rect x="7" y="22" width="1.05" height="1.05" fill="#202020"/><rect x="8" y="22" width="1.05" height="1.05" fill="#1b1b1b"/><rect x="9" y="22" width="1.05" height="1.05" fill="#1d1d1d"/><rect x="10" y="22" width="1.05" height="1.05" fill="#1c1c1c"/><rect x="11" y="22" width="1.05" height="1.05" fill="#1e1e1e"/><rect x="12" y="22" width="1.05" height="1.05" fill="#1f1f1f"/><rect x="13" y="22" width="1.05" height="1.05" fill="#232323"/><rect x="14" y="22" width="1.05" height="1.05" fill="#1e1e1e"/><rect x="15" y="22" width="1.05" height="1.05" fill="#191919"/><rect x="16" y="22" width="1.05" height="1.05" fill="#191919"/><rect x="17" y="22" width="1.05" height="1.05" fill="#151515"/><rect x="18" y="22" width="1.05" height="1.05" fill="#1c1c1c"/><rect x="19" y="22" width="1.05" height="1.05" fill="#1c1c1c"/><rect x="20" y="22" width="1.05" height="1.05" fill="#1a1a1a"/><rect x="21" y="22" width="1.05" height="1.05" fill="#1a1a1a"/><rect x="22" y="22" width="1.05" height="1.05" fill="#1b1b1b"/><rect x="23" y="22" width="1.05" height="1.05" fill="#1b1b1b"/><rect x="0" y="23" width="1.05" height="1.05" fill="#1c1c1c"/><rect x="1" y="23" width="1.05" height="1.05" fill="#1b1b1b"/><rect x="2" y="23" width="1.05" height="1.05" fill="#171717"/><rect x="3" y="23" width="1.05" height="1.05" fill="#1d1d1d"/><rect x="4" y="23" width="1.05" height="1.05" fill="#1f1f1f"/><rect x="5" y="23" width="1.05" height="1.05" fill="#161616"/><rect x="6" y="23" width="1.05" height="1.05" fill="#1a1a1a"/><rect x="7" y="23" width="1.05" height="1.05" fill="#181818"/><rect x="8" y="23" width="1.05" height="1.05" fill="#1d1d1d"/><rect x="9" y="23" width="1.05" height="1.05" fill="#1b1b1b"/><rect x="10" y="23" width="1.05" height="1.05" fill="#202020"/><rect x="11" y="23" width="1.05" height="1.05" fill="#1f1f1f"/><rect x="12" y="23" width="1.05" height="1.05" fill="#1a1a1a"/><rect x="13" y="23" width="1.05" height="1.05" fill="#1a1a1a"/><rect x="14" y="23" width="1.05" height="1.05" fill="#191919"/><rect x="15" y="23" width="1.05" height="1.05" fill="#1d1d1d"/><rect x="16" y="23" width="1.05" height="1.05" fill="#181818"/><rect x="17" y="23" width="1.05" height="1.05" fill="#1c1c1c"/><rect x="18" y="23" width="1.05" height="1.05" fill="#161616"/><rect x="19" y="23" width="1.05" height="1.05" fill="#1d1d1d"/><rect x="20" y="23" width="1.05" height="1.05" fill="#1b1b1b"/><rect x="21" y="23" width="1.05" height="1.05" fill="#161616"/><rect x="22" y="23" width="1.05" height="1.05" fill="#171717"/><rect x="23" y="23" width="1.05" height="1.05" fill="#1a1a1a"/></g><g transform="translate(301.5,122.4) scale(3.9667,3.9125)" shape-rendering="crispEdges"><rect width="24" height="24" fill="#1c1c1c"/><rect x="0" y="0" width="1.05" height="1.05" fill="#1e1e1e"/><rect x="1" y="0" width="1.05" height="1.05" fill="#212121"/><rect x="2" y="0" width="1.05" height="1.05" fill="#1b1b1b"/><rect x="3" y="0" width="1.05" height="1.05" fill="#202020"/><rect x="4" y="0" width="1.05" height="1.05" fill="#1d1d1d"/><rect x="5" y="0" width="1.05" height="1.05" fill="#1d1d1d"/><rect x="6" y="0" width="1.05" height="1.05" fill="#232323"/><rect x="7" y="0" width="1.05" height="1.05" fill="#1e1e1e"/><rect x="8" y="0" width="1.05" height="1.05" fill="#1e1e1e"/><rect x="9" y="0" width="1.05" height="1.05" fill="#202020"/><rect x="10" y="0" width="1.05" height="1.05" fill="#212121"/><rect x="11" y="0" width="1.05" height="1.05" fill="#1e1e1e"/><rect x="12" y="0" width="1.05" height="1.05" fill="#1f1f1f"/><rect x="13" y="0" width="1.05" height="1.05" fill="#1b1b1b"/><rect x="14" y="0" width="1.05" height="1.05" fill="#1d1d1d"/><rect x="15" y="0" width="1.05" height="1.05" fill="#1c1c1c"/><rect x="16" y="0" width="1.05" height="1.05" fill="#1a1a1a"/><rect x="17" y="0" width="1.05" height="1.05" fill="#191919"/><rect x="18" y="0" width="1.05" height="1.05" fill="#191919"/><rect x="19" y="0" width="1.05" height="1.05" fill="#1c1c1c"/><rect x="20" y="0" width="1.05" height="1.05" fill="#1c1c1c"/><rect x="21" y="0" width="1.05" height="1.05" fill="#1c1c1c"/><rect x="22" y="0" width="1.05" height="1.05" fill="#1d1d1d"/><rect x="23" y="0" width="1.05" height="1.05" fill="#1a1a1a"/><rect x="0" y="1" width="1.05" height="1.05" fill="#1d1d1d"/><rect x="1" y="1" width="1.05" height="1.05" fill="#1e1e1e"/><rect x="2" y="1" width="1.05" height="1.05" fill="#1f1f1f"/><rect x="3" y="1" width="1.05" height="1.05" fill="#1b1b1b"/><rect x="4" y="1" width="1.05" height="1.05" fill="#1c1c1c"/><rect x="5" y="1" width="1.05" height="1.05" fill="#181818"/><rect x="6" y="1" width="1.05" height="1.05" fill="#1c1c1c"/><rect x="7" y="1" width="1.05" height="1.05" fill="#181818"/><rect x="8" y="1" width="1.05" height="1.05" fill="#1a1a1a"/><rect x="9" y="1" width="1.05" height="1.05" fill="#212121"/><rect x="10" y="1" width="1.05" height="1.05" fill="#191919"/><rect x="11" y="1" width="1.05" height="1.05" fill="#202020"/><rect x="12" y="1" width="1.05" height="1.05" fill="#1f1f1f"/><rect x="13" y="1" width="1.05" height="1.05" fill="#1d1d1d"/><rect x="14" y="1" width="1.05" height="1.05" fill="#1f1f1f"/><rect x="15" y="1" width="1.05" height="1.05" fill="#1f1f1f"/><rect x="16" y="1" width="1.05" height="1.05" fill="#202020"/><rect x="17" y="1" width="1.05" height="1.05" fill="#1c1c1c"/><rect x="18" y="1" width="1.05" height="1.05" fill="#1b1b1b"/><rect x="19" y="1" width="1.05" height="1.05" fill="#1b1b1b"/><rect x="20" y="1" width="1.05" height="1.05" fill="#1a1a1a"/><rect x="21" y="1" width="1.05" height="1.05" fill="#1c1c1c"/><rect x="22" y="1" width="1.05" height="1.05" fill="#1a1a1a"/><rect x="23" y="1" width="1.05" height="1.05" fill="#202020"/><rect x="0" y="2" width="1.05" height="1.05" fill="#181818"/><rect x="1" y="2" width="1.05" height="1.05" fill="#1a1a1a"/><rect x="2" y="2" width="1.05" height="1.05" fill="#1b1b1b"/><rect x="3" y="2" width="1.05" height="1.05" fill="#181818"/><rect x="4" y="2" width="1.05" height="1.05" fill="#232323"/><rect x="5" y="2" width="1.05" height="1.05" fill="#181818"/><rect x="6" y="2" width="1.05" height="1.05" fill="#1d1d1d"/><rect x="7" y="2" width="1.05" height="1.05" fill="#1d1d1d"/><rect x="8" y="2" width="1.05" height="1.05" fill="#232323"/><rect x="9" y="2" width="1.05" height="1.05" fill="#1a1a1a"/><rect x="10" y="2" width="1.05" height="1.05" fill="#222222"/><rect x="11" y="2" width="1.05" height="1.05" fill="#1d1d1d"/><rect x="12" y="2" width="1.05" height="1.05" fill="#1f1f1f"/><rect x="13" y="2" width="1.05" height="1.05" fill="#1d1d1d"/><rect x="14" y="2" width="1.05" height="1.05" fill="#202020"/><rect x="15" y="2" width="1.05" height="1.05" fill="#1b1b1b"/><rect x="16" y="2" width="1.05" height="1.05" fill="#1d1d1d"/><rect x="17" y="2" width="1.05" height="1.05" fill="#1e1e1e"/><rect x="18" y="2" width="1.05" height="1.05" fill="#212121"/><rect x="19" y="2" width="1.05" height="1.05" fill="#161616"/><rect x="20" y="2" width="1.05" height="1.05" fill="#202020"/><rect x="21" y="2" width="1.05" height="1.05" fill="#1e1e1e"/><rect x="22" y="2" width="1.05" height="1.05" fill="#1b1b1b"/><rect x="23" y="2" width="1.05" height="1.05" fill="#1d1d1d"/><rect x="0" y="3" width="1.05" height="1.05" fill="#1c1c1c"/><rect x="1" y="3" width="1.05" height="1.05" fill="#212121"/><rect x="2" y="3" width="1.05" height="1.05" fill="#1e1e1e"/><rect x="3" y="3" width="1.05" height="1.05" fill="#1d1d1d"/><rect x="4" y="3" width="1.05" height="1.05" fill="#1d1d1d"/><rect x="5" y="3" width="1.05" height="1.05" fill="#1e1e1e"/><rect x="6" y="3" width="1.05" height="1.05" fill="#1e1e1e"/><rect x="7" y="3" width="1.05" height="1.05" fill="#1d1d1d"/><rect x="8" y="3" width="1.05" height="1.05" fill="#252525"/><rect x="9" y="3" width="1.05" height="1.05" fill="#1b1b1b"/><rect x="10" y="3" width="1.05" height="1.05" fill="#171717"/><rect x="11" y="3" width="1.05" height="1.05" fill="#202020"/><rect x="12" y="3" width="1.05" height="1.05" fill="#202020"/><rect x="13" y="3" width="1.05" height="1.05" fill="#212121"/><rect x="14" y="3" width="1.05" height="1.05" fill="#1f1f1f"/><rect x="15" y="3" width="1.05" height="1.05" fill="#1e1e1e"/><rect x="16" y="3" width="1.05" height="1.05" fill="#1f1f1f"/><rect x="17" y="3" width="1.05" height="1.05" fill="#1f1f1f"/><rect x="18" y="3" width="1.05" height="1.05" fill="#1b1b1b"/><rect x="19" y="3" width="1.05" height="1.05" fill="#1a1a1a"/><rect x="20" y="3" width="1.05" height="1.05" fill="#202020"/><rect x="21" y="3" width="1.05" height="1.05" fill="#1c1c1c"/><rect x="22" y="3" width="1.05" height="1.05" fill="#191919"/><rect x="23" y="3" width="1.05" height="1.05" fill="#222222"/><rect x="0" y="4" width="1.05" height="1.05" fill="#1f1f1f"/><rect x="1" y="4" width="1.05" height="1.05" fill="#1c1c1c"/><rect x="2" y="4" width="1.05" height="1.05" fill="#1a1a1a"/><rect x="3" y="4" width="1.05" height="1.05" fill="#1f1f1f"/><rect x="4" y="4" width="1.05" height="1.05" fill="#1c1c1c"/><rect x="5" y="4" width="1.05" height="1.05" fill="#1c1c1c"/><rect x="6" y="4" width="1.05" height="1.05" fill="#1c1c1c"/><rect x="7" y="4" width="1.05" height="1.05" fill="#202020"/><rect x="8" y="4" width="1.05" height="1.05" fill="#252525"/><rect x="9" y="4" width="1.05" height="1.05" fill="#212121"/><rect x="10" y="4" width="1.05" height="1.05" fill="#1f1f1f"/><rect x="11" y="4" width="1.05" height="1.05" fill="#252525"/><rect x="12" y="4" width="1.05" height="1.05" fill="#232323"/><rect x="13" y="4" width="1.05" height="1.05" fill="#242424"/><rect x="14" y="4" width="1.05" height="1.05" fill="#242424"/><rect x="15" y="4" width="1.05" height="1.05" fill="#1f1f1f"/><rect x="16" y="4" width="1.05" height="1.05" fill="#1e1e1e"/><rect x="17" y="4" width="1.05" height="1.05" fill="#1d1d1d"/><rect x="18" y="4" width="1.05" height="1.05" fill="#191919"/><rect x="19" y="4" width="1.05" height="1.05" fill="#1d1d1d"/><rect x="20" y="4" width="1.05" height="1.05" fill="#1e1e1e"/><rect x="21" y="4" width="1.05" height="1.05" fill="#1b1b1b"/><rect x="22" y="4" width="1.05" height="1.05" fill="#1a1a1a"/><rect x="23" y="4" width="1.05" height="1.05" fill="#1b1b1b"/><rect x="0" y="5" width="1.05" height="1.05" fill="#1b1b1b"/><rect x="1" y="5" width="1.05" height="1.05" fill="#1b1b1b"/><rect x="2" y="5" width="1.05" height="1.05" fill="#1d1d1d"/><rect x="3" y="5" width="1.05" height="1.05" fill="#1c1c1c"/><rect x="4" y="5" width="1.05" height="1.05" fill="#1e1e1e"/><rect x="5" y="5" width="1.05" height="1.05" fill="#1c1c1c"/><rect x="6" y="5" width="1.05" height="1.05" fill="#232323"/><rect x="7" y="5" width="1.05" height="1.05" fill="#232323"/><rect x="8" y="5" width="1.05" height="1.05" fill="#222222"/><rect x="9" y="5" width="1.05" height="1.05" fill="#202020"/><rect x="10" y="5" width="1.05" height="1.05" fill="#272727"/><rect x="11" y="5" width="1.05" height="1.05" fill="#2a2a2a"/><rect x="12" y="5" width="1.05" height="1.05" fill="#252525"/><rect x="13" y="5" width="1.05" height="1.05" fill="#242424"/><rect x="14" y="5" width="1.05" height="1.05" fill="#222222"/><rect x="15" y="5" width="1.05" height="1.05" fill="#232323"/><rect x="16" y="5" width="1.05" height="1.05" fill="#1d1d1d"/><rect x="17" y="5" width="1.05" height="1.05" fill="#202020"/><rect x="18" y="5" width="1.05" height="1.05" fill="#1b1b1b"/><rect x="19" y="5" width="1.05" height="1.05" fill="#1d1d1d"/><rect x="20" y="5" width="1.05" height="1.05" fill="#1a1a1a"/><rect x="21" y="5" width="1.05" height="1.05" fill="#191919"/><rect x="22" y="5" width="1.05" height="1.05" fill="#161616"/><rect x="23" y="5" width="1.05" height="1.05" fill="#191919"/><rect x="0" y="6" width="1.05" height="1.05" fill="#1c1c1c"/><rect x="1" y="6" width="1.05" height="1.05" fill="#1f1f1f"/><rect x="2" y="6" width="1.05" height="1.05" fill="#1f1f1f"/><rect x="3" y="6" width="1.05" height="1.05" fill="#1d1d1d"/><rect x="4" y="6" width="1.05" height="1.05" fill="#212121"/><rect x="5" y="6" width="1.05" height="1.05" fill="#252525"/><rect x="6" y="6" width="1.05" height="1.05" fill="#242424"/><rect x="7" y="6" width="1.05" height="1.05" fill="#252525"/><rect x="8" y="6" width="1.05" height="1.05" fill="#282828"/><rect x="9" y="6" width="1.05" height="1.05" fill="#2d2d2d"/><rect x="10" y="6" width="1.05" height="1.05" fill="#2e2e2e"/><rect x="11" y="6" width="1.05" height="1.05" fill="#2a2a2a"/><rect x="12" y="6" width="1.05" height="1.05" fill="#2c2c2c"/><rect x="13" y="6" width="1.05" height="1.05" fill="#282828"/><rect x="14" y="6" width="1.05" height="1.05" fill="#252525"/><rect x="15" y="6" width="1.05" height="1.05" fill="#272727"/><rect x="16" y="6" width="1.05" height="1.05" fill="#232323"/><rect x="17" y="6" width="1.05" height="1.05" fill="#1d1d1d"/><rect x="18" y="6" width="1.05" height="1.05" fill="#1c1c1c"/><rect x="19" y="6" width="1.05" height="1.05" fill="#1b1b1b"/><rect x="20" y="6" width="1.05" height="1.05" fill="#171717"/><rect x="21" y="6" width="1.05" height="1.05" fill="#181818"/><rect x="22" y="6" width="1.05" height="1.05" fill="#1b1b1b"/><rect x="23" y="6" width="1.05" height="1.05" fill="#161616"/><rect x="0" y="7" width="1.05" height="1.05" fill="#1e1e1e"/><rect x="1" y="7" width="1.05" height="1.05" fill="#202020"/><rect x="2" y="7" width="1.05" height="1.05" fill="#202020"/><rect x="3" y="7" width="1.05" height="1.05" fill="#1c1c1c"/><rect x="4" y="7" width="1.05" height="1.05" fill="#232323"/><rect x="5" y="7" width="1.05" height="1.05" fill="#222222"/><rect x="6" y="7" width="1.05" height="1.05" fill="#292929"/><rect x="7" y="7" width="1.05" height="1.05" fill="#2d2d2d"/><rect x="8" y="7" width="1.05" height="1.05" fill="#2f2f2f"/><rect x="9" y="7" width="1.05" height="1.05" fill="#2f2f2f"/><rect x="10" y="7" width="1.05" height="1.05" fill="#313131"/><rect x="11" y="7" width="1.05" height="1.05" fill="#353535"/><rect x="12" y="7" width="1.05" height="1.05" fill="#2f2f2f"/><rect x="13" y="7" width="1.05" height="1.05" fill="#303030"/><rect x="14" y="7" width="1.05" height="1.05" fill="#2d2d2d"/><rect x="15" y="7" width="1.05" height="1.05" fill="#272727"/><rect x="16" y="7" width="1.05" height="1.05" fill="#2a2a2a"/><rect x="17" y="7" width="1.05" height="1.05" fill="#202020"/><rect x="18" y="7" width="1.05" height="1.05" fill="#222222"/><rect x="19" y="7" width="1.05" height="1.05" fill="#141414"/><rect x="20" y="7" width="1.05" height="1.05" fill="#121212"/><rect x="21" y="7" width="1.05" height="1.05" fill="#1a1a1a"/><rect x="22" y="7" width="1.05" height="1.05" fill="#1a1a1a"/><rect x="23" y="7" width="1.05" height="1.05" fill="#191919"/><rect x="0" y="8" width="1.05" height="1.05" fill="#1d1d1d"/><rect x="1" y="8" width="1.05" height="1.05" fill="#191919"/><rect x="2" y="8" width="1.05" height="1.05" fill="#1e1e1e"/><rect x="3" y="8" width="1.05" height="1.05" fill="#1e1e1e"/><rect x="4" y="8" width="1.05" height="1.05" fill="#232323"/><rect x="5" y="8" width="1.05" height="1.05" fill="#292929"/><rect x="6" y="8" width="1.05" height="1.05" fill="#2c2c2c"/><rect x="7" y="8" width="1.05" height="1.05" fill="#313131"/><rect x="8" y="8" width="1.05" height="1.05" fill="#333333"/><rect x="9" y="8" width="1.05" height="1.05" fill="#373737"/><rect x="10" y="8" width="1.05" height="1.05" fill="#3b3b3b"/><rect x="11" y="8" width="1.05" height="1.05" fill="#3a3a3a"/><rect x="12" y="8" width="1.05" height="1.05" fill="#3c3c3c"/><rect x="13" y="8" width="1.05" height="1.05" fill="#333333"/><rect x="14" y="8" width="1.05" height="1.05" fill="#363636"/><rect x="15" y="8" width="1.05" height="1.05" fill="#292929"/><rect x="16" y="8" width="1.05" height="1.05" fill="#292929"/><rect x="17" y="8" width="1.05" height="1.05" fill="#1f1f1f"/><rect x="18" y="8" width="1.05" height="1.05" fill="#212121"/><rect x="19" y="8" width="1.05" height="1.05" fill="#1a1a1a"/><rect x="20" y="8" width="1.05" height="1.05" fill="#181818"/><rect x="21" y="8" width="1.05" height="1.05" fill="#191919"/><rect x="22" y="8" width="1.05" height="1.05" fill="#161616"/><rect x="23" y="8" width="1.05" height="1.05" fill="#171717"/><rect x="0" y="9" width="1.05" height="1.05" fill="#181818"/><rect x="1" y="9" width="1.05" height="1.05" fill="#222222"/><rect x="2" y="9" width="1.05" height="1.05" fill="#1f1f1f"/><rect x="3" y="9" width="1.05" height="1.05" fill="#212121"/><rect x="4" y="9" width="1.05" height="1.05" fill="#262626"/><rect x="5" y="9" width="1.05" height="1.05" fill="#303030"/><rect x="6" y="9" width="1.05" height="1.05" fill="#2b2b2b"/><rect x="7" y="9" width="1.05" height="1.05" fill="#363636"/><rect x="8" y="9" width="1.05" height="1.05" fill="#3a3a3a"/><rect x="9" y="9" width="1.05" height="1.05" fill="#414141"/><rect x="10" y="9" width="1.05" height="1.05" fill="#3e3e3e"/><rect x="11" y="9" width="1.05" height="1.05" fill="#424242"/><rect x="12" y="9" width="1.05" height="1.05" fill="#434343"/><rect x="13" y="9" width="1.05" height="1.05" fill="#404040"/><rect x="14" y="9" width="1.05" height="1.05" fill="#3a3a3a"/><rect x="15" y="9" width="1.05" height="1.05" fill="#2d2d2d"/><rect x="16" y="9" width="1.05" height="1.05" fill="#292929"/><rect x="17" y="9" width="1.05" height="1.05" fill="#222222"/><rect x="18" y="9" width="1.05" height="1.05" fill="#191919"/><rect x="19" y="9" width="1.05" height="1.05" fill="#151515"/><rect x="20" y="9" width="1.05" height="1.05" fill="#191919"/><rect x="21" y="9" width="1.05" height="1.05" fill="#171717"/><rect x="22" y="9" width="1.05" height="1.05" fill="#171717"/><rect x="23" y="9" width="1.05" height="1.05" fill="#1c1c1c"/><rect x="0" y="10" width="1.05" height="1.05" fill="#1c1c1c"/><rect x="1" y="10" width="1.05" height="1.05" fill="#212121"/><rect x="2" y="10" width="1.05" height="1.05" fill="#222222"/><rect x="3" y="10" width="1.05" height="1.05" fill="#242424"/><rect x="4" y="10" width="1.05" height="1.05" fill="#2a2a2a"/><rect x="5" y="10" width="1.05" height="1.05" fill="#2e2e2e"/><rect x="6" y="10" width="1.05" height="1.05" fill="#353535"/><rect x="7" y="10" width="1.05" height="1.05" fill="#3b3b3b"/><rect x="8" y="10" width="1.05" height="1.05" fill="#464646"/><rect x="9" y="10" width="1.05" height="1.05" fill="#464646"/><rect x="10" y="10" width="1.05" height="1.05" fill="#4d4d4d"/><rect x="11" y="10" width="1.05" height="1.05" fill="#4c4c4c"/><rect x="12" y="10" width="1.05" height="1.05" fill="#474747"/><rect x="13" y="10" width="1.05" height="1.05" fill="#444444"/><rect x="14" y="10" width="1.05" height="1.05" fill="#393939"/><rect x="15" y="10" width="1.05" height="1.05" fill="#363636"/><rect x="16" y="10" width="1.05" height="1.05" fill="#292929"/><rect x="17" y="10" width="1.05" height="1.05" fill="#222222"/><rect x="18" y="10" width="1.05" height="1.05" fill="#1e1e1e"/><rect x="19" y="10" width="1.05" height="1.05" fill="#1b1b1b"/><rect x="20" y="10" width="1.05" height="1.05" fill="#191919"/><rect x="21" y="10" width="1.05" height="1.05" fill="#181818"/><rect x="22" y="10" width="1.05" height="1.05" fill="#161616"/><rect x="23" y="10" width="1.05" height="1.05" fill="#161616"/><rect x="0" y="11" width="1.05" height="1.05" fill="#202020"/><rect x="1" y="11" width="1.05" height="1.05" fill="#212121"/><rect x="2" y="11" width="1.05" height="1.05" fill="#202020"/><rect x="3" y="11" width="1.05" height="1.05" fill="#292929"/><rect x="4" y="11" width="1.05" height="1.05" fill="#2b2b2b"/><rect x="5" y="11" width="1.05" height="1.05" fill="#2e2e2e"/><rect x="6" y="11" width="1.05" height="1.05" fill="#383838"/><rect x="7" y="11" width="1.05" height="1.05" fill="#3b3b3b"/><rect x="8" y="11" width="1.05" height="1.05" fill="#444444"/><rect x="9" y="11" width="1.05" height="1.05" fill="#4d4d4d"/><rect x="10" y="11" width="1.05" height="1.05" fill="#4c4c4c"/><rect x="11" y="11" width="1.05" height="1.05" fill="#505050"/><rect x="12" y="11" width="1.05" height="1.05" fill="#494949"/><rect x="13" y="11" width="1.05" height="1.05" fill="#484848"/><rect x="14" y="11" width="1.05" height="1.05" fill="#3c3c3c"/><rect x="15" y="11" width="1.05" height="1.05" fill="#363636"/><rect x="16" y="11" width="1.05" height="1.05" fill="#292929"/><rect x="17" y="11" width="1.05" height="1.05" fill="#242424"/><rect x="18" y="11" width="1.05" height="1.05" fill="#212121"/><rect x="19" y="11" width="1.05" height="1.05" fill="#1a1a1a"/><rect x="20" y="11" width="1.05" height="1.05" fill="#121212"/><rect x="21" y="11" width="1.05" height="1.05" fill="#181818"/><rect x="22" y="11" width="1.05" height="1.05" fill="#191919"/><rect x="23" y="11" width="1.05" height="1.05" fill="#171717"/><rect x="0" y="12" width="1.05" height="1.05" fill="#232323"/><rect x="1" y="12" width="1.05" height="1.05" fill="#1e1e1e"/><rect x="2" y="12" width="1.05" height="1.05" fill="#232323"/><rect x="3" y="12" width="1.05" height="1.05" fill="#2a2a2a"/><rect x="4" y="12" width="1.05" height="1.05" fill="#303030"/><rect x="5" y="12" width="1.05" height="1.05" fill="#363636"/><rect x="6" y="12" width="1.05" height="1.05" fill="#363636"/><rect x="7" y="12" width="1.05" height="1.05" fill="#3c3c3c"/><rect x="8" y="12" width="1.05" height="1.05" fill="#494949"/><rect x="9" y="12" width="1.05" height="1.05" fill="#4b4b4b"/><rect x="10" y="12" width="1.05" height="1.05" fill="#525252"/><rect x="11" y="12" width="1.05" height="1.05" fill="#4f4f4f"/><rect x="12" y="12" width="1.05" height="1.05" fill="#515151"/><rect x="13" y="12" width="1.05" height="1.05" fill="#4a4a4a"/><rect x="14" y="12" width="1.05" height="1.05" fill="#414141"/><rect x="15" y="12" width="1.05" height="1.05" fill="#363636"/><rect x="16" y="12" width="1.05" height="1.05" fill="#2e2e2e"/><rect x="17" y="12" width="1.05" height="1.05" fill="#242424"/><rect x="18" y="12" width="1.05" height="1.05" fill="#1f1f1f"/><rect x="19" y="12" width="1.05" height="1.05" fill="#1a1a1a"/><rect x="20" y="12" width="1.05" height="1.05" fill="#171717"/><rect x="21" y="12" width="1.05" height="1.05" fill="#141414"/><rect x="22" y="12" width="1.05" height="1.05" fill="#1b1b1b"/><rect x="23" y="12" width="1.05" height="1.05" fill="#191919"/><rect x="0" y="13" width="1.05" height="1.05" fill="#232323"/><rect x="1" y="13" width="1.05" height="1.05" fill="#252525"/><rect x="2" y="13" width="1.05" height="1.05" fill="#222222"/><rect x="3" y="13" width="1.05" height="1.05" fill="#242424"/><rect x="4" y="13" width="1.05" height="1.05" fill="#303030"/><rect x="5" y="13" width="1.05" height="1.05" fill="#323232"/><rect x="6" y="13" width="1.05" height="1.05" fill="#3a3a3a"/><rect x="7" y="13" width="1.05" height="1.05" fill="#404040"/><rect x="8" y="13" width="1.05" height="1.05" fill="#484848"/><rect x="9" y="13" width="1.05" height="1.05" fill="#4b4b4b"/><rect x="10" y="13" width="1.05" height="1.05" fill="#515151"/><rect x="11" y="13" width="1.05" height="1.05" fill="#505050"/><rect x="12" y="13" width="1.05" height="1.05" fill="#4e4e4e"/><rect x="13" y="13" width="1.05" height="1.05" fill="#414141"/><rect x="14" y="13" width="1.05" height="1.05" fill="#414141"/><rect x="15" y="13" width="1.05" height="1.05" fill="#373737"/><rect x="16" y="13" width="1.05" height="1.05" fill="#282828"/><rect x="17" y="13" width="1.05" height="1.05" fill="#232323"/><rect x="18" y="13" width="1.05" height="1.05" fill="#1e1e1e"/><rect x="19" y="13" width="1.05" height="1.05" fill="#1b1b1b"/><rect x="20" y="13" width="1.05" height="1.05" fill="#161616"/><rect x="21" y="13" width="1.05" height="1.05" fill="#191919"/><rect x="22" y="13" width="1.05" height="1.05" fill="#171717"/><rect x="23" y="13" width="1.05" height="1.05" fill="#161616"/><rect x="0" y="14" width="1.05" height="1.05" fill="#1d1d1d"/><rect x="1" y="14" width="1.05" height="1.05" fill="#232323"/><rect x="2" y="14" width="1.05" height="1.05" fill="#232323"/><rect x="3" y="14" width="1.05" height="1.05" fill="#2a2a2a"/><rect x="4" y="14" width="1.05" height="1.05" fill="#2f2f2f"/><rect x="5" y="14" width="1.05" height="1.05" fill="#333333"/><rect x="6" y="14" width="1.05" height="1.05" fill="#3b3b3b"/><rect x="7" y="14" width="1.05" height="1.05" fill="#3e3e3e"/><rect x="8" y="14" width="1.05" height="1.05" fill="#454545"/><rect x="9" y="14" width="1.05" height="1.05" fill="#494949"/><rect x="10" y="14" width="1.05" height="1.05" fill="#4b4b4b"/><rect x="11" y="14" width="1.05" height="1.05" fill="#494949"/><rect x="12" y="14" width="1.05" height="1.05" fill="#484848"/><rect x="13" y="14" width="1.05" height="1.05" fill="#414141"/><rect x="14" y="14" width="1.05" height="1.05" fill="#383838"/><rect x="15" y="14" width="1.05" height="1.05" fill="#343434"/><rect x="16" y="14" width="1.05" height="1.05" fill="#2d2d2d"/><rect x="17" y="14" width="1.05" height="1.05" fill="#232323"/><rect x="18" y="14" width="1.05" height="1.05" fill="#212121"/><rect x="19" y="14" width="1.05" height="1.05" fill="#1c1c1c"/><rect x="20" y="14" width="1.05" height="1.05" fill="#191919"/><rect x="21" y="14" width="1.05" height="1.05" fill="#141414"/><rect x="22" y="14" width="1.05" height="1.05" fill="#131313"/><rect x="23" y="14" width="1.05" height="1.05" fill="#1a1a1a"/><rect x="0" y="15" width="1.05" height="1.05" fill="#202020"/><rect x="1" y="15" width="1.05" height="1.05" fill="#232323"/><rect x="2" y="15" width="1.05" height="1.05" fill="#252525"/><rect x="3" y="15" width="1.05" height="1.05" fill="#2a2a2a"/><rect x="4" y="15" width="1.05" height="1.05" fill="#2a2a2a"/><rect x="5" y="15" width="1.05" height="1.05" fill="#313131"/><rect x="6" y="15" width="1.05" height="1.05" fill="#323232"/><rect x="7" y="15" width="1.05" height="1.05" fill="#343434"/><rect x="8" y="15" width="1.05" height="1.05" fill="#3e3e3e"/><rect x="9" y="15" width="1.05" height="1.05" fill="#484848"/><rect x="10" y="15" width="1.05" height="1.05" fill="#424242"/><rect x="11" y="15" width="1.05" height="1.05" fill="#494949"/><rect x="12" y="15" width="1.05" height="1.05" fill="#424242"/><rect x="13" y="15" width="1.05" height="1.05" fill="#3d3d3d"/><rect x="14" y="15" width="1.05" height="1.05" fill="#383838"/><rect x="15" y="15" width="1.05" height="1.05" fill="#313131"/><rect x="16" y="15" width="1.05" height="1.05" fill="#272727"/><rect x="17" y="15" width="1.05" height="1.05" fill="#232323"/><rect x="18" y="15" width="1.05" height="1.05" fill="#1e1e1e"/><rect x="19" y="15" width="1.05" height="1.05" fill="#1b1b1b"/><rect x="20" y="15" width="1.05" height="1.05" fill="#151515"/><rect x="21" y="15" width="1.05" height="1.05" fill="#1a1a1a"/><rect x="22" y="15" width="1.05" height="1.05" fill="#1c1c1c"/><rect x="23" y="15" width="1.05" height="1.05" fill="#1f1f1f"/><rect x="0" y="16" width="1.05" height="1.05" fill="#1b1b1b"/><rect x="1" y="16" width="1.05" height="1.05" fill="#212121"/><rect x="2" y="16" width="1.05" height="1.05" fill="#1e1e1e"/><rect x="3" y="16" width="1.05" height="1.05" fill="#262626"/><rect x="4" y="16" width="1.05" height="1.05" fill="#2a2a2a"/><rect x="5" y="16" width="1.05" height="1.05" fill="#292929"/><rect x="6" y="16" width="1.05" height="1.05" fill="#2c2c2c"/><rect x="7" y="16" width="1.05" height="1.05" fill="#353535"/><rect x="8" y="16" width="1.05" height="1.05" fill="#3b3b3b"/><rect x="9" y="16" width="1.05" height="1.05" fill="#3a3a3a"/><rect x="10" y="16" width="1.05" height="1.05" fill="#3e3e3e"/><rect x="11" y="16" width="1.05" height="1.05" fill="#383838"/><rect x="12" y="16" width="1.05" height="1.05" fill="#3a3a3a"/><rect x="13" y="16" width="1.05" height="1.05" fill="#383838"/><rect x="14" y="16" width="1.05" height="1.05" fill="#333333"/><rect x="15" y="16" width="1.05" height="1.05" fill="#303030"/><rect x="16" y="16" width="1.05" height="1.05" fill="#232323"/><rect x="17" y="16" width="1.05" height="1.05" fill="#1b1b1b"/><rect x="18" y="16" width="1.05" height="1.05" fill="#1e1e1e"/><rect x="19" y="16" width="1.05" height="1.05" fill="#181818"/><rect x="20" y="16" width="1.05" height="1.05" fill="#181818"/><rect x="21" y="16" width="1.05" height="1.05" fill="#191919"/><rect x="22" y="16" width="1.05" height="1.05" fill="#191919"/><rect x="23" y="16" width="1.05" height="1.05" fill="#1d1d1d"/><rect x="0" y="17" width="1.05" height="1.05" fill="#212121"/><rect x="1" y="17" width="1.05" height="1.05" fill="#1b1b1b"/><rect x="2" y="17" width="1.05" height="1.05" fill="#212121"/><rect x="3" y="17" width="1.05" height="1.05" fill="#282828"/><rect x="4" y="17" width="1.05" height="1.05" fill="#252525"/><rect x="5" y="17" width="1.05" height="1.05" fill="#2b2b2b"/><rect x="6" y="17" width="1.05" height="1.05" fill="#2c2c2c"/><rect x="7" y="17" width="1.05" height="1.05" fill="#2e2e2e"/><rect x="8" y="17" width="1.05" height="1.05" fill="#363636"/><rect x="9" y="17" width="1.05" height="1.05" fill="#373737"/><rect x="10" y="17" width="1.05" height="1.05" fill="#353535"/><rect x="11" y="17" width="1.05" height="1.05" fill="#383838"/><rect x="12" y="17" width="1.05" height="1.05" fill="#313131"/><rect x="13" y="17" width="1.05" height="1.05" fill="#2f2f2f"/><rect x="14" y="17" width="1.05" height="1.05" fill="#2f2f2f"/><rect x="15" y="17" width="1.05" height="1.05" fill="#282828"/><rect x="16" y="17" width="1.05" height="1.05" fill="#212121"/><rect x="17" y="17" width="1.05" height="1.05" fill="#212121"/><rect x="18" y="17" width="1.05" height="1.05" fill="#1d1d1d"/><rect x="19" y="17" width="1.05" height="1.05" fill="#1d1d1d"/><rect x="20" y="17" width="1.05" height="1.05" fill="#1a1a1a"/><rect x="21" y="17" width="1.05" height="1.05" fill="#171717"/><rect x="22" y="17" width="1.05" height="1.05" fill="#171717"/><rect x="23" y="17" width="1.05" height="1.05" fill="#191919"/><rect x="0" y="18" width="1.05" height="1.05" fill="#1c1c1c"/><rect x="1" y="18" width="1.05" height="1.05" fill="#222222"/><rect x="2" y="18" width="1.05" height="1.05" fill="#242424"/><rect x="3" y="18" width="1.05" height="1.05" fill="#252525"/><rect x="4" y="18" width="1.05" height="1.05" fill="#242424"/><rect x="5" y="18" width="1.05" height="1.05" fill="#242424"/><rect x="6" y="18" width="1.05" height="1.05" fill="#292929"/><rect x="7" y="18" width="1.05" height="1.05" fill="#282828"/><rect x="8" y="18" width="1.05" height="1.05" fill="#2c2c2c"/><rect x="9" y="18" width="1.05" height="1.05" fill="#292929"/><rect x="10" y="18" width="1.05" height="1.05" fill="#2d2d2d"/><rect x="11" y="18" width="1.05" height="1.05" fill="#323232"/><rect x="12" y="18" width="1.05" height="1.05" fill="#2a2a2a"/><rect x="13" y="18" width="1.05" height="1.05" fill="#272727"/><rect x="14" y="18" width="1.05" height="1.05" fill="#272727"/><rect x="15" y="18" width="1.05" height="1.05" fill="#292929"/><rect x="16" y="18" width="1.05" height="1.05" fill="#252525"/><rect x="17" y="18" width="1.05" height="1.05" fill="#1d1d1d"/><rect x="18" y="18" width="1.05" height="1.05" fill="#1a1a1a"/><rect x="19" y="18" width="1.05" height="1.05" fill="#191919"/><rect x="20" y="18" width="1.05" height="1.05" fill="#161616"/><rect x="21" y="18" width="1.05" height="1.05" fill="#181818"/><rect x="22" y="18" width="1.05" height="1.05" fill="#181818"/><rect x="23" y="18" width="1.05" height="1.05" fill="#161616"/><rect x="0" y="19" width="1.05" height="1.05" fill="#1b1b1b"/><rect x="1" y="19" width="1.05" height="1.05" fill="#1c1c1c"/><rect x="2" y="19" width="1.05" height="1.05" fill="#1c1c1c"/><rect x="3" y="19" width="1.05" height="1.05" fill="#1c1c1c"/><rect x="4" y="19" width="1.05" height="1.05" fill="#232323"/><rect x="5" y="19" width="1.05" height="1.05" fill="#272727"/><rect x="6" y="19" width="1.05" height="1.05" fill="#222222"/><rect x="7" y="19" width="1.05" height="1.05" fill="#242424"/><rect x="8" y="19" width="1.05" height="1.05" fill="#272727"/><rect x="9" y="19" width="1.05" height="1.05" fill="#272727"/><rect x="10" y="19" width="1.05" height="1.05" fill="#262626"/><rect x="11" y="19" width="1.05" height="1.05" fill="#2b2b2b"/><rect x="12" y="19" width="1.05" height="1.05" fill="#242424"/><rect x="13" y="19" width="1.05" height="1.05" fill="#232323"/><rect x="14" y="19" width="1.05" height="1.05" fill="#222222"/><rect x="15" y="19" width="1.05" height="1.05" fill="#1f1f1f"/><rect x="16" y="19" width="1.05" height="1.05" fill="#1e1e1e"/><rect x="17" y="19" width="1.05" height="1.05" fill="#1e1e1e"/><rect x="18" y="19" width="1.05" height="1.05" fill="#1f1f1f"/><rect x="19" y="19" width="1.05" height="1.05" fill="#1b1b1b"/><rect x="20" y="19" width="1.05" height="1.05" fill="#191919"/><rect x="21" y="19" width="1.05" height="1.05" fill="#151515"/><rect x="22" y="19" width="1.05" height="1.05" fill="#191919"/><rect x="23" y="19" width="1.05" height="1.05" fill="#171717"/><rect x="0" y="20" width="1.05" height="1.05" fill="#1b1b1b"/><rect x="1" y="20" width="1.05" height="1.05" fill="#1f1f1f"/><rect x="2" y="20" width="1.05" height="1.05" fill="#1d1d1d"/><rect x="3" y="20" width="1.05" height="1.05" fill="#1d1d1d"/><rect x="4" y="20" width="1.05" height="1.05" fill="#1c1c1c"/><rect x="5" y="20" width="1.05" height="1.05" fill="#1f1f1f"/><rect x="6" y="20" width="1.05" height="1.05" fill="#202020"/><rect x="7" y="20" width="1.05" height="1.05" fill="#1f1f1f"/><rect x="8" y="20" width="1.05" height="1.05" fill="#212121"/><rect x="9" y="20" width="1.05" height="1.05" fill="#252525"/><rect x="10" y="20" width="1.05" height="1.05" fill="#1f1f1f"/><rect x="11" y="20" width="1.05" height="1.05" fill="#222222"/><rect x="12" y="20" width="1.05" height="1.05" fill="#1f1f1f"/><rect x="13" y="20" width="1.05" height="1.05" fill="#252525"/><rect x="14" y="20" width="1.05" height="1.05" fill="#222222"/><rect x="15" y="20" width="1.05" height="1.05" fill="#202020"/><rect x="16" y="20" width="1.05" height="1.05" fill="#1e1e1e"/><rect x="17" y="20" width="1.05" height="1.05" fill="#1d1d1d"/><rect x="18" y="20" width="1.05" height="1.05" fill="#1b1b1b"/><rect x="19" y="20" width="1.05" height="1.05" fill="#151515"/><rect x="20" y="20" width="1.05" height="1.05" fill="#1a1a1a"/><rect x="21" y="20" width="1.05" height="1.05" fill="#1b1b1b"/><rect x="22" y="20" width="1.05" height="1.05" fill="#161616"/><rect x="23" y="20" width="1.05" height="1.05" fill="#1c1c1c"/><rect x="0" y="21" width="1.05" height="1.05" fill="#1d1d1d"/><rect x="1" y="21" width="1.05" height="1.05" fill="#181818"/><rect x="2" y="21" width="1.05" height="1.05" fill="#1b1b1b"/><rect x="3" y="21" width="1.05" height="1.05" fill="#1b1b1b"/><rect x="4" y="21" width="1.05" height="1.05" fill="#1b1b1b"/><rect x="5" y="21" width="1.05" height="1.05" fill="#1e1e1e"/><rect x="6" y="21" width="1.05" height="1.05" fill="#1a1a1a"/><rect x="7" y="21" width="1.05" height="1.05" fill="#1e1e1e"/><rect x="8" y="21" width="1.05" height="1.05" fill="#1f1f1f"/><rect x="9" y="21" width="1.05" height="1.05" fill="#212121"/><rect x="10" y="21" width="1.05" height="1.05" fill="#202020"/><rect x="11" y="21" width="1.05" height="1.05" fill="#1f1f1f"/><rect x="12" y="21" width="1.05" height="1.05" fill="#212121"/><rect x="13" y="21" width="1.05" height="1.05" fill="#191919"/><rect x="14" y="21" width="1.05" height="1.05" fill="#202020"/><rect x="15" y="21" width="1.05" height="1.05" fill="#1c1c1c"/><rect x="16" y="21" width="1.05" height="1.05" fill="#191919"/><rect x="17" y="21" width="1.05" height="1.05" fill="#1a1a1a"/><rect x="18" y="21" width="1.05" height="1.05" fill="#161616"/><rect x="19" y="21" width="1.05" height="1.05" fill="#141414"/><rect x="20" y="21" width="1.05" height="1.05" fill="#191919"/><rect x="21" y="21" width="1.05" height="1.05" fill="#171717"/><rect x="22" y="21" width="1.05" height="1.05" fill="#1c1c1c"/><rect x="23" y="21" width="1.05" height="1.05" fill="#181818"/><rect x="0" y="22" width="1.05" height="1.05" fill="#181818"/><rect x="1" y="22" width="1.05" height="1.05" fill="#191919"/><rect x="2" y="22" width="1.05" height="1.05" fill="#202020"/><rect x="3" y="22" width="1.05" height="1.05" fill="#1c1c1c"/><rect x="4" y="22" width="1.05" height="1.05" fill="#1a1a1a"/><rect x="5" y="22" width="1.05" height="1.05" fill="#191919"/><rect x="6" y="22" width="1.05" height="1.05" fill="#191919"/><rect x="7" y="22" width="1.05" height="1.05" fill="#1c1c1c"/><rect x="8" y="22" width="1.05" height="1.05" fill="#1e1e1e"/><rect x="9" y="22" width="1.05" height="1.05" fill="#202020"/><rect x="10" y="22" width="1.05" height="1.05" fill="#202020"/><rect x="11" y="22" width="1.05" height="1.05" fill="#1e1e1e"/><rect x="12" y="22" width="1.05" height="1.05" fill="#1b1b1b"/><rect x="13" y="22" width="1.05" height="1.05" fill="#1b1b1b"/><rect x="14" y="22" width="1.05" height="1.05" fill="#161616"/><rect x="15" y="22" width="1.05" height="1.05" fill="#191919"/><rect x="16" y="22" width="1.05" height="1.05" fill="#1c1c1c"/><rect x="17" y="22" width="1.05" height="1.05" fill="#1a1a1a"/><rect x="18" y="22" width="1.05" height="1.05" fill="#1b1b1b"/><rect x="19" y="22" width="1.05" height="1.05" fill="#161616"/><rect x="20" y="22" width="1.05" height="1.05" fill="#1c1c1c"/><rect x="21" y="22" width="1.05" height="1.05" fill="#1a1a1a"/><rect x="22" y="22" width="1.05" height="1.05" fill="#1a1a1a"/><rect x="23" y="22" width="1.05" height="1.05" fill="#1b1b1b"/><rect x="0" y="23" width="1.05" height="1.05" fill="#151515"/><rect x="1" y="23" width="1.05" height="1.05" fill="#191919"/><rect x="2" y="23" width="1.05" height="1.05" fill="#191919"/><rect x="3" y="23" width="1.05" height="1.05" fill="#202020"/><rect x="4" y="23" width="1.05" height="1.05" fill="#1b1b1b"/><rect x="5" y="23" width="1.05" height="1.05" fill="#1a1a1a"/><rect x="6" y="23" width="1.05" height="1.05" fill="#1e1e1e"/><rect x="7" y="23" width="1.05" height="1.05" fill="#191919"/><rect x="8" y="23" width="1.05" height="1.05" fill="#1f1f1f"/><rect x="9" y="23" width="1.05" height="1.05" fill="#1a1a1a"/><rect x="10" y="23" width="1.05" height="1.05" fill="#1c1c1c"/><rect x="11" y="23" width="1.05" height="1.05" fill="#1a1a1a"/><rect x="12" y="23" width="1.05" height="1.05" fill="#1e1e1e"/><rect x="13" y="23" width="1.05" height="1.05" fill="#161616"/><rect x="14" y="23" width="1.05" height="1.05" fill="#1d1d1d"/><rect x="15" y="23" width="1.05" height="1.05" fill="#191919"/><rect x="16" y="23" width="1.05" height="1.05" fill="#1b1b1b"/><rect x="17" y="23" width="1.05" height="1.05" fill="#181818"/><rect x="18" y="23" width="1.05" height="1.05" fill="#1b1b1b"/><rect x="19" y="23" width="1.05" height="1.05" fill="#1a1a1a"/><rect x="20" y="23" width="1.05" height="1.05" fill="#1b1b1b"/><rect x="21" y="23" width="1.05" height="1.05" fill="#1b1b1b"/><rect x="22" y="23" width="1.05" height="1.05" fill="#1c1c1c"/><rect x="23" y="23" width="1.05" height="1.05" fill="#1d1d1d"/></g><g transform="translate(450.6,122.4) scale(4.0000,3.9125)" shape-rendering="crispEdges"><rect width="24" height="24" fill="#1d1d1d"/><rect x="0" y="0" width="1.05" height="1.05" fill="#1e1e1e"/><rect x="1" y="0" width="1.05" height="1.05" fill="#1f1f1f"/><rect x="2" y="0" width="1.05" height="1.05" fill="#1e1e1e"/><rect x="3" y="0" width="1.05" height="1.05" fill="#1f1f1f"/><rect x="4" y="0" width="1.05" height="1.05" fill="#1f1f1f"/><rect x="5" y="0" width="1.05" height="1.05" fill="#1f1f1f"/><rect x="6" y="0" width="1.05" height="1.05" fill="#202020"/><rect x="7" y="0" width="1.05" height="1.05" fill="#1e1e1e"/><rect x="8" y="0" width="1.05" height="1.05" fill="#1f1f1f"/><rect x="9" y="0" width="1.05" height="1.05" fill="#1e1e1e"/><rect x="10" y="0" width="1.05" height="1.05" fill="#1e1e1e"/><rect x="11" y="0" width="1.05" height="1.05" fill="#1e1e1e"/><rect x="12" y="0" width="1.05" height="1.05" fill="#1f1f1f"/><rect x="13" y="0" width="1.05" height="1.05" fill="#1f1f1f"/><rect x="14" y="0" width="1.05" height="1.05" fill="#1f1f1f"/><rect x="15" y="0" width="1.05" height="1.05" fill="#212121"/><rect x="16" y="0" width="1.05" height="1.05" fill="#1f1f1f"/><rect x="17" y="0" width="1.05" height="1.05" fill="#1d1d1d"/><rect x="18" y="0" width="1.05" height="1.05" fill="#1e1e1e"/><rect x="19" y="0" width="1.05" height="1.05" fill="#1d1d1d"/><rect x="20" y="0" width="1.05" height="1.05" fill="#1e1e1e"/><rect x="21" y="0" width="1.05" height="1.05" fill="#1f1f1f"/><rect x="22" y="0" width="1.05" height="1.05" fill="#1e1e1e"/><rect x="23" y="0" width="1.05" height="1.05" fill="#1c1c1c"/><rect x="0" y="1" width="1.05" height="1.05" fill="#1f1f1f"/><rect x="1" y="1" width="1.05" height="1.05" fill="#1e1e1e"/><rect x="2" y="1" width="1.05" height="1.05" fill="#1d1d1d"/><rect x="3" y="1" width="1.05" height="1.05" fill="#1d1d1d"/><rect x="4" y="1" width="1.05" height="1.05" fill="#1e1e1e"/><rect x="5" y="1" width="1.05" height="1.05" fill="#1e1e1e"/><rect x="6" y="1" width="1.05" height="1.05" fill="#1e1e1e"/><rect x="7" y="1" width="1.05" height="1.05" fill="#1e1e1e"/><rect x="8" y="1" width="1.05" height="1.05" fill="#202020"/><rect x="9" y="1" width="1.05" height="1.05" fill="#1e1e1e"/><rect x="10" y="1" width="1.05" height="1.05" fill="#1e1e1e"/><rect x="11" y="1" width="1.05" height="1.05" fill="#1e1e1e"/><rect x="12" y="1" width="1.05" height="1.05" fill="#1f1f1f"/><rect x="13" y="1" width="1.05" height="1.05" fill="#1e1e1e"/><rect x="14" y="1" width="1.05" height="1.05" fill="#202020"/><rect x="15" y="1" width="1.05" height="1.05" fill="#1d1d1d"/><rect x="16" y="1" width="1.05" height="1.05" fill="#1d1d1d"/><rect x="17" y="1" width="1.05" height="1.05" fill="#1e1e1e"/><rect x="18" y="1" width="1.05" height="1.05" fill="#1d1d1d"/><rect x="19" y="1" width="1.05" height="1.05" fill="#1d1d1d"/><rect x="20" y="1" width="1.05" height="1.05" fill="#1e1e1e"/><rect x="21" y="1" width="1.05" height="1.05" fill="#1f1f1f"/><rect x="22" y="1" width="1.05" height="1.05" fill="#1e1e1e"/><rect x="23" y="1" width="1.05" height="1.05" fill="#1e1e1e"/><rect x="0" y="2" width="1.05" height="1.05" fill="#202020"/><rect x="1" y="2" width="1.05" height="1.05" fill="#1f1f1f"/><rect x="2" y="2" width="1.05" height="1.05" fill="#1e1e1e"/><rect x="3" y="2" width="1.05" height="1.05" fill="#1f1f1f"/><rect x="4" y="2" width="1.05" height="1.05" fill="#1d1d1d"/><rect x="5" y="2" width="1.05" height="1.05" fill="#1e1e1e"/><rect x="6" y="2" width="1.05" height="1.05" fill="#1f1f1f"/><rect x="7" y="2" width="1.05" height="1.05" fill="#1e1e1e"/><rect x="8" y="2" width="1.05" height="1.05" fill="#1e1e1e"/><rect x="9" y="2" width="1.05" height="1.05" fill="#1f1f1f"/><rect x="10" y="2" width="1.05" height="1.05" fill="#1e1e1e"/><rect x="11" y="2" width="1.05" height="1.05" fill="#1e1e1e"/><rect x="12" y="2" width="1.05" height="1.05" fill="#1d1d1d"/><rect x="13" y="2" width="1.05" height="1.05" fill="#202020"/><rect x="14" y="2" width="1.05" height="1.05" fill="#1e1e1e"/><rect x="15" y="2" width="1.05" height="1.05" fill="#1f1f1f"/><rect x="16" y="2" width="1.05" height="1.05" fill="#1e1e1e"/><rect x="17" y="2" width="1.05" height="1.05" fill="#1e1e1e"/><rect x="18" y="2" width="1.05" height="1.05" fill="#1e1e1e"/><rect x="19" y="2" width="1.05" height="1.05" fill="#1e1e1e"/><rect x="20" y="2" width="1.05" height="1.05" fill="#1e1e1e"/><rect x="21" y="2" width="1.05" height="1.05" fill="#1c1c1c"/><rect x="22" y="2" width="1.05" height="1.05" fill="#1e1e1e"/><rect x="23" y="2" width="1.05" height="1.05" fill="#1f1f1f"/><rect x="0" y="3" width="1.05" height="1.05" fill="#1f1f1f"/><rect x="1" y="3" width="1.05" height="1.05" fill="#1f1f1f"/><rect x="2" y="3" width="1.05" height="1.05" fill="#202020"/><rect x="3" y="3" width="1.05" height="1.05" fill="#1e1e1e"/><rect x="4" y="3" width="1.05" height="1.05" fill="#202020"/><rect x="5" y="3" width="1.05" height="1.05" fill="#1d1d1d"/><rect x="6" y="3" width="1.05" height="1.05" fill="#1e1e1e"/><rect x="7" y="3" width="1.05" height="1.05" fill="#1c1c1c"/><rect x="8" y="3" width="1.05" height="1.05" fill="#1f1f1f"/><rect x="9" y="3" width="1.05" height="1.05" fill="#1e1e1e"/><rect x="10" y="3" width="1.05" height="1.05" fill="#202020"/><rect x="11" y="3" width="1.05" height="1.05" fill="#1e1e1e"/><rect x="12" y="3" width="1.05" height="1.05" fill="#1c1c1c"/><rect x="13" y="3" width="1.05" height="1.05" fill="#1f1f1f"/><rect x="14" y="3" width="1.05" height="1.05" fill="#1d1d1d"/><rect x="15" y="3" width="1.05" height="1.05" fill="#1d1d1d"/><rect x="16" y="3" width="1.05" height="1.05" fill="#1e1e1e"/><rect x="17" y="3" width="1.05" height="1.05" fill="#1e1e1e"/><rect x="18" y="3" width="1.05" height="1.05" fill="#1d1d1d"/><rect x="19" y="3" width="1.05" height="1.05" fill="#1d1d1d"/><rect x="20" y="3" width="1.05" height="1.05" fill="#1b1b1b"/><rect x="21" y="3" width="1.05" height="1.05" fill="#1f1f1f"/><rect x="22" y="3" width="1.05" height="1.05" fill="#1d1d1d"/><rect x="23" y="3" width="1.05" height="1.05" fill="#1e1e1e"/><rect x="0" y="4" width="1.05" height="1.05" fill="#1f1f1f"/><rect x="1" y="4" width="1.05" height="1.05" fill="#1e1e1e"/><rect x="2" y="4" width="1.05" height="1.05" fill="#1e1e1e"/><rect x="3" y="4" width="1.05" height="1.05" fill="#1d1d1d"/><rect x="4" y="4" width="1.05" height="1.05" fill="#1e1e1e"/><rect x="5" y="4" width="1.05" height="1.05" fill="#1e1e1e"/><rect x="6" y="4" width="1.05" height="1.05" fill="#1f1f1f"/><rect x="7" y="4" width="1.05" height="1.05" fill="#1e1e1e"/><rect x="8" y="4" width="1.05" height="1.05" fill="#1e1e1e"/><rect x="9" y="4" width="1.05" height="1.05" fill="#1f1f1f"/><rect x="10" y="4" width="1.05" height="1.05" fill="#1f1f1f"/><rect x="11" y="4" width="1.05" height="1.05" fill="#1f1f1f"/><rect x="12" y="4" width="1.05" height="1.05" fill="#1e1e1e"/><rect x="13" y="4" width="1.05" height="1.05" fill="#1e1e1e"/><rect x="14" y="4" width="1.05" height="1.05" fill="#1f1f1f"/><rect x="15" y="4" width="1.05" height="1.05" fill="#1e1e1e"/><rect x="16" y="4" width="1.05" height="1.05" fill="#1e1e1e"/><rect x="17" y="4" width="1.05" height="1.05" fill="#212121"/><rect x="18" y="4" width="1.05" height="1.05" fill="#1e1e1e"/><rect x="19" y="4" width="1.05" height="1.05" fill="#1e1e1e"/><rect x="20" y="4" width="1.05" height="1.05" fill="#1d1d1d"/><rect x="21" y="4" width="1.05" height="1.05" fill="#1c1c1c"/><rect x="22" y="4" width="1.05" height="1.05" fill="#1e1e1e"/><rect x="23" y="4" width="1.05" height="1.05" fill="#1d1d1d"/><rect x="0" y="5" width="1.05" height="1.05" fill="#1e1e1e"/><rect x="1" y="5" width="1.05" height="1.05" fill="#1f1f1f"/><rect x="2" y="5" width="1.05" height="1.05" fill="#1f1f1f"/><rect x="3" y="5" width="1.05" height="1.05" fill="#1e1e1e"/><rect x="4" y="5" width="1.05" height="1.05" fill="#1e1e1e"/><rect x="5" y="5" width="1.05" height="1.05" fill="#202020"/><rect x="6" y="5" width="1.05" height="1.05" fill="#1f1f1f"/><rect x="7" y="5" width="1.05" height="1.05" fill="#1e1e1e"/><rect x="8" y="5" width="1.05" height="1.05" fill="#202020"/><rect x="9" y="5" width="1.05" height="1.05" fill="#202020"/><rect x="10" y="5" width="1.05" height="1.05" fill="#212121"/><rect x="11" y="5" width="1.05" height="1.05" fill="#212121"/><rect x="12" y="5" width="1.05" height="1.05" fill="#212121"/><rect x="13" y="5" width="1.05" height="1.05" fill="#222222"/><rect x="14" y="5" width="1.05" height="1.05" fill="#1f1f1f"/><rect x="15" y="5" width="1.05" height="1.05" fill="#1f1f1f"/><rect x="16" y="5" width="1.05" height="1.05" fill="#1f1f1f"/><rect x="17" y="5" width="1.05" height="1.05" fill="#1d1d1d"/><rect x="18" y="5" width="1.05" height="1.05" fill="#1e1e1e"/><rect x="19" y="5" width="1.05" height="1.05" fill="#1c1c1c"/><rect x="20" y="5" width="1.05" height="1.05" fill="#1d1d1d"/><rect x="21" y="5" width="1.05" height="1.05" fill="#1b1b1b"/><rect x="22" y="5" width="1.05" height="1.05" fill="#1d1d1d"/><rect x="23" y="5" width="1.05" height="1.05" fill="#1b1b1b"/><rect x="0" y="6" width="1.05" height="1.05" fill="#1d1d1d"/><rect x="1" y="6" width="1.05" height="1.05" fill="#1e1e1e"/><rect x="2" y="6" width="1.05" height="1.05" fill="#1e1e1e"/><rect x="3" y="6" width="1.05" height="1.05" fill="#202020"/><rect x="4" y="6" width="1.05" height="1.05" fill="#202020"/><rect x="5" y="6" width="1.05" height="1.05" fill="#1d1d1d"/><rect x="6" y="6" width="1.05" height="1.05" fill="#1e1e1e"/><rect x="7" y="6" width="1.05" height="1.05" fill="#222222"/><rect x="8" y="6" width="1.05" height="1.05" fill="#222222"/><rect x="9" y="6" width="1.05" height="1.05" fill="#222222"/><rect x="10" y="6" width="1.05" height="1.05" fill="#252525"/><rect x="11" y="6" width="1.05" height="1.05" fill="#242424"/><rect x="12" y="6" width="1.05" height="1.05" fill="#242424"/><rect x="13" y="6" width="1.05" height="1.05" fill="#222222"/><rect x="14" y="6" width="1.05" height="1.05" fill="#212121"/><rect x="15" y="6" width="1.05" height="1.05" fill="#222222"/><rect x="16" y="6" width="1.05" height="1.05" fill="#1f1f1f"/><rect x="17" y="6" width="1.05" height="1.05" fill="#1d1d1d"/><rect x="18" y="6" width="1.05" height="1.05" fill="#1f1f1f"/><rect x="19" y="6" width="1.05" height="1.05" fill="#1b1b1b"/><rect x="20" y="6" width="1.05" height="1.05" fill="#1b1b1b"/><rect x="21" y="6" width="1.05" height="1.05" fill="#1b1b1b"/><rect x="22" y="6" width="1.05" height="1.05" fill="#1c1c1c"/><rect x="23" y="6" width="1.05" height="1.05" fill="#1c1c1c"/><rect x="0" y="7" width="1.05" height="1.05" fill="#1f1f1f"/><rect x="1" y="7" width="1.05" height="1.05" fill="#1d1d1d"/><rect x="2" y="7" width="1.05" height="1.05" fill="#1e1e1e"/><rect x="3" y="7" width="1.05" height="1.05" fill="#1e1e1e"/><rect x="4" y="7" width="1.05" height="1.05" fill="#1d1d1d"/><rect x="5" y="7" width="1.05" height="1.05" fill="#1e1e1e"/><rect x="6" y="7" width="1.05" height="1.05" fill="#212121"/><rect x="7" y="7" width="1.05" height="1.05" fill="#212121"/><rect x="8" y="7" width="1.05" height="1.05" fill="#272727"/><rect x="9" y="7" width="1.05" height="1.05" fill="#2a2a2a"/><rect x="10" y="7" width="1.05" height="1.05" fill="#2c2c2c"/><rect x="11" y="7" width="1.05" height="1.05" fill="#2c2c2c"/><rect x="12" y="7" width="1.05" height="1.05" fill="#2c2c2c"/><rect x="13" y="7" width="1.05" height="1.05" fill="#292929"/><rect x="14" y="7" width="1.05" height="1.05" fill="#272727"/><rect x="15" y="7" width="1.05" height="1.05" fill="#212121"/><rect x="16" y="7" width="1.05" height="1.05" fill="#212121"/><rect x="17" y="7" width="1.05" height="1.05" fill="#1d1d1d"/><rect x="18" y="7" width="1.05" height="1.05" fill="#1d1d1d"/><rect x="19" y="7" width="1.05" height="1.05" fill="#1b1b1b"/><rect x="20" y="7" width="1.05" height="1.05" fill="#1a1a1a"/><rect x="21" y="7" width="1.05" height="1.05" fill="#1a1a1a"/><rect x="22" y="7" width="1.05" height="1.05" fill="#1d1d1d"/><rect x="23" y="7" width="1.05" height="1.05" fill="#1b1b1b"/><rect x="0" y="8" width="1.05" height="1.05" fill="#1c1c1c"/><rect x="1" y="8" width="1.05" height="1.05" fill="#1e1e1e"/><rect x="2" y="8" width="1.05" height="1.05" fill="#1e1e1e"/><rect x="3" y="8" width="1.05" height="1.05" fill="#1e1e1e"/><rect x="4" y="8" width="1.05" height="1.05" fill="#1e1e1e"/><rect x="5" y="8" width="1.05" height="1.05" fill="#202020"/><rect x="6" y="8" width="1.05" height="1.05" fill="#252525"/><rect x="7" y="8" width="1.05" height="1.05" fill="#282828"/><rect x="8" y="8" width="1.05" height="1.05" fill="#2f2f2f"/><rect x="9" y="8" width="1.05" height="1.05" fill="#333333"/><rect x="10" y="8" width="1.05" height="1.05" fill="#353535"/><rect x="11" y="8" width="1.05" height="1.05" fill="#353535"/><rect x="12" y="8" width="1.05" height="1.05" fill="#373737"/><rect x="13" y="8" width="1.05" height="1.05" fill="#323232"/><rect x="14" y="8" width="1.05" height="1.05" fill="#2d2d2d"/><rect x="15" y="8" width="1.05" height="1.05" fill="#272727"/><rect x="16" y="8" width="1.05" height="1.05" fill="#222222"/><rect x="17" y="8" width="1.05" height="1.05" fill="#1f1f1f"/><rect x="18" y="8" width="1.05" height="1.05" fill="#1d1d1d"/><rect x="19" y="8" width="1.05" height="1.05" fill="#1a1a1a"/><rect x="20" y="8" width="1.05" height="1.05" fill="#1a1a1a"/><rect x="21" y="8" width="1.05" height="1.05" fill="#1b1b1b"/><rect x="22" y="8" width="1.05" height="1.05" fill="#1b1b1b"/><rect x="23" y="8" width="1.05" height="1.05" fill="#1c1c1c"/><rect x="0" y="9" width="1.05" height="1.05" fill="#1f1f1f"/><rect x="1" y="9" width="1.05" height="1.05" fill="#1f1f1f"/><rect x="2" y="9" width="1.05" height="1.05" fill="#1f1f1f"/><rect x="3" y="9" width="1.05" height="1.05" fill="#1e1e1e"/><rect x="4" y="9" width="1.05" height="1.05" fill="#1f1f1f"/><rect x="5" y="9" width="1.05" height="1.05" fill="#252525"/><rect x="6" y="9" width="1.05" height="1.05" fill="#292929"/><rect x="7" y="9" width="1.05" height="1.05" fill="#2f2f2f"/><rect x="8" y="9" width="1.05" height="1.05" fill="#373737"/><rect x="9" y="9" width="1.05" height="1.05" fill="#3b3b3b"/><rect x="10" y="9" width="1.05" height="1.05" fill="#3e3e3e"/><rect x="11" y="9" width="1.05" height="1.05" fill="#424242"/><rect x="12" y="9" width="1.05" height="1.05" fill="#3d3d3d"/><rect x="13" y="9" width="1.05" height="1.05" fill="#3b3b3b"/><rect x="14" y="9" width="1.05" height="1.05" fill="#363636"/><rect x="15" y="9" width="1.05" height="1.05" fill="#2f2f2f"/><rect x="16" y="9" width="1.05" height="1.05" fill="#272727"/><rect x="17" y="9" width="1.05" height="1.05" fill="#212121"/><rect x="18" y="9" width="1.05" height="1.05" fill="#1c1c1c"/><rect x="19" y="9" width="1.05" height="1.05" fill="#1b1b1b"/><rect x="20" y="9" width="1.05" height="1.05" fill="#181818"/><rect x="21" y="9" width="1.05" height="1.05" fill="#191919"/><rect x="22" y="9" width="1.05" height="1.05" fill="#1a1a1a"/><rect x="23" y="9" width="1.05" height="1.05" fill="#1b1b1b"/><rect x="0" y="10" width="1.05" height="1.05" fill="#1e1e1e"/><rect x="1" y="10" width="1.05" height="1.05" fill="#202020"/><rect x="2" y="10" width="1.05" height="1.05" fill="#1d1d1d"/><rect x="3" y="10" width="1.05" height="1.05" fill="#202020"/><rect x="4" y="10" width="1.05" height="1.05" fill="#222222"/><rect x="5" y="10" width="1.05" height="1.05" fill="#272727"/><rect x="6" y="10" width="1.05" height="1.05" fill="#2e2e2e"/><rect x="7" y="10" width="1.05" height="1.05" fill="#383838"/><rect x="8" y="10" width="1.05" height="1.05" fill="#3d3d3d"/><rect x="9" y="10" width="1.05" height="1.05" fill="#454545"/><rect x="10" y="10" width="1.05" height="1.05" fill="#484848"/><rect x="11" y="10" width="1.05" height="1.05" fill="#484848"/><rect x="12" y="10" width="1.05" height="1.05" fill="#464646"/><rect x="13" y="10" width="1.05" height="1.05" fill="#414141"/><rect x="14" y="10" width="1.05" height="1.05" fill="#3b3b3b"/><rect x="15" y="10" width="1.05" height="1.05" fill="#353535"/><rect x="16" y="10" width="1.05" height="1.05" fill="#282828"/><rect x="17" y="10" width="1.05" height="1.05" fill="#232323"/><rect x="18" y="10" width="1.05" height="1.05" fill="#1d1d1d"/><rect x="19" y="10" width="1.05" height="1.05" fill="#1d1d1d"/><rect x="20" y="10" width="1.05" height="1.05" fill="#1a1a1a"/><rect x="21" y="10" width="1.05" height="1.05" fill="#181818"/><rect x="22" y="10" width="1.05" height="1.05" fill="#1a1a1a"/><rect x="23" y="10" width="1.05" height="1.05" fill="#1b1b1b"/><rect x="0" y="11" width="1.05" height="1.05" fill="#1f1f1f"/><rect x="1" y="11" width="1.05" height="1.05" fill="#1e1e1e"/><rect x="2" y="11" width="1.05" height="1.05" fill="#202020"/><rect x="3" y="11" width="1.05" height="1.05" fill="#212121"/><rect x="4" y="11" width="1.05" height="1.05" fill="#262626"/><rect x="5" y="11" width="1.05" height="1.05" fill="#2b2b2b"/><rect x="6" y="11" width="1.05" height="1.05" fill="#343434"/><rect x="7" y="11" width="1.05" height="1.05" fill="#3c3c3c"/><rect x="8" y="11" width="1.05" height="1.05" fill="#454545"/><rect x="9" y="11" width="1.05" height="1.05" fill="#494949"/><rect x="10" y="11" width="1.05" height="1.05" fill="#4b4b4b"/><rect x="11" y="11" width="1.05" height="1.05" fill="#4c4c4c"/><rect x="12" y="11" width="1.05" height="1.05" fill="#4b4b4b"/><rect x="13" y="11" width="1.05" height="1.05" fill="#474747"/><rect x="14" y="11" width="1.05" height="1.05" fill="#3f3f3f"/><rect x="15" y="11" width="1.05" height="1.05" fill="#3a3a3a"/><rect x="16" y="11" width="1.05" height="1.05" fill="#2f2f2f"/><rect x="17" y="11" width="1.05" height="1.05" fill="#272727"/><rect x="18" y="11" width="1.05" height="1.05" fill="#1e1e1e"/><rect x="19" y="11" width="1.05" height="1.05" fill="#1c1c1c"/><rect x="20" y="11" width="1.05" height="1.05" fill="#1a1a1a"/><rect x="21" y="11" width="1.05" height="1.05" fill="#191919"/><rect x="22" y="11" width="1.05" height="1.05" fill="#1c1c1c"/><rect x="23" y="11" width="1.05" height="1.05" fill="#1a1a1a"/><rect x="0" y="12" width="1.05" height="1.05" fill="#202020"/><rect x="1" y="12" width="1.05" height="1.05" fill="#1e1e1e"/><rect x="2" y="12" width="1.05" height="1.05" fill="#222222"/><rect x="3" y="12" width="1.05" height="1.05" fill="#242424"/><rect x="4" y="12" width="1.05" height="1.05" fill="#272727"/><rect x="5" y="12" width="1.05" height="1.05" fill="#2e2e2e"/><rect x="6" y="12" width="1.05" height="1.05" fill="#353535"/><rect x="7" y="12" width="1.05" height="1.05" fill="#3f3f3f"/><rect x="8" y="12" width="1.05" height="1.05" fill="#484848"/><rect x="9" y="12" width="1.05" height="1.05" fill="#4a4a4a"/><rect x="10" y="12" width="1.05" height="1.05" fill="#4f4f4f"/><rect x="11" y="12" width="1.05" height="1.05" fill="#4f4f4f"/><rect x="12" y="12" width="1.05" height="1.05" fill="#4c4c4c"/><rect x="13" y="12" width="1.05" height="1.05" fill="#494949"/><rect x="14" y="12" width="1.05" height="1.05" fill="#434343"/><rect x="15" y="12" width="1.05" height="1.05" fill="#3a3a3a"/><rect x="16" y="12" width="1.05" height="1.05" fill="#303030"/><rect x="17" y="12" width="1.05" height="1.05" fill="#292929"/><rect x="18" y="12" width="1.05" height="1.05" fill="#1e1e1e"/><rect x="19" y="12" width="1.05" height="1.05" fill="#1c1c1c"/><rect x="20" y="12" width="1.05" height="1.05" fill="#1b1b1b"/><rect x="21" y="12" width="1.05" height="1.05" fill="#181818"/><rect x="22" y="12" width="1.05" height="1.05" fill="#1a1a1a"/><rect x="23" y="12" width="1.05" height="1.05" fill="#1b1b1b"/><rect x="0" y="13" width="1.05" height="1.05" fill="#1f1f1f"/><rect x="1" y="13" width="1.05" height="1.05" fill="#222222"/><rect x="2" y="13" width="1.05" height="1.05" fill="#252525"/><rect x="3" y="13" width="1.05" height="1.05" fill="#252525"/><rect x="4" y="13" width="1.05" height="1.05" fill="#292929"/><rect x="5" y="13" width="1.05" height="1.05" fill="#313131"/><rect x="6" y="13" width="1.05" height="1.05" fill="#3a3a3a"/><rect x="7" y="13" width="1.05" height="1.05" fill="#414141"/><rect x="8" y="13" width="1.05" height="1.05" fill="#494949"/><rect x="9" y="13" width="1.05" height="1.05" fill="#4d4d4d"/><rect x="10" y="13" width="1.05" height="1.05" fill="#4f4f4f"/><rect x="11" y="13" width="1.05" height="1.05" fill="#4f4f4f"/><rect x="12" y="13" width="1.05" height="1.05" fill="#4d4d4d"/><rect x="13" y="13" width="1.05" height="1.05" fill="#4a4a4a"/><rect x="14" y="13" width="1.05" height="1.05" fill="#444444"/><rect x="15" y="13" width="1.05" height="1.05" fill="#3e3e3e"/><rect x="16" y="13" width="1.05" height="1.05" fill="#313131"/><rect x="17" y="13" width="1.05" height="1.05" fill="#272727"/><rect x="18" y="13" width="1.05" height="1.05" fill="#222222"/><rect x="19" y="13" width="1.05" height="1.05" fill="#1c1c1c"/><rect x="20" y="13" width="1.05" height="1.05" fill="#1c1c1c"/><rect x="21" y="13" width="1.05" height="1.05" fill="#191919"/><rect x="22" y="13" width="1.05" height="1.05" fill="#191919"/><rect x="23" y="13" width="1.05" height="1.05" fill="#1a1a1a"/><rect x="0" y="14" width="1.05" height="1.05" fill="#212121"/><rect x="1" y="14" width="1.05" height="1.05" fill="#222222"/><rect x="2" y="14" width="1.05" height="1.05" fill="#242424"/><rect x="3" y="14" width="1.05" height="1.05" fill="#282828"/><rect x="4" y="14" width="1.05" height="1.05" fill="#2c2c2c"/><rect x="5" y="14" width="1.05" height="1.05" fill="#2f2f2f"/><rect x="6" y="14" width="1.05" height="1.05" fill="#393939"/><rect x="7" y="14" width="1.05" height="1.05" fill="#424242"/><rect x="8" y="14" width="1.05" height="1.05" fill="#474747"/><rect x="9" y="14" width="1.05" height="1.05" fill="#4f4f4f"/><rect x="10" y="14" width="1.05" height="1.05" fill="#4f4f4f"/><rect x="11" y="14" width="1.05" height="1.05" fill="#4f4f4f"/><rect x="12" y="14" width="1.05" height="1.05" fill="#4c4c4c"/><rect x="13" y="14" width="1.05" height="1.05" fill="#494949"/><rect x="14" y="14" width="1.05" height="1.05" fill="#454545"/><rect x="15" y="14" width="1.05" height="1.05" fill="#3b3b3b"/><rect x="16" y="14" width="1.05" height="1.05" fill="#303030"/><rect x="17" y="14" width="1.05" height="1.05" fill="#262626"/><rect x="18" y="14" width="1.05" height="1.05" fill="#202020"/><rect x="19" y="14" width="1.05" height="1.05" fill="#1b1b1b"/><rect x="20" y="14" width="1.05" height="1.05" fill="#191919"/><rect x="21" y="14" width="1.05" height="1.05" fill="#1a1a1a"/><rect x="22" y="14" width="1.05" height="1.05" fill="#1d1d1d"/><rect x="23" y="14" width="1.05" height="1.05" fill="#1c1c1c"/><rect x="0" y="15" width="1.05" height="1.05" fill="#1f1f1f"/><rect x="1" y="15" width="1.05" height="1.05" fill="#242424"/><rect x="2" y="15" width="1.05" height="1.05" fill="#232323"/><rect x="3" y="15" width="1.05" height="1.05" fill="#242424"/><rect x="4" y="15" width="1.05" height="1.05" fill="#282828"/><rect x="5" y="15" width="1.05" height="1.05" fill="#2d2d2d"/><rect x="6" y="15" width="1.05" height="1.05" fill="#373737"/><rect x="7" y="15" width="1.05" height="1.05" fill="#3d3d3d"/><rect x="8" y="15" width="1.05" height="1.05" fill="#434343"/><rect x="9" y="15" width="1.05" height="1.05" fill="#494949"/><rect x="10" y="15" width="1.05" height="1.05" fill="#4b4b4b"/><rect x="11" y="15" width="1.05" height="1.05" fill="#4a4a4a"/><rect x="12" y="15" width="1.05" height="1.05" fill="#4a4a4a"/><rect x="13" y="15" width="1.05" height="1.05" fill="#474747"/><rect x="14" y="15" width="1.05" height="1.05" fill="#414141"/><rect x="15" y="15" width="1.05" height="1.05" fill="#363636"/><rect x="16" y="15" width="1.05" height="1.05" fill="#2e2e2e"/><rect x="17" y="15" width="1.05" height="1.05" fill="#252525"/><rect x="18" y="15" width="1.05" height="1.05" fill="#1f1f1f"/><rect x="19" y="15" width="1.05" height="1.05" fill="#1b1b1b"/><rect x="20" y="15" width="1.05" height="1.05" fill="#191919"/><rect x="21" y="15" width="1.05" height="1.05" fill="#1a1a1a"/><rect x="22" y="15" width="1.05" height="1.05" fill="#1b1b1b"/><rect x="23" y="15" width="1.05" height="1.05" fill="#1a1a1a"/><rect x="0" y="16" width="1.05" height="1.05" fill="#1f1f1f"/><rect x="1" y="16" width="1.05" height="1.05" fill="#222222"/><rect x="2" y="16" width="1.05" height="1.05" fill="#252525"/><rect x="3" y="16" width="1.05" height="1.05" fill="#252525"/><rect x="4" y="16" width="1.05" height="1.05" fill="#2a2a2a"/><rect x="5" y="16" width="1.05" height="1.05" fill="#2c2c2c"/><rect x="6" y="16" width="1.05" height="1.05" fill="#313131"/><rect x="7" y="16" width="1.05" height="1.05" fill="#383838"/><rect x="8" y="16" width="1.05" height="1.05" fill="#3f3f3f"/><rect x="9" y="16" width="1.05" height="1.05" fill="#424242"/><rect x="10" y="16" width="1.05" height="1.05" fill="#464646"/><rect x="11" y="16" width="1.05" height="1.05" fill="#484848"/><rect x="12" y="16" width="1.05" height="1.05" fill="#434343"/><rect x="13" y="16" width="1.05" height="1.05" fill="#414141"/><rect x="14" y="16" width="1.05" height="1.05" fill="#3b3b3b"/><rect x="15" y="16" width="1.05" height="1.05" fill="#343434"/><rect x="16" y="16" width="1.05" height="1.05" fill="#2b2b2b"/><rect x="17" y="16" width="1.05" height="1.05" fill="#222222"/><rect x="18" y="16" width="1.05" height="1.05" fill="#202020"/><rect x="19" y="16" width="1.05" height="1.05" fill="#1a1a1a"/><rect x="20" y="16" width="1.05" height="1.05" fill="#181818"/><rect x="21" y="16" width="1.05" height="1.05" fill="#1b1b1b"/><rect x="22" y="16" width="1.05" height="1.05" fill="#1b1b1b"/><rect x="23" y="16" width="1.05" height="1.05" fill="#1a1a1a"/><rect x="0" y="17" width="1.05" height="1.05" fill="#202020"/><rect x="1" y="17" width="1.05" height="1.05" fill="#212121"/><rect x="2" y="17" width="1.05" height="1.05" fill="#222222"/><rect x="3" y="17" width="1.05" height="1.05" fill="#222222"/><rect x="4" y="17" width="1.05" height="1.05" fill="#232323"/><rect x="5" y="17" width="1.05" height="1.05" fill="#252525"/><rect x="6" y="17" width="1.05" height="1.05" fill="#2b2b2b"/><rect x="7" y="17" width="1.05" height="1.05" fill="#303030"/><rect x="8" y="17" width="1.05" height="1.05" fill="#363636"/><rect x="9" y="17" width="1.05" height="1.05" fill="#3a3a3a"/><rect x="10" y="17" width="1.05" height="1.05" fill="#3e3e3e"/><rect x="11" y="17" width="1.05" height="1.05" fill="#3d3d3d"/><rect x="12" y="17" width="1.05" height="1.05" fill="#3c3c3c"/><rect x="13" y="17" width="1.05" height="1.05" fill="#3a3a3a"/><rect x="14" y="17" width="1.05" height="1.05" fill="#323232"/><rect x="15" y="17" width="1.05" height="1.05" fill="#2b2b2b"/><rect x="16" y="17" width="1.05" height="1.05" fill="#262626"/><rect x="17" y="17" width="1.05" height="1.05" fill="#1e1e1e"/><rect x="18" y="17" width="1.05" height="1.05" fill="#1e1e1e"/><rect x="19" y="17" width="1.05" height="1.05" fill="#1a1a1a"/><rect x="20" y="17" width="1.05" height="1.05" fill="#191919"/><rect x="21" y="17" width="1.05" height="1.05" fill="#191919"/><rect x="22" y="17" width="1.05" height="1.05" fill="#191919"/><rect x="23" y="17" width="1.05" height="1.05" fill="#1a1a1a"/><rect x="0" y="18" width="1.05" height="1.05" fill="#1f1f1f"/><rect x="1" y="18" width="1.05" height="1.05" fill="#1f1f1f"/><rect x="2" y="18" width="1.05" height="1.05" fill="#212121"/><rect x="3" y="18" width="1.05" height="1.05" fill="#222222"/><rect x="4" y="18" width="1.05" height="1.05" fill="#202020"/><rect x="5" y="18" width="1.05" height="1.05" fill="#232323"/><rect x="6" y="18" width="1.05" height="1.05" fill="#252525"/><rect x="7" y="18" width="1.05" height="1.05" fill="#292929"/><rect x="8" y="18" width="1.05" height="1.05" fill="#2d2d2d"/><rect x="9" y="18" width="1.05" height="1.05" fill="#313131"/><rect x="10" y="18" width="1.05" height="1.05" fill="#343434"/><rect x="11" y="18" width="1.05" height="1.05" fill="#323232"/><rect x="12" y="18" width="1.05" height="1.05" fill="#323232"/><rect x="13" y="18" width="1.05" height="1.05" fill="#2f2f2f"/><rect x="14" y="18" width="1.05" height="1.05" fill="#2c2c2c"/><rect x="15" y="18" width="1.05" height="1.05" fill="#252525"/><rect x="16" y="18" width="1.05" height="1.05" fill="#212121"/><rect x="17" y="18" width="1.05" height="1.05" fill="#1e1e1e"/><rect x="18" y="18" width="1.05" height="1.05" fill="#1d1d1d"/><rect x="19" y="18" width="1.05" height="1.05" fill="#1a1a1a"/><rect x="20" y="18" width="1.05" height="1.05" fill="#1a1a1a"/><rect x="21" y="18" width="1.05" height="1.05" fill="#1a1a1a"/><rect x="22" y="18" width="1.05" height="1.05" fill="#1b1b1b"/><rect x="23" y="18" width="1.05" height="1.05" fill="#1b1b1b"/><rect x="0" y="19" width="1.05" height="1.05" fill="#1d1d1d"/><rect x="1" y="19" width="1.05" height="1.05" fill="#1e1e1e"/><rect x="2" y="19" width="1.05" height="1.05" fill="#1d1d1d"/><rect x="3" y="19" width="1.05" height="1.05" fill="#212121"/><rect x="4" y="19" width="1.05" height="1.05" fill="#1f1f1f"/><rect x="5" y="19" width="1.05" height="1.05" fill="#1e1e1e"/><rect x="6" y="19" width="1.05" height="1.05" fill="#212121"/><rect x="7" y="19" width="1.05" height="1.05" fill="#242424"/><rect x="8" y="19" width="1.05" height="1.05" fill="#252525"/><rect x="9" y="19" width="1.05" height="1.05" fill="#282828"/><rect x="10" y="19" width="1.05" height="1.05" fill="#272727"/><rect x="11" y="19" width="1.05" height="1.05" fill="#2b2b2b"/><rect x="12" y="19" width="1.05" height="1.05" fill="#292929"/><rect x="13" y="19" width="1.05" height="1.05" fill="#252525"/><rect x="14" y="19" width="1.05" height="1.05" fill="#232323"/><rect x="15" y="19" width="1.05" height="1.05" fill="#222222"/><rect x="16" y="19" width="1.05" height="1.05" fill="#1f1f1f"/><rect x="17" y="19" width="1.05" height="1.05" fill="#1b1b1b"/><rect x="18" y="19" width="1.05" height="1.05" fill="#1b1b1b"/><rect x="19" y="19" width="1.05" height="1.05" fill="#1b1b1b"/><rect x="20" y="19" width="1.05" height="1.05" fill="#1d1d1d"/><rect x="21" y="19" width="1.05" height="1.05" fill="#1b1b1b"/><rect x="22" y="19" width="1.05" height="1.05" fill="#1c1c1c"/><rect x="23" y="19" width="1.05" height="1.05" fill="#1b1b1b"/><rect x="0" y="20" width="1.05" height="1.05" fill="#1d1d1d"/><rect x="1" y="20" width="1.05" height="1.05" fill="#1c1c1c"/><rect x="2" y="20" width="1.05" height="1.05" fill="#1c1c1c"/><rect x="3" y="20" width="1.05" height="1.05" fill="#1c1c1c"/><rect x="4" y="20" width="1.05" height="1.05" fill="#1d1d1d"/><rect x="5" y="20" width="1.05" height="1.05" fill="#1f1f1f"/><rect x="6" y="20" width="1.05" height="1.05" fill="#1e1e1e"/><rect x="7" y="20" width="1.05" height="1.05" fill="#202020"/><rect x="8" y="20" width="1.05" height="1.05" fill="#212121"/><rect x="9" y="20" width="1.05" height="1.05" fill="#222222"/><rect x="10" y="20" width="1.05" height="1.05" fill="#222222"/><rect x="11" y="20" width="1.05" height="1.05" fill="#252525"/><rect x="12" y="20" width="1.05" height="1.05" fill="#232323"/><rect x="13" y="20" width="1.05" height="1.05" fill="#222222"/><rect x="14" y="20" width="1.05" height="1.05" fill="#222222"/><rect x="15" y="20" width="1.05" height="1.05" fill="#1f1f1f"/><rect x="16" y="20" width="1.05" height="1.05" fill="#1d1d1d"/><rect x="17" y="20" width="1.05" height="1.05" fill="#1c1c1c"/><rect x="18" y="20" width="1.05" height="1.05" fill="#1c1c1c"/><rect x="19" y="20" width="1.05" height="1.05" fill="#1d1d1d"/><rect x="20" y="20" width="1.05" height="1.05" fill="#1a1a1a"/><rect x="21" y="20" width="1.05" height="1.05" fill="#191919"/><rect x="22" y="20" width="1.05" height="1.05" fill="#1b1b1b"/><rect x="23" y="20" width="1.05" height="1.05" fill="#1b1b1b"/><rect x="0" y="21" width="1.05" height="1.05" fill="#1c1c1c"/><rect x="1" y="21" width="1.05" height="1.05" fill="#1d1d1d"/><rect x="2" y="21" width="1.05" height="1.05" fill="#1d1d1d"/><rect x="3" y="21" width="1.05" height="1.05" fill="#1d1d1d"/><rect x="4" y="21" width="1.05" height="1.05" fill="#1d1d1d"/><rect x="5" y="21" width="1.05" height="1.05" fill="#1f1f1f"/><rect x="6" y="21" width="1.05" height="1.05" fill="#1f1f1f"/><rect x="7" y="21" width="1.05" height="1.05" fill="#1f1f1f"/><rect x="8" y="21" width="1.05" height="1.05" fill="#1d1d1d"/><rect x="9" y="21" width="1.05" height="1.05" fill="#1f1f1f"/><rect x="10" y="21" width="1.05" height="1.05" fill="#1d1d1d"/><rect x="11" y="21" width="1.05" height="1.05" fill="#1c1c1c"/><rect x="12" y="21" width="1.05" height="1.05" fill="#202020"/><rect x="13" y="21" width="1.05" height="1.05" fill="#1e1e1e"/><rect x="14" y="21" width="1.05" height="1.05" fill="#1e1e1e"/><rect x="15" y="21" width="1.05" height="1.05" fill="#1e1e1e"/><rect x="16" y="21" width="1.05" height="1.05" fill="#1e1e1e"/><rect x="17" y="21" width="1.05" height="1.05" fill="#1c1c1c"/><rect x="18" y="21" width="1.05" height="1.05" fill="#1c1c1c"/><rect x="19" y="21" width="1.05" height="1.05" fill="#1c1c1c"/><rect x="20" y="21" width="1.05" height="1.05" fill="#1c1c1c"/><rect x="21" y="21" width="1.05" height="1.05" fill="#1b1b1b"/><rect x="22" y="21" width="1.05" height="1.05" fill="#1a1a1a"/><rect x="23" y="21" width="1.05" height="1.05" fill="#1e1e1e"/><rect x="0" y="22" width="1.05" height="1.05" fill="#1b1b1b"/><rect x="1" y="22" width="1.05" height="1.05" fill="#1b1b1b"/><rect x="2" y="22" width="1.05" height="1.05" fill="#1d1d1d"/><rect x="3" y="22" width="1.05" height="1.05" fill="#1c1c1c"/><rect x="4" y="22" width="1.05" height="1.05" fill="#1d1d1d"/><rect x="5" y="22" width="1.05" height="1.05" fill="#1e1e1e"/><rect x="6" y="22" width="1.05" height="1.05" fill="#1d1d1d"/><rect x="7" y="22" width="1.05" height="1.05" fill="#1c1c1c"/><rect x="8" y="22" width="1.05" height="1.05" fill="#1d1d1d"/><rect x="9" y="22" width="1.05" height="1.05" fill="#1c1c1c"/><rect x="10" y="22" width="1.05" height="1.05" fill="#1e1e1e"/><rect x="11" y="22" width="1.05" height="1.05" fill="#1c1c1c"/><rect x="12" y="22" width="1.05" height="1.05" fill="#1b1b1b"/><rect x="13" y="22" width="1.05" height="1.05" fill="#1b1b1b"/><rect x="14" y="22" width="1.05" height="1.05" fill="#1d1d1d"/><rect x="15" y="22" width="1.05" height="1.05" fill="#1c1c1c"/><rect x="16" y="22" width="1.05" height="1.05" fill="#1c1c1c"/><rect x="17" y="22" width="1.05" height="1.05" fill="#1c1c1c"/><rect x="18" y="22" width="1.05" height="1.05" fill="#1a1a1a"/><rect x="19" y="22" width="1.05" height="1.05" fill="#1b1b1b"/><rect x="20" y="22" width="1.05" height="1.05" fill="#1a1a1a"/><rect x="21" y="22" width="1.05" height="1.05" fill="#1c1c1c"/><rect x="22" y="22" width="1.05" height="1.05" fill="#1c1c1c"/><rect x="23" y="22" width="1.05" height="1.05" fill="#1a1a1a"/><rect x="0" y="23" width="1.05" height="1.05" fill="#1c1c1c"/><rect x="1" y="23" width="1.05" height="1.05" fill="#1c1c1c"/><rect x="2" y="23" width="1.05" height="1.05" fill="#1c1c1c"/><rect x="3" y="23" width="1.05" height="1.05" fill="#1c1c1c"/><rect x="4" y="23" width="1.05" height="1.05" fill="#1b1b1b"/><rect x="5" y="23" width="1.05" height="1.05" fill="#1b1b1b"/><rect x="6" y="23" width="1.05" height="1.05" fill="#1b1b1b"/><rect x="7" y="23" width="1.05" height="1.05" fill="#1b1b1b"/><rect x="8" y="23" width="1.05" height="1.05" fill="#1b1b1b"/><rect x="9" y="23" width="1.05" height="1.05" fill="#1d1d1d"/><rect x="10" y="23" width="1.05" height="1.05" fill="#1c1c1c"/><rect x="11" y="23" width="1.05" height="1.05" fill="#1b1b1b"/><rect x="12" y="23" width="1.05" height="1.05" fill="#1a1a1a"/><rect x="13" y="23" width="1.05" height="1.05" fill="#1e1e1e"/><rect x="14" y="23" width="1.05" height="1.05" fill="#1c1c1c"/><rect x="15" y="23" width="1.05" height="1.05" fill="#1c1c1c"/><rect x="16" y="23" width="1.05" height="1.05" fill="#1c1c1c"/><rect x="17" y="23" width="1.05" height="1.05" fill="#1d1d1d"/><rect x="18" y="23" width="1.05" height="1.05" fill="#1b1b1b"/><rect x="19" y="23" width="1.05" height="1.05" fill="#191919"/><rect x="20" y="23" width="1.05" height="1.05" fill="#1b1b1b"/><rect x="21" y="23" width="1.05" height="1.05" fill="#1b1b1b"/><rect x="22" y="23" width="1.05" height="1.05" fill="#1b1b1b"/><rect x="23" y="23" width="1.05" height="1.05" fill="#1d1d1d"/></g><line x1="302" y1="96.2" x2="396.5" y2="96.2" stroke="#b03030" stroke-width="0.5"/><line x1="450" y1="2.4" x2="450" y2="96" stroke="#b03030" stroke-width="0.5"/><line x1="301.7" y1="122.4" x2="301.7" y2="216.3" stroke="#b03030" stroke-width="0.5"/><line x1="396.5" y1="122.4" x2="396.5" y2="216.3" stroke="#b03030" stroke-width="0.5"/><text x="347.3" y="110.5" font-size="14" text-anchor="middle" font-weight="normal" style="font-family:'Liberation Serif',serif" stroke="#111" stroke-width="0.25" textLength="48.5" lengthAdjust="spacingAndGlyphs">Original</text><text x="497.8" y="110.5" font-size="14" text-anchor="middle" font-weight="normal" style="font-family:'Liberation Serif',serif" stroke="#111" stroke-width="0.25" >UMF</text><text x="348.3" y="230.8" font-size="14" text-anchor="middle" font-weight="normal" style="font-family:'Liberation Serif',serif" stroke="#111" stroke-width="0.25" >BF + UMF</text><text x="497.8" y="230.8" font-size="14" text-anchor="middle" font-weight="normal" style="font-family:'Liberation Serif',serif" stroke="#111" stroke-width="0.25" >IASF</text><text x="131.5" y="281.5" font-size="14.5" text-anchor="middle" font-weight="bold" style="font-family:'Liberation Serif',serif" >(g)</text><text x="420.5" y="281.5" font-size="14.5" text-anchor="middle" font-weight="bold" style="font-family:'Liberation Serif',serif" >(h)</text><text x="131.3" y="514.5" font-size="14.5" text-anchor="middle" font-weight="bold" style="font-family:'Liberation Serif',serif" >(i)</text><text x="420.5" y="514.5" font-size="14.5" text-anchor="middle" font-weight="normal" style="font-family:'Liberation Serif',serif" >(j)</text><rect x="23.4" y="289.5" width="231.6" height="183.7" fill="none" stroke="#b0b0b0" stroke-width="0.9"/><line x1="23.40" y1="473.2" x2="23.40" y2="469.9" stroke="#b0b0b0" stroke-width="0.7"/><line x1="23.40" y1="289.5" x2="23.40" y2="292.8" stroke="#b0b0b0" stroke-width="0.7"/><text x="23.40" y="481.60" font-size="7.2" text-anchor="middle" font-weight="normal" style="font-family:'Liberation Sans',Arial,sans-serif" stroke="#111" stroke-width="0.2" fill="#111">0</text><line x1="69.72" y1="473.2" x2="69.72" y2="469.9" stroke="#b0b0b0" stroke-width="0.7"/><line x1="69.72" y1="289.5" x2="69.72" y2="292.8" stroke="#b0b0b0" stroke-width="0.7"/><text x="69.72" y="481.60" font-size="7.2" text-anchor="middle" font-weight="normal" style="font-family:'Liberation Sans',Arial,sans-serif" stroke="#111" stroke-width="0.2" fill="#111">5</text><line x1="116.04" y1="473.2" x2="116.04" y2="469.9" stroke="#b0b0b0" stroke-width="0.7"/><line x1="116.04" y1="289.5" x2="116.04" y2="292.8" stroke="#b0b0b0" stroke-width="0.7"/><text x="116.04" y="481.60" font-size="7.2" text-anchor="middle" font-weight="normal" style="font-family:'Liberation Sans',Arial,sans-serif" stroke="#111" stroke-width="0.2" fill="#111">10</text><line x1="162.36" y1="473.2" x2="162.36" y2="469.9" stroke="#b0b0b0" stroke-width="0.7"/><line x1="162.36" y1="289.5" x2="162.36" y2="292.8" stroke="#b0b0b0" stroke-width="0.7"/><text x="162.36" y="481.60" font-size="7.2" text-anchor="middle" font-weight="normal" style="font-family:'Liberation Sans',Arial,sans-serif" stroke="#111" stroke-width="0.2" fill="#111">15</text><line x1="208.68" y1="473.2" x2="208.68" y2="469.9" stroke="#b0b0b0" stroke-width="0.7"/><line x1="208.68" y1="289.5" x2="208.68" y2="292.8" stroke="#b0b0b0" stroke-width="0.7"/><text x="208.68" y="481.60" font-size="7.2" text-anchor="middle" font-weight="normal" style="font-family:'Liberation Sans',Arial,sans-serif" stroke="#111" stroke-width="0.2" fill="#111">20</text><line x1="255.00" y1="473.2" x2="255.00" y2="469.9" stroke="#b0b0b0" stroke-width="0.7"/><line x1="255.00" y1="289.5" x2="255.00" y2="292.8" stroke="#b0b0b0" stroke-width="0.7"/><text x="255.00" y="481.60" font-size="7.2" text-anchor="middle" font-weight="normal" style="font-family:'Liberation Sans',Arial,sans-serif" stroke="#111" stroke-width="0.2" fill="#111">25</text><line x1="23.4" y1="473.20" x2="26.7" y2="473.20" stroke="#b0b0b0" stroke-width="0.7"/><line x1="255.0" y1="473.20" x2="251.7" y2="473.20" stroke="#b0b0b0" stroke-width="0.7"/><text x="21.20" y="475.80" font-size="7.2" text-anchor="end" font-weight="normal" style="font-family:'Liberation Sans',Arial,sans-serif" stroke="#111" stroke-width="0.2" fill="#111">15</text><line x1="23.4" y1="446.96" x2="26.7" y2="446.96" stroke="#b0b0b0" stroke-width="0.7"/><line x1="255.0" y1="446.96" x2="251.7" y2="446.96" stroke="#b0b0b0" stroke-width="0.7"/><text x="21.20" y="449.56" font-size="7.2" text-anchor="end" font-weight="normal" style="font-family:'Liberation Sans',Arial,sans-serif" stroke="#111" stroke-width="0.2" fill="#111">20</text><line x1="23.4" y1="420.71" x2="26.7" y2="420.71" stroke="#b0b0b0" stroke-width="0.7"/><line x1="255.0" y1="420.71" x2="251.7" y2="420.71" stroke="#b0b0b0" stroke-width="0.7"/><text x="21.20" y="423.31" font-size="7.2" text-anchor="end" font-weight="normal" style="font-family:'Liberation Sans',Arial,sans-serif" stroke="#111" stroke-width="0.2" fill="#111">25</text><line x1="23.4" y1="394.47" x2="26.7" y2="394.47" stroke="#b0b0b0" stroke-width="0.7"/><line x1="255.0" y1="394.47" x2="251.7" y2="394.47" stroke="#b0b0b0" stroke-width="0.7"/><text x="21.20" y="397.07" font-size="7.2" text-anchor="end" font-weight="normal" style="font-family:'Liberation Sans',Arial,sans-serif" stroke="#111" stroke-width="0.2" fill="#111">30</text><line x1="23.4" y1="368.23" x2="26.7" y2="368.23" stroke="#b0b0b0" stroke-width="0.7"/><line x1="255.0" y1="368.23" x2="251.7" y2="368.23" stroke="#b0b0b0" stroke-width="0.7"/><text x="21.20" y="370.83" font-size="7.2" text-anchor="end" font-weight="normal" style="font-family:'Liberation Sans',Arial,sans-serif" stroke="#111" stroke-width="0.2" fill="#111">35</text><line x1="23.4" y1="341.99" x2="26.7" y2="341.99" stroke="#b0b0b0" stroke-width="0.7"/><line x1="255.0" y1="341.99" x2="251.7" y2="341.99" stroke="#b0b0b0" stroke-width="0.7"/><text x="21.20" y="344.59" font-size="7.2" text-anchor="end" font-weight="normal" style="font-family:'Liberation Sans',Arial,sans-serif" stroke="#111" stroke-width="0.2" fill="#111">40</text><line x1="23.4" y1="315.74" x2="26.7" y2="315.74" stroke="#b0b0b0" stroke-width="0.7"/><line x1="255.0" y1="315.74" x2="251.7" y2="315.74" stroke="#b0b0b0" stroke-width="0.7"/><text x="21.20" y="318.34" font-size="7.2" text-anchor="end" font-weight="normal" style="font-family:'Liberation Sans',Arial,sans-serif" stroke="#111" stroke-width="0.2" fill="#111">45</text><line x1="23.4" y1="289.50" x2="26.7" y2="289.50" stroke="#b0b0b0" stroke-width="0.7"/><line x1="255.0" y1="289.50" x2="251.7" y2="289.50" stroke="#b0b0b0" stroke-width="0.7"/><text x="21.20" y="292.10" font-size="7.2" text-anchor="end" font-weight="normal" style="font-family:'Liberation Sans',Arial,sans-serif" stroke="#111" stroke-width="0.2" fill="#111">50</text><polyline points="32.66,289.50 41.93,300.00 51.19,289.50 60.46,300.00 69.72,300.00 78.98,310.49 88.25,310.49 97.51,320.99 106.78,331.49 116.04,341.99 125.30,352.48 134.57,373.48 143.83,383.97 153.10,394.47 162.36,404.97 171.62,404.97 180.89,425.96 190.15,425.96 199.42,425.96 208.68,436.46 217.94,436.46 227.21,446.96 236.47,446.96 245.74,457.45 255.00,457.45" fill="none" stroke="#ff4d4d" stroke-width="0.7"/><circle cx="32.66" cy="289.50" r="2.3" fill="none" stroke="#ff4d4d" stroke-width="0.65"/><circle cx="41.93" cy="300.00" r="2.3" fill="none" stroke="#ff4d4d" stroke-width="0.65"/><circle cx="51.19" cy="289.50" r="2.3" fill="none" stroke="#ff4d4d" stroke-width="0.65"/><circle cx="60.46" cy="300.00" r="2.3" fill="none" stroke="#ff4d4d" stroke-width="0.65"/><circle cx="69.72" cy="300.00" r="2.3" fill="none" stroke="#ff4d4d" stroke-width="0.65"/><circle cx="78.98" cy="310.49" r="2.3" fill="none" stroke="#ff4d4d" stroke-width="0.65"/><circle cx="88.25" cy="310.49" r="2.3" fill="none" stroke="#ff4d4d" stroke-width="0.65"/><circle cx="97.51" cy="320.99" r="2.3" fill="none" stroke="#ff4d4d" stroke-width="0.65"/><circle cx="106.78" cy="331.49" r="2.3" fill="none" stroke="#ff4d4d" stroke-width="0.65"/><circle cx="116.04" cy="341.99" r="2.3" fill="none" stroke="#ff4d4d" stroke-width="0.65"/><circle cx="125.30" cy="352.48" r="2.3" fill="none" stroke="#ff4d4d" stroke-width="0.65"/><circle cx="134.57" cy="373.48" r="2.3" fill="none" stroke="#ff4d4d" stroke-width="0.65"/><circle cx="143.83" cy="383.97" r="2.3" fill="none" stroke="#ff4d4d" stroke-width="0.65"/><circle cx="153.10" cy="394.47" r="2.3" fill="none" stroke="#ff4d4d" stroke-width="0.65"/><circle cx="162.36" cy="404.97" r="2.3" fill="none" stroke="#ff4d4d" stroke-width="0.65"/><circle cx="171.62" cy="404.97" r="2.3" fill="none" stroke="#ff4d4d" stroke-width="0.65"/><circle cx="180.89" cy="425.96" r="2.3" fill="none" stroke="#ff4d4d" stroke-width="0.65"/><circle cx="190.15" cy="425.96" r="2.3" fill="none" stroke="#ff4d4d" stroke-width="0.65"/><circle cx="199.42" cy="425.96" r="2.3" fill="none" stroke="#ff4d4d" stroke-width="0.65"/><circle cx="208.68" cy="436.46" r="2.3" fill="none" stroke="#ff4d4d" stroke-width="0.65"/><circle cx="217.94" cy="436.46" r="2.3" fill="none" stroke="#ff4d4d" stroke-width="0.65"/><circle cx="227.21" cy="446.96" r="2.3" fill="none" stroke="#ff4d4d" stroke-width="0.65"/><circle cx="236.47" cy="446.96" r="2.3" fill="none" stroke="#ff4d4d" stroke-width="0.65"/><circle cx="245.74" cy="457.45" r="2.3" fill="none" stroke="#ff4d4d" stroke-width="0.65"/><circle cx="255.00" cy="457.45" r="2.3" fill="none" stroke="#ff4d4d" stroke-width="0.65"/><polyline points="32.66,294.75 41.93,300.00 51.19,300.00 60.46,305.25 69.72,305.25 78.98,315.74 88.25,315.74 97.51,326.24 106.78,336.74 116.04,341.99 125.30,352.48 134.57,373.48 143.83,383.97 153.10,394.47 162.36,399.72 171.62,404.97 180.89,420.71 190.15,420.71 199.42,425.96 208.68,431.21 217.94,436.46 227.21,441.71 236.47,446.96 245.74,452.21 255.00,452.21" fill="none" stroke="#44e044" stroke-width="0.7"/><rect x="30.56" y="292.65" width="4.2" height="4.2" fill="none" stroke="#44e044" stroke-width="0.65"/><rect x="39.83" y="297.90" width="4.2" height="4.2" fill="none" stroke="#44e044" stroke-width="0.65"/><rect x="49.09" y="297.90" width="4.2" height="4.2" fill="none" stroke="#44e044" stroke-width="0.65"/><rect x="58.36" y="303.15" width="4.2" height="4.2" fill="none" stroke="#44e044" stroke-width="0.65"/><rect x="67.62" y="303.15" width="4.2" height="4.2" fill="none" stroke="#44e044" stroke-width="0.65"/><rect x="76.88" y="313.64" width="4.2" height="4.2" fill="none" stroke="#44e044" stroke-width="0.65"/><rect x="86.15" y="313.64" width="4.2" height="4.2" fill="none" stroke="#44e044" stroke-width="0.65"/><rect x="95.41" y="324.14" width="4.2" height="4.2" fill="none" stroke="#44e044" stroke-width="0.65"/><rect x="104.68" y="334.64" width="4.2" height="4.2" fill="none" stroke="#44e044" stroke-width="0.65"/><rect x="113.94" y="339.89" width="4.2" height="4.2" fill="none" stroke="#44e044" stroke-width="0.65"/><rect x="123.20" y="350.38" width="4.2" height="4.2" fill="none" stroke="#44e044" stroke-width="0.65"/><rect x="132.47" y="371.38" width="4.2" height="4.2" fill="none" stroke="#44e044" stroke-width="0.65"/><rect x="141.73" y="381.87" width="4.2" height="4.2" fill="none" stroke="#44e044" stroke-width="0.65"/><rect x="151.00" y="392.37" width="4.2" height="4.2" fill="none" stroke="#44e044" stroke-width="0.65"/><rect x="160.26" y="397.62" width="4.2" height="4.2" fill="none" stroke="#44e044" stroke-width="0.65"/><rect x="169.52" y="402.87" width="4.2" height="4.2" fill="none" stroke="#44e044" stroke-width="0.65"/><rect x="178.79" y="418.61" width="4.2" height="4.2" fill="none" stroke="#44e044" stroke-width="0.65"/><rect x="188.05" y="418.61" width="4.2" height="4.2" fill="none" stroke="#44e044" stroke-width="0.65"/><rect x="197.32" y="423.86" width="4.2" height="4.2" fill="none" stroke="#44e044" stroke-width="0.65"/><rect x="206.58" y="429.11" width="4.2" height="4.2" fill="none" stroke="#44e044" stroke-width="0.65"/><rect x="215.84" y="434.36" width="4.2" height="4.2" fill="none" stroke="#44e044" stroke-width="0.65"/><rect x="225.11" y="439.61" width="4.2" height="4.2" fill="none" stroke="#44e044" stroke-width="0.65"/><rect x="234.37" y="444.86" width="4.2" height="4.2" fill="none" stroke="#44e044" stroke-width="0.65"/><rect x="243.64" y="450.11" width="4.2" height="4.2" fill="none" stroke="#44e044" stroke-width="0.65"/><rect x="252.90" y="450.11" width="4.2" height="4.2" fill="none" stroke="#44e044" stroke-width="0.65"/><polyline points="32.66,289.50 41.93,294.75 51.19,289.50 60.46,300.00 69.72,300.00 78.98,310.49 88.25,310.49 97.51,320.99 106.78,331.49 116.04,341.99 125.30,352.48 134.57,373.48 143.83,383.97 153.10,394.47 162.36,404.97 171.62,404.97 180.89,425.96 190.15,425.96 199.42,425.96 208.68,436.46 217.94,436.46 227.21,446.96 236.47,446.96 245.74,457.45 255.00,457.45" fill="none" stroke="#4d4dff" stroke-width="0.7"/><path d="M30.26 289.50H35.06M32.66 287.10V291.90" stroke="#4d4dff" stroke-width="0.65"/><path d="M39.53 294.75H44.33M41.93 292.35V297.15" stroke="#4d4dff" stroke-width="0.65"/><path d="M48.79 289.50H53.59M51.19 287.10V291.90" stroke="#4d4dff" stroke-width="0.65"/><path d="M58.06 300.00H62.86M60.46 297.60V302.40" stroke="#4d4dff" stroke-width="0.65"/><path d="M67.32 300.00H72.12M69.72 297.60V302.40" stroke="#4d4dff" stroke-width="0.65"/><path d="M76.58 310.49H81.38M78.98 308.09V312.89" stroke="#4d4dff" stroke-width="0.65"/><path d="M85.85 310.49H90.65M88.25 308.09V312.89" stroke="#4d4dff" stroke-width="0.65"/><path d="M95.11 320.99H99.91M97.51 318.59V323.39" stroke="#4d4dff" stroke-width="0.65"/><path d="M104.38 331.49H109.18M106.78 329.09V333.89" stroke="#4d4dff" stroke-width="0.65"/><path d="M113.64 341.99H118.44M116.04 339.59V344.39" stroke="#4d4dff" stroke-width="0.65"/><path d="M122.90 352.48H127.70M125.30 350.08V354.88" stroke="#4d4dff" stroke-width="0.65"/><path d="M132.17 373.48H136.97M134.57 371.08V375.88" stroke="#4d4dff" stroke-width="0.65"/><path d="M141.43 383.97H146.23M143.83 381.57V386.37" stroke="#4d4dff" stroke-width="0.65"/><path d="M150.70 394.47H155.50M153.10 392.07V396.87" stroke="#4d4dff" stroke-width="0.65"/><path d="M159.96 404.97H164.76M162.36 402.57V407.37" stroke="#4d4dff" stroke-width="0.65"/><path d="M169.22 404.97H174.02M171.62 402.57V407.37" stroke="#4d4dff" stroke-width="0.65"/><path d="M178.49 425.96H183.29M180.89 423.56V428.36" stroke="#4d4dff" stroke-width="0.65"/><path d="M187.75 425.96H192.55M190.15 423.56V428.36" stroke="#4d4dff" stroke-width="0.65"/><path d="M197.02 425.96H201.82M199.42 423.56V428.36" stroke="#4d4dff" stroke-width="0.65"/><path d="M206.28 436.46H211.08M208.68 434.06V438.86" stroke="#4d4dff" stroke-width="0.65"/><path d="M215.54 436.46H220.34M217.94 434.06V438.86" stroke="#4d4dff" stroke-width="0.65"/><path d="M224.81 446.96H229.61M227.21 444.56V449.36" stroke="#4d4dff" stroke-width="0.65"/><path d="M234.07 446.96H238.87M236.47 444.56V449.36" stroke="#4d4dff" stroke-width="0.65"/><path d="M243.34 457.45H248.14M245.74 455.05V459.85" stroke="#4d4dff" stroke-width="0.65"/><path d="M252.60 457.45H257.40M255.00 455.05V459.85" stroke="#4d4dff" stroke-width="0.65"/><polyline points="32.66,294.75 41.93,300.00 51.19,300.00 60.46,305.25 69.72,310.49 78.98,320.99 88.25,326.24 97.51,331.49 106.78,341.99 116.04,352.48 125.30,357.73 134.57,368.23 143.83,378.73 153.10,389.22 162.36,399.72 171.62,404.97 180.89,415.47 190.15,420.71 199.42,425.96 208.68,431.21 217.94,436.46 227.21,441.71 236.47,446.96 245.74,452.21 255.00,452.21" fill="none" stroke="#404040" stroke-width="0.7"/><path d="M30.86 294.75H34.46M32.66 292.95V296.55M31.36 293.45L33.96 296.05M31.36 296.05L33.96 293.45" stroke="#404040" stroke-width="0.6"/><path d="M40.13 300.00H43.73M41.93 298.20V301.80M40.63 298.70L43.23 301.30M40.63 301.30L43.23 298.70" stroke="#404040" stroke-width="0.6"/><path d="M49.39 300.00H52.99M51.19 298.20V301.80M49.89 298.70L52.49 301.30M49.89 301.30L52.49 298.70" stroke="#404040" stroke-width="0.6"/><path d="M58.66 305.25H62.26M60.46 303.45V307.05M59.16 303.95L61.76 306.55M59.16 306.55L61.76 303.95" stroke="#404040" stroke-width="0.6"/><path d="M67.92 310.49H71.52M69.72 308.69V312.29M68.42 309.19L71.02 311.79M68.42 311.79L71.02 309.19" stroke="#404040" stroke-width="0.6"/><path d="M77.18 320.99H80.78M78.98 319.19V322.79M77.68 319.69L80.28 322.29M77.68 322.29L80.28 319.69" stroke="#404040" stroke-width="0.6"/><path d="M86.45 326.24H90.05M88.25 324.44V328.04M86.95 324.94L89.55 327.54M86.95 327.54L89.55 324.94" stroke="#404040" stroke-width="0.6"/><path d="M95.71 331.49H99.31M97.51 329.69V333.29M96.21 330.19L98.81 332.79M96.21 332.79L98.81 330.19" stroke="#404040" stroke-width="0.6"/><path d="M104.98 341.99H108.58M106.78 340.19V343.79M105.48 340.69L108.08 343.29M105.48 343.29L108.08 340.69" stroke="#404040" stroke-width="0.6"/><path d="M114.24 352.48H117.84M116.04 350.68V354.28M114.74 351.18L117.34 353.78M114.74 353.78L117.34 351.18" stroke="#404040" stroke-width="0.6"/><path d="M123.50 357.73H127.10M125.30 355.93V359.53M124.00 356.43L126.60 359.03M124.00 359.03L126.60 356.43" stroke="#404040" stroke-width="0.6"/><path d="M132.77 368.23H136.37M134.57 366.43V370.03M133.27 366.93L135.87 369.53M133.27 369.53L135.87 366.93" stroke="#404040" stroke-width="0.6"/><path d="M142.03 378.73H145.63M143.83 376.93V380.53M142.53 377.43L145.13 380.03M142.53 380.03L145.13 377.43" stroke="#404040" stroke-width="0.6"/><path d="M151.30 389.22H154.90M153.10 387.42V391.02M151.80 387.92L154.40 390.52M151.80 390.52L154.40 387.92" stroke="#404040" stroke-width="0.6"/><path d="M160.56 399.72H164.16M162.36 397.92V401.52M161.06 398.42L163.66 401.02M161.06 401.02L163.66 398.42" stroke="#404040" stroke-width="0.6"/><path d="M169.82 404.97H173.42M171.62 403.17V406.77M170.32 403.67L172.92 406.27M170.32 406.27L172.92 403.67" stroke="#404040" stroke-width="0.6"/><path d="M179.09 415.47H182.69M180.89 413.67V417.27M179.59 414.17L182.19 416.77M179.59 416.77L182.19 414.17" stroke="#404040" stroke-width="0.6"/><path d="M188.35 420.71H191.95M190.15 418.91V422.51M188.85 419.41L191.45 422.01M188.85 422.01L191.45 419.41" stroke="#404040" stroke-width="0.6"/><path d="M197.62 425.96H201.22M199.42 424.16V427.76M198.12 424.66L200.72 427.26M198.12 427.26L200.72 424.66" stroke="#404040" stroke-width="0.6"/><path d="M206.88 431.21H210.48M208.68 429.41V433.01M207.38 429.91L209.98 432.51M207.38 432.51L209.98 429.91" stroke="#404040" stroke-width="0.6"/><path d="M216.14 436.46H219.74M217.94 434.66V438.26M216.64 435.16L219.24 437.76M216.64 437.76L219.24 435.16" stroke="#404040" stroke-width="0.6"/><path d="M225.41 441.71H229.01M227.21 439.91V443.51M225.91 440.41L228.51 443.01M225.91 443.01L228.51 440.41" stroke="#404040" stroke-width="0.6"/><path d="M234.67 446.96H238.27M236.47 445.16V448.76M235.17 445.66L237.77 448.26M235.17 448.26L237.77 445.66" stroke="#404040" stroke-width="0.6"/><path d="M243.94 452.21H247.54M245.74 450.41V454.01M244.44 450.91L247.04 453.51M244.44 453.51L247.04 450.91" stroke="#404040" stroke-width="0.6"/><path d="M253.20 452.21H256.80M255.00 450.41V454.01M253.70 450.91L256.30 453.51M253.70 453.51L256.30 450.91" stroke="#404040" stroke-width="0.6"/><rect x="196.5" y="292.8" width="55.19999999999999" height="43.19999999999999" fill="#fff" stroke="#b0b0b0" stroke-width="0.8"/><line x1="200.5" y1="299.10" x2="221.5" y2="299.10" stroke="#ff4d4d" stroke-width="0.7"/><circle cx="211.00" cy="299.10" r="2.3" fill="none" stroke="#ff4d4d" stroke-width="0.65"/><text x="224.50" y="301.60" font-size="6.9" text-anchor="start" font-weight="normal" style="font-family:'Liberation Sans',Arial,sans-serif" stroke="#111" stroke-width="0.2" fill="#111">Original</text><line x1="200.5" y1="309.40" x2="221.5" y2="309.40" stroke="#44e044" stroke-width="0.7"/><rect x="208.90" y="307.30" width="4.2" height="4.2" fill="none" stroke="#44e044" stroke-width="0.65"/><text x="224.50" y="311.90" font-size="6.9" text-anchor="start" font-weight="normal" style="font-family:'Liberation Sans',Arial,sans-serif" stroke="#111" stroke-width="0.2" fill="#111">Wiener</text><line x1="200.5" y1="319.70" x2="221.5" y2="319.70" stroke="#4d4dff" stroke-width="0.7"/><path d="M208.60 319.70H213.40M211.00 317.30V322.10" stroke="#4d4dff" stroke-width="0.65"/><text x="224.50" y="322.20" font-size="6.9" text-anchor="start" font-weight="normal" style="font-family:'Liberation Sans',Arial,sans-serif" stroke="#111" stroke-width="0.2" fill="#111">Bilateral</text><line x1="200.5" y1="330.00" x2="221.5" y2="330.00" stroke="#404040" stroke-width="0.7"/><path d="M209.20 330.00H212.80M211.00 328.20V331.80M209.70 328.70L212.30 331.30M209.70 331.30L212.30 328.70" stroke="#404040" stroke-width="0.6"/><text x="224.50" y="332.50" font-size="6.9" text-anchor="start" font-weight="normal" style="font-family:'Liberation Sans',Arial,sans-serif" stroke="#111" stroke-width="0.2" fill="#111">Average</text><text x="7.1" y="382" font-size="7.2" text-anchor="middle" font-weight="normal" style="font-family:'Liberation Sans',Arial,sans-serif" stroke="#111" stroke-width="0.2" fill="#111" transform="rotate(-90 7.1 382)">Intensity</text><text x="138.5" y="490.3" font-size="7.2" text-anchor="middle" font-weight="normal" style="font-family:'Liberation Sans',Arial,sans-serif" stroke="#111" stroke-width="0.2" fill="#111">Order of pixels</text><rect x="313.3" y="289.7" width="231.49999999999994" height="183.0" fill="none" stroke="#b0b0b0" stroke-width="0.9"/><line x1="313.30" y1="472.7" x2="313.30" y2="469.4" stroke="#b0b0b0" stroke-width="0.7"/><line x1="313.30" y1="289.7" x2="313.30" y2="293.0" stroke="#b0b0b0" stroke-width="0.7"/><text x="313.30" y="481.10" font-size="7.2" text-anchor="middle" font-weight="normal" style="font-family:'Liberation Sans',Arial,sans-serif" stroke="#111" stroke-width="0.2" fill="#111">0</text><line x1="359.60" y1="472.7" x2="359.60" y2="469.4" stroke="#b0b0b0" stroke-width="0.7"/><line x1="359.60" y1="289.7" x2="359.60" y2="293.0" stroke="#b0b0b0" stroke-width="0.7"/><text x="359.60" y="481.10" font-size="7.2" text-anchor="middle" font-weight="normal" style="font-family:'Liberation Sans',Arial,sans-serif" stroke="#111" stroke-width="0.2" fill="#111">5</text><line x1="405.90" y1="472.7" x2="405.90" y2="469.4" stroke="#b0b0b0" stroke-width="0.7"/><line x1="405.90" y1="289.7" x2="405.90" y2="293.0" stroke="#b0b0b0" stroke-width="0.7"/><text x="405.90" y="481.10" font-size="7.2" text-anchor="middle" font-weight="normal" style="font-family:'Liberation Sans',Arial,sans-serif" stroke="#111" stroke-width="0.2" fill="#111">10</text><line x1="452.20" y1="472.7" x2="452.20" y2="469.4" stroke="#b0b0b0" stroke-width="0.7"/><line x1="452.20" y1="289.7" x2="452.20" y2="293.0" stroke="#b0b0b0" stroke-width="0.7"/><text x="452.20" y="481.10" font-size="7.2" text-anchor="middle" font-weight="normal" style="font-family:'Liberation Sans',Arial,sans-serif" stroke="#111" stroke-width="0.2" fill="#111">15</text><line x1="498.50" y1="472.7" x2="498.50" y2="469.4" stroke="#b0b0b0" stroke-width="0.7"/><line x1="498.50" y1="289.7" x2="498.50" y2="293.0" stroke="#b0b0b0" stroke-width="0.7"/><text x="498.50" y="481.10" font-size="7.2" text-anchor="middle" font-weight="normal" style="font-family:'Liberation Sans',Arial,sans-serif" stroke="#111" stroke-width="0.2" fill="#111">20</text><line x1="544.80" y1="472.7" x2="544.80" y2="469.4" stroke="#b0b0b0" stroke-width="0.7"/><line x1="544.80" y1="289.7" x2="544.80" y2="293.0" stroke="#b0b0b0" stroke-width="0.7"/><text x="544.80" y="481.10" font-size="7.2" text-anchor="middle" font-weight="normal" style="font-family:'Liberation Sans',Arial,sans-serif" stroke="#111" stroke-width="0.2" fill="#111">25</text><line x1="313.3" y1="472.70" x2="316.6" y2="472.70" stroke="#b0b0b0" stroke-width="0.7"/><line x1="544.8" y1="472.70" x2="541.5" y2="472.70" stroke="#b0b0b0" stroke-width="0.7"/><text x="311.10" y="475.30" font-size="7.2" text-anchor="end" font-weight="normal" style="font-family:'Liberation Sans',Arial,sans-serif" stroke="#111" stroke-width="0.2" fill="#111">15</text><line x1="313.3" y1="449.82" x2="316.6" y2="449.82" stroke="#b0b0b0" stroke-width="0.7"/><line x1="544.8" y1="449.82" x2="541.5" y2="449.82" stroke="#b0b0b0" stroke-width="0.7"/><text x="311.10" y="452.43" font-size="7.2" text-anchor="end" font-weight="normal" style="font-family:'Liberation Sans',Arial,sans-serif" stroke="#111" stroke-width="0.2" fill="#111">20</text><line x1="313.3" y1="426.95" x2="316.6" y2="426.95" stroke="#b0b0b0" stroke-width="0.7"/><line x1="544.8" y1="426.95" x2="541.5" y2="426.95" stroke="#b0b0b0" stroke-width="0.7"/><text x="311.10" y="429.55" font-size="7.2" text-anchor="end" font-weight="normal" style="font-family:'Liberation Sans',Arial,sans-serif" stroke="#111" stroke-width="0.2" fill="#111">25</text><line x1="313.3" y1="404.07" x2="316.6" y2="404.07" stroke="#b0b0b0" stroke-width="0.7"/><line x1="544.8" y1="404.07" x2="541.5" y2="404.07" stroke="#b0b0b0" stroke-width="0.7"/><text x="311.10" y="406.68" font-size="7.2" text-anchor="end" font-weight="normal" style="font-family:'Liberation Sans',Arial,sans-serif" stroke="#111" stroke-width="0.2" fill="#111">30</text><line x1="313.3" y1="381.20" x2="316.6" y2="381.20" stroke="#b0b0b0" stroke-width="0.7"/><line x1="544.8" y1="381.20" x2="541.5" y2="381.20" stroke="#b0b0b0" stroke-width="0.7"/><text x="311.10" y="383.80" font-size="7.2" text-anchor="end" font-weight="normal" style="font-family:'Liberation Sans',Arial,sans-serif" stroke="#111" stroke-width="0.2" fill="#111">35</text><line x1="313.3" y1="358.32" x2="316.6" y2="358.32" stroke="#b0b0b0" stroke-width="0.7"/><line x1="544.8" y1="358.32" x2="541.5" y2="358.32" stroke="#b0b0b0" stroke-width="0.7"/><text x="311.10" y="360.93" font-size="7.2" text-anchor="end" font-weight="normal" style="font-family:'Liberation Sans',Arial,sans-serif" stroke="#111" stroke-width="0.2" fill="#111">40</text><line x1="313.3" y1="335.45" x2="316.6" y2="335.45" stroke="#b0b0b0" stroke-width="0.7"/><line x1="544.8" y1="335.45" x2="541.5" y2="335.45" stroke="#b0b0b0" stroke-width="0.7"/><text x="311.10" y="338.05" font-size="7.2" text-anchor="end" font-weight="normal" style="font-family:'Liberation Sans',Arial,sans-serif" stroke="#111" stroke-width="0.2" fill="#111">45</text><line x1="313.3" y1="312.57" x2="316.6" y2="312.57" stroke="#b0b0b0" stroke-width="0.7"/><line x1="544.8" y1="312.57" x2="541.5" y2="312.57" stroke="#b0b0b0" stroke-width="0.7"/><text x="311.10" y="315.18" font-size="7.2" text-anchor="end" font-weight="normal" style="font-family:'Liberation Sans',Arial,sans-serif" stroke="#111" stroke-width="0.2" fill="#111">50</text><line x1="313.3" y1="289.70" x2="316.6" y2="289.70" stroke="#b0b0b0" stroke-width="0.7"/><line x1="544.8" y1="289.70" x2="541.5" y2="289.70" stroke="#b0b0b0" stroke-width="0.7"/><text x="311.10" y="292.30" font-size="7.2" text-anchor="end" font-weight="normal" style="font-family:'Liberation Sans',Arial,sans-serif" stroke="#111" stroke-width="0.2" fill="#111">55</text><polyline points="322.56,312.57 331.82,321.72 341.08,312.57 350.34,321.72 359.60,321.72 368.86,330.88 378.12,330.88 387.38,340.02 396.64,349.18 405.90,358.32 415.16,367.48 424.42,385.77 433.68,394.93 442.94,404.07 452.20,413.23 461.46,413.23 470.72,431.52 479.98,431.52 489.24,431.52 498.50,440.67 507.76,440.67 517.02,449.82 526.28,449.82 535.54,458.98 544.80,458.98" fill="none" stroke="#ff4d4d" stroke-width="0.7"/><circle cx="322.56" cy="312.57" r="2.3" fill="none" stroke="#ff4d4d" stroke-width="0.65"/><circle cx="331.82" cy="321.72" r="2.3" fill="none" stroke="#ff4d4d" stroke-width="0.65"/><circle cx="341.08" cy="312.57" r="2.3" fill="none" stroke="#ff4d4d" stroke-width="0.65"/><circle cx="350.34" cy="321.72" r="2.3" fill="none" stroke="#ff4d4d" stroke-width="0.65"/><circle cx="359.60" cy="321.72" r="2.3" fill="none" stroke="#ff4d4d" stroke-width="0.65"/><circle cx="368.86" cy="330.88" r="2.3" fill="none" stroke="#ff4d4d" stroke-width="0.65"/><circle cx="378.12" cy="330.88" r="2.3" fill="none" stroke="#ff4d4d" stroke-width="0.65"/><circle cx="387.38" cy="340.02" r="2.3" fill="none" stroke="#ff4d4d" stroke-width="0.65"/><circle cx="396.64" cy="349.18" r="2.3" fill="none" stroke="#ff4d4d" stroke-width="0.65"/><circle cx="405.90" cy="358.32" r="2.3" fill="none" stroke="#ff4d4d" stroke-width="0.65"/><circle cx="415.16" cy="367.48" r="2.3" fill="none" stroke="#ff4d4d" stroke-width="0.65"/><circle cx="424.42" cy="385.77" r="2.3" fill="none" stroke="#ff4d4d" stroke-width="0.65"/><circle cx="433.68" cy="394.93" r="2.3" fill="none" stroke="#ff4d4d" stroke-width="0.65"/><circle cx="442.94" cy="404.07" r="2.3" fill="none" stroke="#ff4d4d" stroke-width="0.65"/><circle cx="452.20" cy="413.23" r="2.3" fill="none" stroke="#ff4d4d" stroke-width="0.65"/><circle cx="461.46" cy="413.23" r="2.3" fill="none" stroke="#ff4d4d" stroke-width="0.65"/><circle cx="470.72" cy="431.52" r="2.3" fill="none" stroke="#ff4d4d" stroke-width="0.65"/><circle cx="479.98" cy="431.52" r="2.3" fill="none" stroke="#ff4d4d" stroke-width="0.65"/><circle cx="489.24" cy="431.52" r="2.3" fill="none" stroke="#ff4d4d" stroke-width="0.65"/><circle cx="498.50" cy="440.67" r="2.3" fill="none" stroke="#ff4d4d" stroke-width="0.65"/><circle cx="507.76" cy="440.67" r="2.3" fill="none" stroke="#ff4d4d" stroke-width="0.65"/><circle cx="517.02" cy="449.82" r="2.3" fill="none" stroke="#ff4d4d" stroke-width="0.65"/><circle cx="526.28" cy="449.82" r="2.3" fill="none" stroke="#ff4d4d" stroke-width="0.65"/><circle cx="535.54" cy="458.98" r="2.3" fill="none" stroke="#ff4d4d" stroke-width="0.65"/><circle cx="544.80" cy="458.98" r="2.3" fill="none" stroke="#ff4d4d" stroke-width="0.65"/><polyline points="322.56,308.00 331.82,340.02 341.08,294.27 350.34,321.72 359.60,308.00 368.86,330.88 378.12,317.15 387.38,330.88 396.64,340.02 405.90,349.18 415.16,353.75 424.42,390.35 433.68,390.35 442.94,399.50 452.20,417.80 461.46,399.50 470.72,454.40 479.98,436.10 489.24,417.80 498.50,445.25 507.76,426.95 517.02,454.40 526.28,440.67 535.54,468.12 544.80,454.40" fill="none" stroke="#44e044" stroke-width="0.7"/><rect x="320.46" y="305.90" width="4.2" height="4.2" fill="none" stroke="#44e044" stroke-width="0.65"/><rect x="329.72" y="337.92" width="4.2" height="4.2" fill="none" stroke="#44e044" stroke-width="0.65"/><rect x="338.98" y="292.17" width="4.2" height="4.2" fill="none" stroke="#44e044" stroke-width="0.65"/><rect x="348.24" y="319.62" width="4.2" height="4.2" fill="none" stroke="#44e044" stroke-width="0.65"/><rect x="357.50" y="305.90" width="4.2" height="4.2" fill="none" stroke="#44e044" stroke-width="0.65"/><rect x="366.76" y="328.77" width="4.2" height="4.2" fill="none" stroke="#44e044" stroke-width="0.65"/><rect x="376.02" y="315.05" width="4.2" height="4.2" fill="none" stroke="#44e044" stroke-width="0.65"/><rect x="385.28" y="328.77" width="4.2" height="4.2" fill="none" stroke="#44e044" stroke-width="0.65"/><rect x="394.54" y="337.92" width="4.2" height="4.2" fill="none" stroke="#44e044" stroke-width="0.65"/><rect x="403.80" y="347.07" width="4.2" height="4.2" fill="none" stroke="#44e044" stroke-width="0.65"/><rect x="413.06" y="351.65" width="4.2" height="4.2" fill="none" stroke="#44e044" stroke-width="0.65"/><rect x="422.32" y="388.25" width="4.2" height="4.2" fill="none" stroke="#44e044" stroke-width="0.65"/><rect x="431.58" y="388.25" width="4.2" height="4.2" fill="none" stroke="#44e044" stroke-width="0.65"/><rect x="440.84" y="397.40" width="4.2" height="4.2" fill="none" stroke="#44e044" stroke-width="0.65"/><rect x="450.10" y="415.70" width="4.2" height="4.2" fill="none" stroke="#44e044" stroke-width="0.65"/><rect x="459.36" y="397.40" width="4.2" height="4.2" fill="none" stroke="#44e044" stroke-width="0.65"/><rect x="468.62" y="452.30" width="4.2" height="4.2" fill="none" stroke="#44e044" stroke-width="0.65"/><rect x="477.88" y="434.00" width="4.2" height="4.2" fill="none" stroke="#44e044" stroke-width="0.65"/><rect x="487.14" y="415.70" width="4.2" height="4.2" fill="none" stroke="#44e044" stroke-width="0.65"/><rect x="496.40" y="443.15" width="4.2" height="4.2" fill="none" stroke="#44e044" stroke-width="0.65"/><rect x="505.66" y="424.85" width="4.2" height="4.2" fill="none" stroke="#44e044" stroke-width="0.65"/><rect x="514.92" y="452.30" width="4.2" height="4.2" fill="none" stroke="#44e044" stroke-width="0.65"/><rect x="524.18" y="438.57" width="4.2" height="4.2" fill="none" stroke="#44e044" stroke-width="0.65"/><rect x="533.44" y="466.02" width="4.2" height="4.2" fill="none" stroke="#44e044" stroke-width="0.65"/><rect x="542.70" y="452.30" width="4.2" height="4.2" fill="none" stroke="#44e044" stroke-width="0.65"/><polyline points="322.56,303.43 331.82,321.72 341.08,294.27 350.34,326.30 359.60,312.57 368.86,335.45 378.12,317.15 387.38,330.88 396.64,340.02 405.90,349.18 415.16,353.75 424.42,390.35 433.68,390.35 442.94,399.50 452.20,417.80 461.46,399.50 470.72,454.40 479.98,436.10 489.24,417.80 498.50,445.25 507.76,426.95 517.02,454.40 526.28,440.67 535.54,468.12 544.80,454.40" fill="none" stroke="#4d4dff" stroke-width="0.7"/><path d="M320.16 303.43H324.96M322.56 301.03V305.82" stroke="#4d4dff" stroke-width="0.65"/><path d="M329.42 321.72H334.22M331.82 319.32V324.12" stroke="#4d4dff" stroke-width="0.65"/><path d="M338.68 294.27H343.48M341.08 291.88V296.67" stroke="#4d4dff" stroke-width="0.65"/><path d="M347.94 326.30H352.74M350.34 323.90V328.70" stroke="#4d4dff" stroke-width="0.65"/><path d="M357.20 312.57H362.00M359.60 310.18V314.97" stroke="#4d4dff" stroke-width="0.65"/><path d="M366.46 335.45H371.26M368.86 333.05V337.85" stroke="#4d4dff" stroke-width="0.65"/><path d="M375.72 317.15H380.52M378.12 314.75V319.55" stroke="#4d4dff" stroke-width="0.65"/><path d="M384.98 330.88H389.78M387.38 328.48V333.27" stroke="#4d4dff" stroke-width="0.65"/><path d="M394.24 340.02H399.04M396.64 337.62V342.42" stroke="#4d4dff" stroke-width="0.65"/><path d="M403.50 349.18H408.30M405.90 346.78V351.57" stroke="#4d4dff" stroke-width="0.65"/><path d="M412.76 353.75H417.56M415.16 351.35V356.15" stroke="#4d4dff" stroke-width="0.65"/><path d="M422.02 390.35H426.82M424.42 387.95V392.75" stroke="#4d4dff" stroke-width="0.65"/><path d="M431.28 390.35H436.08M433.68 387.95V392.75" stroke="#4d4dff" stroke-width="0.65"/><path d="M440.54 399.50H445.34M442.94 397.10V401.90" stroke="#4d4dff" stroke-width="0.65"/><path d="M449.80 417.80H454.60M452.20 415.40V420.20" stroke="#4d4dff" stroke-width="0.65"/><path d="M459.06 399.50H463.86M461.46 397.10V401.90" stroke="#4d4dff" stroke-width="0.65"/><path d="M468.32 454.40H473.12M470.72 452.00V456.80" stroke="#4d4dff" stroke-width="0.65"/><path d="M477.58 436.10H482.38M479.98 433.70V438.50" stroke="#4d4dff" stroke-width="0.65"/><path d="M486.84 417.80H491.64M489.24 415.40V420.20" stroke="#4d4dff" stroke-width="0.65"/><path d="M496.10 445.25H500.90M498.50 442.85V447.65" stroke="#4d4dff" stroke-width="0.65"/><path d="M505.36 426.95H510.16M507.76 424.55V429.35" stroke="#4d4dff" stroke-width="0.65"/><path d="M514.62 454.40H519.42M517.02 452.00V456.80" stroke="#4d4dff" stroke-width="0.65"/><path d="M523.88 440.67H528.68M526.28 438.27V443.07" stroke="#4d4dff" stroke-width="0.65"/><path d="M533.14 468.12H537.94M535.54 465.73V470.52" stroke="#4d4dff" stroke-width="0.65"/><path d="M542.40 454.40H547.20M544.80 452.00V456.80" stroke="#4d4dff" stroke-width="0.65"/><polyline points="322.56,312.57 331.82,321.72 341.08,308.00 350.34,312.57 359.60,312.57 368.86,317.15 378.12,312.57 387.38,321.72 396.64,335.45 405.90,344.60 415.16,358.32 424.42,390.35 433.68,404.07 442.94,413.23 452.20,422.38 461.46,413.23 470.72,445.25 479.98,436.10 489.24,431.52 498.50,445.25 507.76,440.67 517.02,454.40 526.28,454.40 535.54,463.55 544.80,463.55" fill="none" stroke="#404040" stroke-width="0.7"/><path d="M320.76 312.57H324.36M322.56 310.77V314.38M321.26 311.27L323.86 313.88M321.26 313.88L323.86 311.27" stroke="#404040" stroke-width="0.6"/><path d="M330.02 321.72H333.62M331.82 319.92V323.52M330.52 320.42L333.12 323.02M330.52 323.02L333.12 320.42" stroke="#404040" stroke-width="0.6"/><path d="M339.28 308.00H342.88M341.08 306.20V309.80M339.78 306.70L342.38 309.30M339.78 309.30L342.38 306.70" stroke="#404040" stroke-width="0.6"/><path d="M348.54 312.57H352.14M350.34 310.77V314.38M349.04 311.27L351.64 313.88M349.04 313.88L351.64 311.27" stroke="#404040" stroke-width="0.6"/><path d="M357.80 312.57H361.40M359.60 310.77V314.38M358.30 311.27L360.90 313.88M358.30 313.88L360.90 311.27" stroke="#404040" stroke-width="0.6"/><path d="M367.06 317.15H370.66M368.86 315.35V318.95M367.56 315.85L370.16 318.45M367.56 318.45L370.16 315.85" stroke="#404040" stroke-width="0.6"/><path d="M376.32 312.57H379.92M378.12 310.77V314.38M376.82 311.27L379.42 313.88M376.82 313.88L379.42 311.27" stroke="#404040" stroke-width="0.6"/><path d="M385.58 321.72H389.18M387.38 319.92V323.52M386.08 320.42L388.68 323.02M386.08 323.02L388.68 320.42" stroke="#404040" stroke-width="0.6"/><path d="M394.84 335.45H398.44M396.64 333.65V337.25M395.34 334.15L397.94 336.75M395.34 336.75L397.94 334.15" stroke="#404040" stroke-width="0.6"/><path d="M404.10 344.60H407.70M405.90 342.80V346.40M404.60 343.30L407.20 345.90M404.60 345.90L407.20 343.30" stroke="#404040" stroke-width="0.6"/><path d="M413.36 358.32H416.96M415.16 356.52V360.12M413.86 357.02L416.46 359.62M413.86 359.62L416.46 357.02" stroke="#404040" stroke-width="0.6"/><path d="M422.62 390.35H426.22M424.42 388.55V392.15M423.12 389.05L425.72 391.65M423.12 391.65L425.72 389.05" stroke="#404040" stroke-width="0.6"/><path d="M431.88 404.07H435.48M433.68 402.27V405.88M432.38 402.77L434.98 405.38M432.38 405.38L434.98 402.77" stroke="#404040" stroke-width="0.6"/><path d="M441.14 413.23H444.74M442.94 411.43V415.03M441.64 411.93L444.24 414.53M441.64 414.53L444.24 411.93" stroke="#404040" stroke-width="0.6"/><path d="M450.40 422.38H454.00M452.20 420.57V424.18M450.90 421.07L453.50 423.68M450.90 423.68L453.50 421.07" stroke="#404040" stroke-width="0.6"/><path d="M459.66 413.23H463.26M461.46 411.43V415.03M460.16 411.93L462.76 414.53M460.16 414.53L462.76 411.93" stroke="#404040" stroke-width="0.6"/><path d="M468.92 445.25H472.52M470.72 443.45V447.05M469.42 443.95L472.02 446.55M469.42 446.55L472.02 443.95" stroke="#404040" stroke-width="0.6"/><path d="M478.18 436.10H481.78M479.98 434.30V437.90M478.68 434.80L481.28 437.40M478.68 437.40L481.28 434.80" stroke="#404040" stroke-width="0.6"/><path d="M487.44 431.52H491.04M489.24 429.72V433.32M487.94 430.22L490.54 432.82M487.94 432.82L490.54 430.22" stroke="#404040" stroke-width="0.6"/><path d="M496.70 445.25H500.30M498.50 443.45V447.05M497.20 443.95L499.80 446.55M497.20 446.55L499.80 443.95" stroke="#404040" stroke-width="0.6"/><path d="M505.96 440.67H509.56M507.76 438.87V442.47M506.46 439.37L509.06 441.97M506.46 441.97L509.06 439.37" stroke="#404040" stroke-width="0.6"/><path d="M515.22 454.40H518.82M517.02 452.60V456.20M515.72 453.10L518.32 455.70M515.72 455.70L518.32 453.10" stroke="#404040" stroke-width="0.6"/><path d="M524.48 454.40H528.08M526.28 452.60V456.20M524.98 453.10L527.58 455.70M524.98 455.70L527.58 453.10" stroke="#404040" stroke-width="0.6"/><path d="M533.74 463.55H537.34M535.54 461.75V465.35M534.24 462.25L536.84 464.85M534.24 464.85L536.84 462.25" stroke="#404040" stroke-width="0.6"/><path d="M543.00 463.55H546.60M544.80 461.75V465.35M543.50 462.25L546.10 464.85M543.50 464.85L546.10 462.25" stroke="#404040" stroke-width="0.6"/><rect x="467.3" y="293.2" width="74.99999999999994" height="42.80000000000001" fill="#fff" stroke="#b0b0b0" stroke-width="0.8"/><line x1="471.3" y1="299.50" x2="492.3" y2="299.50" stroke="#ff4d4d" stroke-width="0.7"/><circle cx="481.80" cy="299.50" r="2.3" fill="none" stroke="#ff4d4d" stroke-width="0.65"/><text x="495.30" y="302.00" font-size="6.9" text-anchor="start" font-weight="normal" style="font-family:'Liberation Sans',Arial,sans-serif" stroke="#111" stroke-width="0.2" fill="#111">Original</text><line x1="471.3" y1="309.80" x2="492.3" y2="309.80" stroke="#44e044" stroke-width="0.7"/><rect x="479.70" y="307.70" width="4.2" height="4.2" fill="none" stroke="#44e044" stroke-width="0.65"/><text x="495.30" y="312.30" font-size="6.9" text-anchor="start" font-weight="normal" style="font-family:'Liberation Sans',Arial,sans-serif" stroke="#111" stroke-width="0.2" fill="#111">UMF</text><line x1="471.3" y1="320.10" x2="492.3" y2="320.10" stroke="#4d4dff" stroke-width="0.7"/><path d="M479.40 320.10H484.20M481.80 317.70V322.50" stroke="#4d4dff" stroke-width="0.65"/><text x="495.30" y="322.60" font-size="6.9" text-anchor="start" font-weight="normal" style="font-family:'Liberation Sans',Arial,sans-serif" stroke="#111" stroke-width="0.2" fill="#111">Bilateral+UMF</text><line x1="471.3" y1="330.40" x2="492.3" y2="330.40" stroke="#404040" stroke-width="0.7"/><path d="M480.00 330.40H483.60M481.80 328.60V332.20M480.50 329.10L483.10 331.70M480.50 331.70L483.10 329.10" stroke="#404040" stroke-width="0.6"/><text x="495.30" y="332.90" font-size="6.9" text-anchor="start" font-weight="normal" style="font-family:'Liberation Sans',Arial,sans-serif" stroke="#111" stroke-width="0.2" fill="#111">Proposed</text><text x="296.5" y="382" font-size="7.2" text-anchor="middle" font-weight="normal" style="font-family:'Liberation Sans',Arial,sans-serif" stroke="#111" stroke-width="0.2" fill="#111" transform="rotate(-90 296.5 382)">Intensity</text><text x="428.5" y="490.3" font-size="7.2" text-anchor="middle" font-weight="normal" style="font-family:'Liberation Sans',Arial,sans-serif" stroke="#111" stroke-width="0.2" fill="#111">Order of pixels</text>
</svg></body></html>
